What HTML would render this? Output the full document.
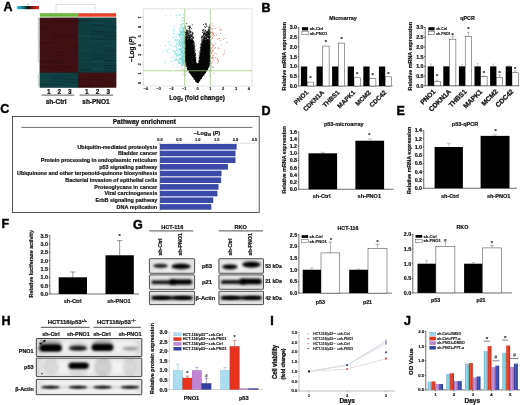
<!DOCTYPE html>
<html lang="en"><head><meta charset="utf-8"><title>Figure</title>
<style>
html,body{margin:0;padding:0;background:#fff;}
body{width:520px;height:405px;overflow:hidden;}
svg{display:block;font-family:"Liberation Sans",Arial,Helvetica,sans-serif;}
</style></head><body>
<svg width="520" height="405" viewBox="0 0 520 405">
<defs>
<linearGradient id="key" x1="0" x2="1" y1="0" y2="0"><stop offset="0" stop-color="#35c8d8"/><stop offset="0.28" stop-color="#1a7e88"/><stop offset="0.5" stop-color="#101010"/><stop offset="0.72" stop-color="#8a1c18"/><stop offset="1" stop-color="#e8281c"/></linearGradient>
<filter id="b1" x="-30%" y="-120%" width="160%" height="340%"><feGaussianBlur stdDeviation="0.85"/></filter>
<filter id="b2" x="-30%" y="-120%" width="160%" height="340%"><feGaussianBlur stdDeviation="2"/></filter>
<filter id="b3" x="-30%" y="-150%" width="160%" height="400%"><feGaussianBlur stdDeviation="1.5"/></filter>
<linearGradient id="jg0" x1="0" x2="1" y1="0" y2="0"><stop offset="0" stop-color="#5fb0c8"/><stop offset="0.4" stop-color="#9adcee"/><stop offset="1" stop-color="#5fb0c8"/></linearGradient>
<linearGradient id="jg1" x1="0" x2="1" y1="0" y2="0"><stop offset="0" stop-color="#c42412"/><stop offset="0.4" stop-color="#f04a34"/><stop offset="1" stop-color="#c42412"/></linearGradient>
<linearGradient id="jg2" x1="0" x2="1" y1="0" y2="0"><stop offset="0" stop-color="#9a68b4"/><stop offset="0.4" stop-color="#cc98dc"/><stop offset="1" stop-color="#9a68b4"/></linearGradient>
<linearGradient id="jg3" x1="0" x2="1" y1="0" y2="0"><stop offset="0" stop-color="#26348c"/><stop offset="0.4" stop-color="#4a5cbc"/><stop offset="1" stop-color="#26348c"/></linearGradient>
<clipPath id="cg00"><rect x="149.4" y="258.7" width="45.2" height="14.6" rx="0.6"/></clipPath>
<clipPath id="cg01"><rect x="149.4" y="274.9" width="45.2" height="14.4" rx="0.6"/></clipPath>
<clipPath id="cg02"><rect x="149.4" y="291.3" width="45.2" height="13.3" rx="0.6"/></clipPath>
<clipPath id="cg10"><rect x="218.9" y="258.7" width="45.2" height="14.6" rx="0.6"/></clipPath>
<clipPath id="cg11"><rect x="218.9" y="274.9" width="45.2" height="14.4" rx="0.6"/></clipPath>
<clipPath id="cg12"><rect x="218.9" y="291.3" width="45.2" height="13.3" rx="0.6"/></clipPath>
<clipPath id="ch0"><rect x="36.3" y="338.5" width="105.5" height="18" rx="1"/></clipPath>
<clipPath id="ch1"><rect x="36.3" y="358.1" width="105.5" height="18.5" rx="1"/></clipPath>
<clipPath id="ch2"><rect x="36.3" y="379.4" width="105.5" height="15.3" rx="1"/></clipPath>
</defs>
<rect width="520" height="405" fill="#fff"/>
<text x="3.5" y="10.7" font-size="12.5" text-anchor="start" font-weight="bold" fill="#000" stroke="#000" stroke-width="0.44">A</text>
<rect x="17" y="6" width="22" height="3.2" fill="url(#key)"/>
<text x="28" y="5.2" font-size="2" text-anchor="middle" font-weight="normal" fill="#555" stroke="#555" stroke-width="0.07">0</text>
<path d="M56 12.5V4.5H95V12.5" fill="none" stroke="#b8c4c8" stroke-width="0.5"/>
<rect x="39.8" y="13.2" width="38.4" height="3.5" fill="#6cb83c"/>
<rect x="78.2" y="13.2" width="38" height="3.5" fill="#e8422c"/>
<rect x="39.8" y="17.8" width="76.4" height="69.7" fill="#1a1a1c"/>
<rect x="39.8" y="17.8" width="38.6" height="55" fill="#3e1013"/>
<rect x="78.2" y="17.8" width="38" height="55" fill="#0f3e41"/>
<rect x="39.8" y="72.6" width="38.6" height="14.9" fill="#0f4043"/>
<rect x="78.2" y="72.6" width="38" height="14.9" fill="#411013"/>
<rect x="52.6" y="17.8" width="12.9" height="0.8" fill="#4c1316" opacity="0.75"/>
<rect x="65.4" y="17.8" width="12.9" height="0.8" fill="#441616" opacity="0.75"/>
<rect x="78.2" y="17.8" width="12.77" height="0.8" fill="#14545a" opacity="0.75"/>
<rect x="90.87" y="17.8" width="12.77" height="0.8" fill="#14545a" opacity="0.75"/>
<rect x="103.53" y="17.8" width="12.77" height="0.8" fill="#124c50" opacity="0.75"/>
<rect x="39.8" y="19.4" width="12.9" height="0.8" fill="#4c1316" opacity="0.75"/>
<rect x="65.4" y="19.4" width="12.9" height="0.8" fill="#441616" opacity="0.75"/>
<rect x="78.2" y="19.4" width="12.77" height="0.8" fill="#0b3234" opacity="0.75"/>
<rect x="52.6" y="20.6" width="12.9" height="1" fill="#340c0f" opacity="0.75"/>
<rect x="65.4" y="20.6" width="12.9" height="1" fill="#340c0f" opacity="0.75"/>
<rect x="78.2" y="20.6" width="12.77" height="1" fill="#0b3234" opacity="0.75"/>
<rect x="39.8" y="22.8" width="12.9" height="1" fill="#441616" opacity="0.75"/>
<rect x="65.4" y="22.8" width="12.9" height="1" fill="#4c1316" opacity="0.75"/>
<rect x="90.87" y="22.8" width="12.77" height="1" fill="#124c50" opacity="0.75"/>
<rect x="90.87" y="24.6" width="12.77" height="1" fill="#0b3234" opacity="0.75"/>
<rect x="39.8" y="26.8" width="12.9" height="0.6" fill="#481215" opacity="0.75"/>
<rect x="90.87" y="26.8" width="12.77" height="0.6" fill="#124c50" opacity="0.75"/>
<rect x="103.53" y="26.8" width="12.77" height="0.6" fill="#0a2c2e" opacity="0.75"/>
<rect x="39.8" y="27.8" width="12.9" height="0.8" fill="#300a0d" opacity="0.75"/>
<rect x="52.6" y="27.8" width="12.9" height="0.8" fill="#4c1316" opacity="0.75"/>
<rect x="103.53" y="27.8" width="12.77" height="0.8" fill="#11484a" opacity="0.75"/>
<rect x="90.87" y="31" width="12.77" height="1" fill="#0a2c2e" opacity="0.75"/>
<rect x="52.6" y="32.8" width="12.9" height="0.6" fill="#441616" opacity="0.75"/>
<rect x="65.4" y="32.8" width="12.9" height="0.6" fill="#4c1316" opacity="0.75"/>
<rect x="78.2" y="32.8" width="12.77" height="0.6" fill="#11484a" opacity="0.75"/>
<rect x="90.87" y="32.8" width="12.77" height="0.6" fill="#0b3234" opacity="0.75"/>
<rect x="103.53" y="32.8" width="12.77" height="0.6" fill="#0a2c2e" opacity="0.75"/>
<rect x="39.8" y="33.8" width="12.9" height="0.6" fill="#441616" opacity="0.75"/>
<rect x="52.6" y="33.8" width="12.9" height="0.6" fill="#340c0f" opacity="0.75"/>
<rect x="90.87" y="33.8" width="12.77" height="0.6" fill="#0a2c2e" opacity="0.75"/>
<rect x="52.6" y="35.6" width="12.9" height="0.8" fill="#340c0f" opacity="0.75"/>
<rect x="65.4" y="35.6" width="12.9" height="0.8" fill="#340c0f" opacity="0.75"/>
<rect x="78.2" y="35.6" width="12.77" height="0.8" fill="#14545a" opacity="0.75"/>
<rect x="90.87" y="35.6" width="12.77" height="0.8" fill="#11484a" opacity="0.75"/>
<rect x="103.53" y="35.6" width="12.77" height="0.8" fill="#0a2c2e" opacity="0.75"/>
<rect x="52.6" y="37.6" width="12.9" height="0.8" fill="#340c0f" opacity="0.75"/>
<rect x="90.87" y="38.8" width="12.77" height="0.8" fill="#0a2c2e" opacity="0.75"/>
<rect x="103.53" y="38.8" width="12.77" height="0.8" fill="#0a2c2e" opacity="0.75"/>
<rect x="39.8" y="40.8" width="12.9" height="0.8" fill="#4c1316" opacity="0.75"/>
<rect x="65.4" y="40.8" width="12.9" height="0.8" fill="#4c1316" opacity="0.75"/>
<rect x="78.2" y="40.8" width="12.77" height="0.8" fill="#124c50" opacity="0.75"/>
<rect x="90.87" y="40.8" width="12.77" height="0.8" fill="#14545a" opacity="0.75"/>
<rect x="103.53" y="40.8" width="12.77" height="0.8" fill="#124c50" opacity="0.75"/>
<rect x="39.8" y="42.4" width="12.9" height="1" fill="#340c0f" opacity="0.75"/>
<rect x="65.4" y="42.4" width="12.9" height="1" fill="#481215" opacity="0.75"/>
<rect x="78.2" y="43.8" width="12.77" height="0.8" fill="#124c50" opacity="0.75"/>
<rect x="39.8" y="45.4" width="12.9" height="1" fill="#4c1316" opacity="0.75"/>
<rect x="52.6" y="45.4" width="12.9" height="1" fill="#441616" opacity="0.75"/>
<rect x="65.4" y="45.4" width="12.9" height="1" fill="#441616" opacity="0.75"/>
<rect x="103.53" y="45.4" width="12.77" height="1" fill="#124c50" opacity="0.75"/>
<rect x="65.4" y="47.6" width="12.9" height="0.8" fill="#340c0f" opacity="0.75"/>
<rect x="103.53" y="47.6" width="12.77" height="0.8" fill="#0b3234" opacity="0.75"/>
<rect x="78.2" y="49.6" width="12.77" height="0.6" fill="#14545a" opacity="0.75"/>
<rect x="52.6" y="50.6" width="12.9" height="0.8" fill="#441616" opacity="0.75"/>
<rect x="78.2" y="50.6" width="12.77" height="0.8" fill="#11484a" opacity="0.75"/>
<rect x="103.53" y="50.6" width="12.77" height="0.8" fill="#0b3234" opacity="0.75"/>
<rect x="52.6" y="51.8" width="12.9" height="0.6" fill="#300a0d" opacity="0.75"/>
<rect x="52.6" y="53.6" width="12.9" height="0.8" fill="#4c1316" opacity="0.75"/>
<rect x="52.6" y="54.8" width="12.9" height="0.8" fill="#300a0d" opacity="0.75"/>
<rect x="90.87" y="54.8" width="12.77" height="0.8" fill="#0b3234" opacity="0.75"/>
<rect x="103.53" y="54.8" width="12.77" height="0.8" fill="#0b3234" opacity="0.75"/>
<rect x="52.6" y="57.4" width="12.9" height="0.6" fill="#4c1316" opacity="0.75"/>
<rect x="90.87" y="57.4" width="12.77" height="0.6" fill="#0b3234" opacity="0.75"/>
<rect x="103.53" y="57.4" width="12.77" height="0.6" fill="#0b3234" opacity="0.75"/>
<rect x="39.8" y="58.4" width="12.9" height="0.6" fill="#481215" opacity="0.75"/>
<rect x="78.2" y="58.4" width="12.77" height="0.6" fill="#14545a" opacity="0.75"/>
<rect x="90.87" y="58.4" width="12.77" height="0.6" fill="#0b3234" opacity="0.75"/>
<rect x="103.53" y="58.4" width="12.77" height="0.6" fill="#11484a" opacity="0.75"/>
<rect x="65.4" y="59.8" width="12.9" height="1" fill="#441616" opacity="0.75"/>
<rect x="78.2" y="59.8" width="12.77" height="1" fill="#0b3234" opacity="0.75"/>
<rect x="103.53" y="59.8" width="12.77" height="1" fill="#0a2c2e" opacity="0.75"/>
<rect x="39.8" y="61.2" width="12.9" height="1" fill="#340c0f" opacity="0.75"/>
<rect x="52.6" y="61.2" width="12.9" height="1" fill="#300a0d" opacity="0.75"/>
<rect x="78.2" y="61.2" width="12.77" height="1" fill="#124c50" opacity="0.75"/>
<rect x="90.87" y="61.2" width="12.77" height="1" fill="#14545a" opacity="0.75"/>
<rect x="52.6" y="63" width="12.9" height="0.6" fill="#340c0f" opacity="0.75"/>
<rect x="65.4" y="63" width="12.9" height="0.6" fill="#4c1316" opacity="0.75"/>
<rect x="39.8" y="64" width="12.9" height="0.8" fill="#441616" opacity="0.75"/>
<rect x="65.4" y="64" width="12.9" height="0.8" fill="#481215" opacity="0.75"/>
<rect x="103.53" y="65.2" width="12.77" height="1" fill="#0a2c2e" opacity="0.75"/>
<rect x="39.8" y="66.6" width="12.9" height="0.8" fill="#300a0d" opacity="0.75"/>
<rect x="52.6" y="66.6" width="12.9" height="0.8" fill="#340c0f" opacity="0.75"/>
<rect x="65.4" y="66.6" width="12.9" height="0.8" fill="#340c0f" opacity="0.75"/>
<rect x="52.6" y="67.8" width="12.9" height="1" fill="#481215" opacity="0.75"/>
<rect x="90.87" y="67.8" width="12.77" height="1" fill="#124c50" opacity="0.75"/>
<rect x="103.53" y="67.8" width="12.77" height="1" fill="#0a2c2e" opacity="0.75"/>
<rect x="52.6" y="69.2" width="12.9" height="1" fill="#300a0d" opacity="0.75"/>
<rect x="78.2" y="69.2" width="12.77" height="1" fill="#0a2c2e" opacity="0.75"/>
<rect x="90.87" y="69.2" width="12.77" height="1" fill="#11484a" opacity="0.75"/>
<rect x="103.53" y="69.2" width="12.77" height="1" fill="#11484a" opacity="0.75"/>
<rect x="52.6" y="70.6" width="12.9" height="0.8" fill="#4c1316" opacity="0.75"/>
<rect x="65.4" y="70.6" width="12.9" height="0.8" fill="#441616" opacity="0.75"/>
<rect x="103.53" y="70.6" width="12.77" height="0.8" fill="#0b3234" opacity="0.75"/>
<rect x="39.8" y="71.8" width="12.9" height="0.6" fill="#4c1316" opacity="0.75"/>
<rect x="65.4" y="71.8" width="12.9" height="0.6" fill="#340c0f" opacity="0.75"/>
<rect x="39.8" y="73.2" width="12.9" height="0.8" fill="#14545a" opacity="0.75"/>
<rect x="78.2" y="73.2" width="12.77" height="0.8" fill="#4c1316" opacity="0.75"/>
<rect x="103.53" y="73.2" width="12.77" height="0.8" fill="#4c1316" opacity="0.75"/>
<rect x="65.4" y="74.8" width="12.9" height="0.6" fill="#0b3234" opacity="0.75"/>
<rect x="78.2" y="74.8" width="12.77" height="0.6" fill="#4c1316" opacity="0.75"/>
<rect x="103.53" y="74.8" width="12.77" height="0.6" fill="#441616" opacity="0.75"/>
<rect x="52.6" y="76.2" width="12.9" height="0.8" fill="#0b3234" opacity="0.75"/>
<rect x="90.87" y="76.2" width="12.77" height="0.8" fill="#340c0f" opacity="0.75"/>
<rect x="103.53" y="76.2" width="12.77" height="0.8" fill="#481215" opacity="0.75"/>
<rect x="52.6" y="78.2" width="12.9" height="0.8" fill="#0a2c2e" opacity="0.75"/>
<rect x="78.2" y="78.2" width="12.77" height="0.8" fill="#481215" opacity="0.75"/>
<rect x="39.8" y="79.4" width="12.9" height="0.6" fill="#14545a" opacity="0.75"/>
<rect x="65.4" y="79.4" width="12.9" height="0.6" fill="#0a2c2e" opacity="0.75"/>
<rect x="78.2" y="79.4" width="12.77" height="0.6" fill="#300a0d" opacity="0.75"/>
<rect x="90.87" y="79.4" width="12.77" height="0.6" fill="#300a0d" opacity="0.75"/>
<rect x="52.6" y="81.2" width="12.9" height="0.8" fill="#0b3234" opacity="0.75"/>
<rect x="78.2" y="81.2" width="12.77" height="0.8" fill="#340c0f" opacity="0.75"/>
<rect x="90.87" y="81.2" width="12.77" height="0.8" fill="#481215" opacity="0.75"/>
<rect x="39.8" y="82.4" width="12.9" height="0.6" fill="#11484a" opacity="0.75"/>
<rect x="52.6" y="82.4" width="12.9" height="0.6" fill="#124c50" opacity="0.75"/>
<rect x="65.4" y="82.4" width="12.9" height="0.6" fill="#0a2c2e" opacity="0.75"/>
<rect x="103.53" y="82.4" width="12.77" height="0.6" fill="#340c0f" opacity="0.75"/>
<rect x="39.8" y="84.2" width="12.9" height="0.8" fill="#0b3234" opacity="0.75"/>
<rect x="52.6" y="84.2" width="12.9" height="0.8" fill="#0a2c2e" opacity="0.75"/>
<rect x="65.4" y="84.2" width="12.9" height="0.8" fill="#11484a" opacity="0.75"/>
<rect x="52.6" y="85.4" width="12.9" height="0.6" fill="#11484a" opacity="0.75"/>
<rect x="65.4" y="85.4" width="12.9" height="0.6" fill="#11484a" opacity="0.75"/>
<rect x="78.2" y="85.4" width="12.77" height="0.6" fill="#300a0d" opacity="0.75"/>
<rect x="90.87" y="85.4" width="12.77" height="0.6" fill="#340c0f" opacity="0.75"/>
<rect x="103.53" y="85.4" width="12.77" height="0.6" fill="#4c1316" opacity="0.75"/>
<rect x="52.6" y="86.4" width="12.9" height="0.8" fill="#14545a" opacity="0.75"/>
<rect x="65.4" y="86.4" width="12.9" height="0.8" fill="#124c50" opacity="0.75"/>
<rect x="78.2" y="86.4" width="12.77" height="0.8" fill="#340c0f" opacity="0.75"/>
<rect x="90.87" y="86.4" width="12.77" height="0.8" fill="#441616" opacity="0.75"/>
<path d="M38.3 17V62M38.3 74V86" fill="none" stroke="#8a9296" stroke-width="0.5"/>
<text x="48.7" y="94.4" font-size="6.4" text-anchor="middle" font-weight="bold" fill="#111" stroke="#111" stroke-width="0.22">1</text>
<text x="86.8" y="94.4" font-size="6.4" text-anchor="middle" font-weight="bold" fill="#111" stroke="#111" stroke-width="0.22">1</text>
<text x="59.2" y="94.4" font-size="6.4" text-anchor="middle" font-weight="bold" fill="#111" stroke="#111" stroke-width="0.22">2</text>
<text x="97.5" y="94.4" font-size="6.4" text-anchor="middle" font-weight="bold" fill="#111" stroke="#111" stroke-width="0.22">2</text>
<text x="69.7" y="94.4" font-size="6.4" text-anchor="middle" font-weight="bold" fill="#111" stroke="#111" stroke-width="0.22">3</text>
<text x="108.2" y="94.4" font-size="6.4" text-anchor="middle" font-weight="bold" fill="#111" stroke="#111" stroke-width="0.22">3</text>
<line x1="41.5" y1="95.1" x2="74.2" y2="95.1" stroke="#111" stroke-width="0.7"/>
<line x1="79.6" y1="95.1" x2="113" y2="95.1" stroke="#111" stroke-width="0.7"/>
<text x="56.2" y="104.1" font-size="6.5" text-anchor="middle" font-weight="bold" fill="#111" stroke="#111" stroke-width="0.23">sh-Ctrl</text>
<text x="96" y="104.1" font-size="6.5" text-anchor="middle" font-weight="bold" fill="#111" stroke="#111" stroke-width="0.23">sh-PNO1</text>
<rect x="143.2" y="8.9" width="108.8" height="77.1" fill="#fff" stroke="#c4c4c4" stroke-width="0.5"/>
<text x="145.8" y="90.4" font-size="3.9" text-anchor="middle" font-weight="bold" fill="#222" stroke="#222" stroke-width="0.14">−4</text>
<line x1="146.4" y1="86" x2="146.4" y2="86.9" stroke="#888" stroke-width="0.35"/>
<text x="158.6" y="90.4" font-size="3.9" text-anchor="middle" font-weight="bold" fill="#222" stroke="#222" stroke-width="0.14">−3</text>
<line x1="159.2" y1="86" x2="159.2" y2="86.9" stroke="#888" stroke-width="0.35"/>
<text x="171.4" y="90.4" font-size="3.9" text-anchor="middle" font-weight="bold" fill="#222" stroke="#222" stroke-width="0.14">−2</text>
<line x1="172" y1="86" x2="172" y2="86.9" stroke="#888" stroke-width="0.35"/>
<text x="184.2" y="90.4" font-size="3.9" text-anchor="middle" font-weight="bold" fill="#222" stroke="#222" stroke-width="0.14">−1</text>
<line x1="184.8" y1="86" x2="184.8" y2="86.9" stroke="#888" stroke-width="0.35"/>
<text x="197.6" y="90.4" font-size="3.9" text-anchor="middle" font-weight="bold" fill="#222" stroke="#222" stroke-width="0.14">0</text>
<line x1="197.6" y1="86" x2="197.6" y2="86.9" stroke="#888" stroke-width="0.35"/>
<text x="210.4" y="90.4" font-size="3.9" text-anchor="middle" font-weight="bold" fill="#222" stroke="#222" stroke-width="0.14">1</text>
<line x1="210.4" y1="86" x2="210.4" y2="86.9" stroke="#888" stroke-width="0.35"/>
<text x="223.2" y="90.4" font-size="3.9" text-anchor="middle" font-weight="bold" fill="#222" stroke="#222" stroke-width="0.14">2</text>
<line x1="223.2" y1="86" x2="223.2" y2="86.9" stroke="#888" stroke-width="0.35"/>
<text x="236" y="90.4" font-size="3.9" text-anchor="middle" font-weight="bold" fill="#222" stroke="#222" stroke-width="0.14">3</text>
<line x1="236" y1="86" x2="236" y2="86.9" stroke="#888" stroke-width="0.35"/>
<text x="248.8" y="90.4" font-size="3.9" text-anchor="middle" font-weight="bold" fill="#222" stroke="#222" stroke-width="0.14">4</text>
<line x1="248.8" y1="86" x2="248.8" y2="86.9" stroke="#888" stroke-width="0.35"/>
<text x="140.6" y="82.9" font-size="3.6" text-anchor="middle" font-weight="bold" fill="#222" stroke="#222" stroke-width="0.13" transform="rotate(-90 140.6 82.9)">0</text>
<line x1="142.3" y1="82.9" x2="143.2" y2="82.9" stroke="#888" stroke-width="0.35"/>
<text x="140.6" y="73.55" font-size="3.6" text-anchor="middle" font-weight="bold" fill="#222" stroke="#222" stroke-width="0.13" transform="rotate(-90 140.6 73.55)">1</text>
<line x1="142.3" y1="73.55" x2="143.2" y2="73.55" stroke="#888" stroke-width="0.35"/>
<text x="140.6" y="64.2" font-size="3.6" text-anchor="middle" font-weight="bold" fill="#222" stroke="#222" stroke-width="0.13" transform="rotate(-90 140.6 64.2)">2</text>
<line x1="142.3" y1="64.2" x2="143.2" y2="64.2" stroke="#888" stroke-width="0.35"/>
<text x="140.6" y="54.85" font-size="3.6" text-anchor="middle" font-weight="bold" fill="#222" stroke="#222" stroke-width="0.13" transform="rotate(-90 140.6 54.85)">3</text>
<line x1="142.3" y1="54.85" x2="143.2" y2="54.85" stroke="#888" stroke-width="0.35"/>
<text x="140.6" y="45.5" font-size="3.6" text-anchor="middle" font-weight="bold" fill="#222" stroke="#222" stroke-width="0.13" transform="rotate(-90 140.6 45.5)">4</text>
<line x1="142.3" y1="45.5" x2="143.2" y2="45.5" stroke="#888" stroke-width="0.35"/>
<text x="140.6" y="36.15" font-size="3.6" text-anchor="middle" font-weight="bold" fill="#222" stroke="#222" stroke-width="0.13" transform="rotate(-90 140.6 36.15)">5</text>
<line x1="142.3" y1="36.15" x2="143.2" y2="36.15" stroke="#888" stroke-width="0.35"/>
<text x="140.6" y="26.8" font-size="3.6" text-anchor="middle" font-weight="bold" fill="#222" stroke="#222" stroke-width="0.13" transform="rotate(-90 140.6 26.8)">6</text>
<line x1="142.3" y1="26.8" x2="143.2" y2="26.8" stroke="#888" stroke-width="0.35"/>
<text x="140.6" y="17.45" font-size="3.6" text-anchor="middle" font-weight="bold" fill="#222" stroke="#222" stroke-width="0.13" transform="rotate(-90 140.6 17.45)">7</text>
<line x1="142.3" y1="17.45" x2="143.2" y2="17.45" stroke="#888" stroke-width="0.35"/>
<text x="197" y="100" font-size="6.4" text-anchor="middle" font-weight="bold" fill="#111" stroke="#111" stroke-width="0.22">Log<tspan font-size="3.8" dy="1.3">2</tspan><tspan dy="-1.3"> (fold change)</tspan></text>
<text x="133.6" y="49.2" font-size="6.4" text-anchor="middle" font-weight="bold" fill="#111" stroke="#111" stroke-width="0.22" transform="rotate(-90 133.6 49.2)">−Log (<tspan font-style="italic">P</tspan>)</text>
<path d="M186.14 39.89 L186.15 40.97 L186.16 42.04 L186.18 43.12 L186.19 44.19 L186.2 45.27 L186.22 46.34 L186.23 47.42 L186.24 48.49 L186.26 49.57 L186.27 50.64 L186.28 51.72 L186.3 52.79 L186.31 53.87 L186.32 54.94 L186.34 56.02 L186.35 57.09 L186.36 58.17 L186.38 59.24 L186.39 60.32 L186.4 61.4 L186.42 62.47 L186.53 63.55 L186.93 64.62 L187.32 65.7 L187.72 66.77 L188.12 67.85 L188.52 68.92 L188.91 70 L189.4 71.07 L190.13 72.15 L190.87 73.22 L191.6 74.3 L192.34 75.37 L193.07 76.45 L193.81 77.52 L194.54 78.6 L195.28 79.67 L196.01 80.75 L196.75 81.82 L197.48 82.9 L198.45 81.82 L199.19 80.75 L199.92 79.67 L200.66 78.6 L201.39 77.52 L202.13 76.45 L202.86 75.37 L203.6 74.3 L204.33 73.22 L205.07 72.15 L205.8 71.07 L206.29 70 L206.68 68.92 L207.08 67.85 L207.48 66.77 L207.88 65.7 L208.27 64.62 L208.67 63.55 L208.78 62.47 L208.8 61.4 L208.81 60.32 L208.82 59.24 L208.84 58.17 L208.85 57.09 L208.86 56.02 L208.88 54.94 L208.89 53.87 L208.9 52.79 L208.92 51.72 L208.93 50.64 L208.94 49.57 L208.96 48.49 L208.97 47.42 L208.98 46.34 L209 45.27 L209.01 44.19 L209.02 43.12 L209.04 42.04 L209.05 40.97 L209.06 39.89 L202.74 39.89 L202.64 40.47 L202.53 41.06 L202.43 41.64 L202.33 42.23 L202.23 42.81 L202.13 43.4 L202.03 43.98 L201.93 44.57 L201.83 45.15 L201.73 45.73 L201.63 46.32 L201.53 46.9 L201.43 47.49 L201.32 48.07 L201.22 48.66 L201.12 49.24 L201.02 49.82 L200.92 50.41 L200.82 50.99 L200.72 51.58 L200.62 52.16 L200.52 52.75 L200.42 53.33 L200.32 53.92 L200.21 54.5 L200.11 55.08 L200.01 55.67 L199.91 56.25 L199.81 56.84 L199.71 57.42 L199.61 58.01 L199.51 58.59 L199.41 59.17 L199.31 59.76 L199.21 60.34 L199.1 60.93 L199 61.51 L198.9 62.1 L198.8 62.68 L198.7 63.27 L196.5 63.27 L196.4 62.68 L196.3 62.1 L196.2 61.51 L196.1 60.93 L195.99 60.34 L195.89 59.76 L195.79 59.17 L195.69 58.59 L195.59 58.01 L195.49 57.42 L195.39 56.84 L195.29 56.25 L195.19 55.67 L195.09 55.08 L194.99 54.5 L194.88 53.92 L194.78 53.33 L194.68 52.75 L194.58 52.16 L194.48 51.58 L194.38 50.99 L194.28 50.41 L194.18 49.82 L194.08 49.24 L193.98 48.66 L193.88 48.07 L193.77 47.49 L193.67 46.9 L193.57 46.32 L193.47 45.73 L193.37 45.15 L193.27 44.57 L193.17 43.98 L193.07 43.4 L192.97 42.81 L192.87 42.23 L192.77 41.64 L192.67 41.06 L192.56 40.47 L192.46 39.89Z" fill="#0a0a0a"/>
<path d="M208.81 46.24h0.9M202.68 71.47h0.9M190.37 64.43h0.9M206.68 59.52h0.9M203.74 42.59h0.9M200.2 58.3h0.9M185.3 62.78h0.9M202.08 48.23h0.9M185.64 59.07h0.9M204.49 42.45h0.9M196.22 81.44h0.9M209.29 46.15h0.9M205.49 59.69h0.9M199.45 58.71h0.9M207.47 63.24h0.9M192.69 54.93h0.9M192.57 44.94h0.9M188.79 57.83h0.9M201.42 47.68h0.9M204.94 52.54h0.9M207.19 42.19h0.9M186.5 52.62h0.9M189.34 45.87h0.9M186.85 47.36h0.9M207.1 64.62h0.9M184.93 61.94h0.9M209.6 47.75h0.9M194.25 74.38h0.9M186.84 34.13h0.9M187.55 52.73h0.9M184.95 40.64h0.9M187.99 52.02h0.9M200.21 53.65h0.9M194.34 73.57h0.9M200.6 60.56h0.9M192.12 54.35h0.9M207.45 45.73h0.9M192.83 77.42h0.9M202.33 67.44h0.9M195.04 64.78h0.9M187.29 42.26h0.9M198.09 80.74h0.9M201.75 60.68h0.9M190.48 46.03h0.9M189.01 53.67h0.9M209.4 59.66h0.9M203.37 71.71h0.9M185.77 54.81h0.9M202.92 49.94h0.9M204.39 51.85h0.9M195 71.86h0.9M202.75 67.84h0.9M197.63 77.36h0.9M208.21 37.43h0.9M195.31 63.85h0.9M189.15 37.47h0.9M206.54 43.48h0.9M188.12 44.55h0.9M189.84 48.3h0.9M194.59 77.87h0.9M198.32 77.83h0.9M192.44 52.16h0.9M195.61 78.77h0.9M198.01 79.95h0.9M193.61 64.04h0.9M192.32 52.13h0.9M207.35 56.29h0.9M208 43.6h0.9M189.36 69.75h0.9M205.74 66.7h0.9M189.73 39.75h0.9M184.86 54.6h0.9M199.26 80.11h0.9M203.19 46.95h0.9M186.89 63.76h0.9M202.72 38.07h0.9M189.53 47.42h0.9M201.66 59.33h0.9M207.26 55.77h0.9M188.7 56.69h0.9M209.9 50.62h0.9M186.82 32.28h0.9M186.01 64.42h0.9M208.25 44.31h0.9M187.6 42.02h0.9M206.98 58.83h0.9M189.31 61.66h0.9M187.57 57.12h0.9M195.91 78.32h0.9M204.63 50.31h0.9M202.98 59.95h0.9M192.47 63.84h0.9M209.2 60.22h0.9M206.34 60.64h0.9M204.51 69.27h0.9M205.09 49.56h0.9M198.73 80.26h0.9M198.4 61.39h0.9M185.91 58.29h0.9M206.31 48.99h0.9M209.36 44.51h0.9M208.25 61.79h0.9M207.84 35.06h0.9M187.16 54.32h0.9M209.08 44.57h0.9M201.12 56.32h0.9M208.84 48.1h0.9M196.18 76.29h0.9M193.42 41.34h0.9M202.36 65.63h0.9M188.34 62.67h0.9M200.43 58.15h0.9M204.04 61.72h0.9M186.38 59.92h0.9M198.17 67.54h0.9M186.06 38.99h0.9M198 76.71h0.9M208.51 31.69h0.9M191.42 46.35h0.9M190.55 60.22h0.9M192.18 72.33h0.9M199.99 77.25h0.9M189.46 53.18h0.9M190.34 43.54h0.9M204.15 72.77h0.9M201.09 78.09h0.9M192.74 51.86h0.9M194.23 48.63h0.9M203.19 58.17h0.9M189.57 44.15h0.9M191.75 54.83h0.9M189.45 26.16h0.9M207.87 36.85h0.9M187.69 34.53h0.9M190.64 66.85h0.9M208.49 50.47h0.9M200.14 52.13h0.9M192.43 41.3h0.9M194.54 79.17h0.9M189.81 31.42h0.9M208.4 55.02h0.9M209.88 50.48h0.9M203.8 46.67h0.9M199.58 72.84h0.9M198.34 65.05h0.9M208.93 51.05h0.9M187.31 44.07h0.9M189.02 47.25h0.9M192.92 65.23h0.9M187.34 53.36h0.9M190.4 47.35h0.9M191.12 43.9h0.9M193.01 71.57h0.9M206.31 56.4h0.9M204.21 60.63h0.9M205.81 38.81h0.9M191.79 53.99h0.9M188.35 40.89h0.9M187.88 69.7h0.9M201.05 74.72h0.9M187.92 45.29h0.9M205.78 44.33h0.9M203.26 56.43h0.9M199.35 71.11h0.9M188.67 44.71h0.9M186.97 68.4h0.9M193.02 62.32h0.9M184.99 54.69h0.9M202.49 46.06h0.9M186.3 52.29h0.9M204.31 62.49h0.9M201.55 69.5h0.9M185.19 56.33h0.9M204.93 49.48h0.9M201.42 42.21h0.9M201.36 47.12h0.9M189.39 72.86h0.9M190.05 43.79h0.9M201.52 48.66h0.9M188.11 61.15h0.9M193.28 74.94h0.9M208.93 60.73h0.9M189.72 35.25h0.9M202.67 67.37h0.9M193.25 67.53h0.9M206.04 68.48h0.9M208.24 61.77h0.9M205.24 60.97h0.9M200.93 75.94h0.9M201.97 55.96h0.9M208.77 41.06h0.9M191.95 42.03h0.9M189.86 63.79h0.9M201.89 52.42h0.9M189.46 53.62h0.9M187.54 54.27h0.9M206.11 69.55h0.9M194.4 75.58h0.9M190.66 50.68h0.9M185.15 62.95h0.9M189.71 69.02h0.9M208.26 50.49h0.9M208.36 51.39h0.9M191.37 64.28h0.9M200.09 57.29h0.9M188.99 49.01h0.9M188.12 62.96h0.9M204.94 48.5h0.9M186.5 55.25h0.9M187.22 67.03h0.9M206.12 56.3h0.9M187.04 59h0.9M189.11 59.38h0.9M201.6 56.5h0.9M189 36.07h0.9M188.05 62.89h0.9M191.56 72.28h0.9M198.4 77.66h0.9M208.71 52.01h0.9M184.74 39.57h0.9M187.84 39.32h0.9M191.53 69.02h0.9M192.53 44.3h0.9M190.61 60.83h0.9M190.92 73.59h0.9M201.48 72.15h0.9M187.54 54.82h0.9M201.97 55.06h0.9M188.74 47.63h0.9M203.62 45.09h0.9M202.29 40.82h0.9M206.38 57.48h0.9M200.86 70.53h0.9M193.05 60.26h0.9M201.54 71.42h0.9M184.94 55.65h0.9M209.58 47.11h0.9M201.03 71.28h0.9M194.42 73.75h0.9M188.83 35.42h0.9M189.16 27.65h0.9M209.09 43.32h0.9M196.58 79.97h0.9M189.93 62.08h0.9M190.8 53.91h0.9M201.16 73.43h0.9M208.63 57.06h0.9M190.15 51.5h0.9M184.82 41.71h0.9M204 48.38h0.9M205.56 35.67h0.9M191.51 59.68h0.9M189.61 55.75h0.9M190.65 68.36h0.9M196.02 65.6h0.9M200 77.05h0.9M203.11 41.43h0.9M189.8 44.27h0.9M192.93 63.38h0.9M187.12 47.26h0.9M205.29 34.09h0.9M202.83 67.84h0.9M192.93 76.76h0.9M206.03 49.23h0.9M206.99 62.11h0.9M202.41 45.77h0.9M197.96 77.62h0.9M193.81 46.94h0.9M194.75 59.08h0.9M190.82 45.42h0.9M191.01 54.91h0.9M185.7 45.22h0.9M206.93 60.71h0.9M201.96 70.09h0.9M201.29 55.13h0.9M205.66 40.71h0.9M205.72 40.35h0.9M193.98 56.96h0.9M185.18 32.43h0.9M191.61 40.16h0.9M199.88 52.52h0.9M187.87 63.23h0.9M185.99 59.63h0.9M189.09 43.6h0.9M192.94 75.88h0.9M202.25 45.97h0.9M198.21 72.04h0.9M199.31 78.24h0.9M186.61 42.98h0.9M209.91 57.75h0.9M206.94 63.81h0.9M198.94 71.37h0.9M205.05 54.04h0.9M199.84 60.51h0.9M185.57 53.01h0.9M186.33 45.27h0.9M190.58 73.47h0.9M191.13 67.19h0.9M199.92 74.75h0.9M189.28 42.94h0.9M202.51 50.94h0.9M189.3 58.99h0.9M203.7 52.33h0.9M189.9 66.18h0.9M200.36 49.44h0.9M188.48 56.65h0.9M207.94 32.98h0.9M209.72 49.94h0.9M193.72 58h0.9M206.62 62.2h0.9M190.79 68.37h0.9M188.47 57.62h0.9M188.45 63.69h0.9M203.24 66.15h0.9M188.55 66h0.9M202.64 73.07h0.9M208.38 44.62h0.9M207.1 61.25h0.9M186.37 47.9h0.9M196.79 77.93h0.9M188.29 56.58h0.9M202.67 36.1h0.9M205.51 59.17h0.9M204.66 62.01h0.9M191.46 68.68h0.9M206.12 68.05h0.9M207.31 32.69h0.9M204.66 47.67h0.9M196.75 79.91h0.9M198.93 75.78h0.9M204.55 52.92h0.9M206.76 51.94h0.9M194.36 68.73h0.9M207.8 50.07h0.9M203.42 49.11h0.9M191.87 75h0.9M209.57 63.07h0.9M192.1 40.24h0.9M189.85 64.31h0.9M208.1 47.3h0.9M186.59 60.47h0.9M205.25 43.17h0.9M185.01 54.74h0.9M194.6 78.06h0.9M209.19 27.76h0.9M206.26 54.69h0.9M205.33 70.79h0.9M186.91 61.2h0.9M207.58 33.36h0.9M191.49 71.71h0.9M202.8 67.73h0.9M198.38 65.99h0.9M192.68 50.73h0.9M190.03 35.92h0.9M187.48 60.26h0.9M186.33 41.27h0.9M194.88 63.6h0.9M202.45 54.2h0.9M199.19 70.27h0.9M189.3 53.67h0.9M199.78 64.64h0.9M197.41 80h0.9M185.45 56.29h0.9M185.28 38.78h0.9M204.02 55.64h0.9M197.37 69.73h0.9M196.22 70.13h0.9M207.72 64.41h0.9M186.01 57.08h0.9M202.03 75.33h0.9M184.75 58.18h0.9M191.76 73.71h0.9M207.68 50.8h0.9M200.63 62.86h0.9M186.11 56.99h0.9M205.72 44.49h0.9M192.38 56.39h0.9M205.83 71.42h0.9M201.86 57.16h0.9M190.67 47.83h0.9M196.63 69.74h0.9M194.28 57.49h0.9M188.94 35.83h0.9M199.85 66.78h0.9M205.7 65.64h0.9M199.35 72.39h0.9M187.19 59.17h0.9M186.64 33.33h0.9M208.77 29.98h0.9M198.85 62.95h0.9M202.95 64.54h0.9M190.76 44.7h0.9M203.94 63.46h0.9M195.68 73.32h0.9M207.92 43.37h0.9M209.79 48.78h0.9M206.4 43.28h0.9M200.52 73.66h0.9M191.33 75.09h0.9M194.53 67.72h0.9M201.8 60.58h0.9M199.55 67.67h0.9M203.43 60.88h0.9M192.68 50.06h0.9M203.45 56.48h0.9M186.42 64.81h0.9M202.45 65.58h0.9M188.29 61.53h0.9M191.23 60.95h0.9M185.17 58.64h0.9M209.62 55.94h0.9M197.4 81.51h0.9M193.34 75.61h0.9M200.39 60.87h0.9M208.36 33.82h0.9M194.22 58.28h0.9M199.93 76.19h0.9M191.36 60.99h0.9M189.91 64.71h0.9M193.23 46.73h0.9M190.69 50.55h0.9M196.03 81.61h0.9M186.23 65.4h0.9M204.43 68.13h0.9M191.41 34.99h0.9M203.67 45.7h0.9M186.31 46.84h0.9M205.9 50.3h0.9M207.23 68.78h0.9M187.3 42.06h0.9M209.67 41.65h0.9M184.98 40.75h0.9M193.46 74.53h0.9M207.02 43.78h0.9M208.7 48.26h0.9M186.26 43.14h0.9M203.92 36.7h0.9M184.52 51.21h0.9M205.59 68.54h0.9M201.24 75.55h0.9M195.94 67.78h0.9M209.08 61.77h0.9M199.94 68.93h0.9M209.92 32.59h0.9M207.93 45.33h0.9M209.75 61.64h0.9M207.56 41.63h0.9M208.2 61.77h0.9M193.48 47.7h0.9M208.23 48.73h0.9M201.86 72.86h0.9M198.69 73.82h0.9M199.54 65.36h0.9M203.92 54.17h0.9M206.77 44.47h0.9M193.74 43.95h0.9M208.17 44.79h0.9M188.51 39.44h0.9M200.48 66.05h0.9M188.54 49.61h0.9M198.52 75.21h0.9M198.47 68.15h0.9M187.16 48.18h0.9M202.74 48.94h0.9M188.12 41.83h0.9M201.41 45.84h0.9M203.15 61.45h0.9M187.23 37.53h0.9M204.35 42.45h0.9M204.26 63.1h0.9M187.07 55.95h0.9M186.48 51.82h0.9M201.29 65.88h0.9M201.25 76.79h0.9M188.47 41.59h0.9M189.64 58.99h0.9M189.57 43.35h0.9M188.87 32.01h0.9M194.88 50.32h0.9M190.24 50.39h0.9M188.01 50.8h0.9M201.24 53.06h0.9M205.07 50.82h0.9M194.61 59.9h0.9M192.33 72.04h0.9M193.6 58.86h0.9M188.28 56.49h0.9M203.1 44.81h0.9M190.92 61.2h0.9M201.79 70.18h0.9M187.63 53.47h0.9M203.26 60.91h0.9M198.98 79.01h0.9M187.37 48.33h0.9M189.14 52.36h0.9M188.06 47.82h0.9M202.93 55.8h0.9M209.59 48.81h0.9M199.48 56.67h0.9M191.5 56.51h0.9M198.59 63.27h0.9M187.94 50.21h0.9M202.53 49.9h0.9M200.15 73.9h0.9M186.47 39.71h0.9M188.85 37.11h0.9M205.47 51.12h0.9M195.91 80.82h0.9M204.76 43.62h0.9M202.02 44.45h0.9M188.83 50.88h0.9M207.71 48.71h0.9M200.38 74.36h0.9M185.66 47.51h0.9M202.22 70.32h0.9M186.22 61.23h0.9M198.94 73.81h0.9M194.9 75.08h0.9M202.09 45.22h0.9M199.95 75.3h0.9M185.19 55.14h0.9M189.63 39.08h0.9M193.3 38.38h0.9M189.25 71.46h0.9M200.12 65.01h0.9M204.52 40.94h0.9M187.31 64.62h0.9M204.11 59.82h0.9M202.85 75.18h0.9M189.89 68.77h0.9M186.23 46.77h0.9M187.6 61.93h0.9M208.95 34.19h0.9M205.74 69.46h0.9M203.85 59.83h0.9M202.86 70.05h0.9M185.74 49.87h0.9M207.9 63.4h0.9M190.93 61.3h0.9M187.19 64.03h0.9M207.06 44.36h0.9M185.02 62.21h0.9M191.97 57.15h0.9M207.33 62.07h0.9M189.22 60.4h0.9M198.38 77.02h0.9M204.06 38.95h0.9M188.42 61.99h0.9M195.17 53.97h0.9M207.31 46.08h0.9M184.58 41.39h0.9M198.7 73.39h0.9M192.51 65.06h0.9M197.17 82.55h0.9M208.56 61.98h0.9M191.24 56.14h0.9M201.51 58.81h0.9M188.14 33.66h0.9M204.39 70.97h0.9M187.5 61.12h0.9M209.38 57.33h0.9M193.52 61.28h0.9M209.26 36.31h0.9M208.55 58.58h0.9M186.16 34.25h0.9M185.55 36.38h0.9M185.39 58.97h0.9M190.99 74.49h0.9M188.04 40.97h0.9M184.93 35.01h0.9M192.39 76.59h0.9M207.45 47.88h0.9M202.75 48.11h0.9M203.43 60.87h0.9M190.01 70.11h0.9M191.98 65.17h0.9M207.17 51.6h0.9M201.34 60.95h0.9M186.2 48.1h0.9M202.7 70.52h0.9M186.4 44.85h0.9M198.95 75.79h0.9M202.57 53.45h0.9M184.77 41.99h0.9M184.47 43.59h0.9M195.98 76.07h0.9M204.3 59.74h0.9M189.32 43.32h0.9M193.16 75.05h0.9M184.98 48.88h0.9M203.08 42.79h0.9M191.37 62.2h0.9M201.79 75.26h0.9M192.84 75.35h0.9M191.53 38.51h0.9M190.94 45.66h0.9M187.64 67.7h0.9M186.28 41.91h0.9M206.09 59.31h0.9M194.66 76.04h0.9M184.4 41.86h0.9M206.12 46.99h0.9M187.42 43.77h0.9M188.9 47.58h0.9M194.37 77.27h0.9M187.67 66.82h0.9M206.95 67.78h0.9M205.32 56.03h0.9M187.32 68.13h0.9M186.2 49.81h0.9M194.82 60.04h0.9M203.96 47.99h0.9M193.66 64.65h0.9M190.94 67.89h0.9M205.38 34.15h0.9M189.12 57.45h0.9M189.62 70.81h0.9M205.44 69.06h0.9M184.67 46.76h0.9M203.19 34.19h0.9M203.02 54.39h0.9M189.25 61.4h0.9M200.22 62.35h0.9M199.08 76.64h0.9M208.23 57.58h0.9M208.46 43.78h0.9M190.66 48.46h0.9M190.64 55.67h0.9M201.87 67.7h0.9M185.99 34.39h0.9M199.3 77.88h0.9M206.93 52.19h0.9M188.99 67.7h0.9M185.98 53.22h0.9M208.9 66.08h0.9M185.44 34.52h0.9M190.94 56.36h0.9M205.08 60.32h0.9M186.56 57.06h0.9M193.2 76.65h0.9M203.2 35.02h0.9M202.8 50.23h0.9M193.24 77.5h0.9M190.85 57.39h0.9M209.46 51.36h0.9M189.39 26.92h0.9M209.75 40.62h0.9M192.09 66.58h0.9M197.29 67.91h0.9M199.59 74.29h0.9M192.25 57.13h0.9M193.19 55.56h0.9M199.36 68.92h0.9M204.4 59.66h0.9M206.11 34.97h0.9M201.12 46.67h0.9M186.74 42.4h0.9M202.04 75.96h0.9M186.68 63.49h0.9M198.27 77.97h0.9M209.51 41.64h0.9M194.31 56.54h0.9M190.77 68.29h0.9M188.77 57.33h0.9M198.13 78.29h0.9M200.38 58.75h0.9M202.78 74.43h0.9M193.59 57.59h0.9M196.25 80.23h0.9M194.01 63.94h0.9M204.45 51.1h0.9M189.72 71.9h0.9M191.46 71.75h0.9M201.07 63.12h0.9M189.71 63.32h0.9M206.29 68.74h0.9M203.58 43.94h0.9M209.26 59.97h0.9M187.75 37.93h0.9M202.63 71.31h0.9M205.46 24.4h0.9M209.69 52.96h0.9M206.39 39.91h0.9M189.71 46.39h0.9M200.77 47.19h0.9M195.53 74.15h0.9M189.16 67.42h0.9M189.64 62.55h0.9M206.84 68.69h0.9M203.8 71.61h0.9M191.48 66.2h0.9M206.12 24.15h0.9M200 76.79h0.9M209.87 33.5h0.9M191.41 75.29h0.9M196.98 71.66h0.9M206.69 40.09h0.9M203.16 46.56h0.9M204.46 63.91h0.9M186.72 58.41h0.9M190.25 45.15h0.9M205.17 37.97h0.9M188.67 39.6h0.9M187.05 37.67h0.9M200.01 77.54h0.9M187.95 42.36h0.9M186.22 44.45h0.9M199.88 77.93h0.9M195.54 70.5h0.9M207.21 41.47h0.9M200.67 48.2h0.9M193.24 66.11h0.9M202.96 57.68h0.9M208.28 58.45h0.9M186.9 52.29h0.9M206.6 61.41h0.9M208.91 56.7h0.9M188.24 58.22h0.9M191.09 45.69h0.9M208.99 56.09h0.9M205.15 38.81h0.9M207.43 56.66h0.9M203.27 71.82h0.9M207.38 44.23h0.9M205.58 61.75h0.9M201.36 74.8h0.9M190.47 53.16h0.9M190.71 43.54h0.9M197.78 75.4h0.9M192.55 70.16h0.9M199.13 63.13h0.9M203.76 47.63h0.9M206.34 45.17h0.9M188.18 70.1h0.9M205.8 69.65h0.9M194.79 60.1h0.9M189.74 57.42h0.9M207.43 37.18h0.9M202.41 43.2h0.9M208.18 63.26h0.9M185.67 57.56h0.9M192.69 41.21h0.9M209.03 48.48h0.9M189.62 42.13h0.9M196.93 67.01h0.9M204.28 69.58h0.9M207.44 50.06h0.9M186.03 55.32h0.9M208.18 42.9h0.9M189.71 65.49h0.9M205.83 34.34h0.9M189.45 48.74h0.9M190.09 54.25h0.9M196.3 79.07h0.9M201.11 66.45h0.9M189.64 42.44h0.9M188.06 35.84h0.9M208.86 44.79h0.9M192.25 73.14h0.9M188.33 52.77h0.9M187.63 44.6h0.9M204.42 46.22h0.9M205.41 57.59h0.9M200.03 71.45h0.9M189.56 54.56h0.9M191.91 53.96h0.9M201.88 69.3h0.9M202.65 60.77h0.9M188.93 64.92h0.9M189.27 54.94h0.9M206.7 41.93h0.9M198.01 80.08h0.9M193.38 54.56h0.9M204.03 46.33h0.9M192.1 45.43h0.9M201.57 63.4h0.9M190.37 44.59h0.9M187.23 43.19h0.9M194.58 59.26h0.9M189.41 56.64h0.9M191.9 39.69h0.9M200.27 47.83h0.9M193.35 60.63h0.9M202.55 51.55h0.9M208.9 50.24h0.9M188.45 49.7h0.9M197.79 82.29h0.9M207.79 45.51h0.9M185.36 45.57h0.9M189.17 40.22h0.9M208.3 65.99h0.9M189.14 59.59h0.9M190.22 73.61h0.9M187.14 43.1h0.9M185.75 34.79h0.9M192.25 75.34h0.9M186.14 32.96h0.9M206.59 63.54h0.9M188.12 49.57h0.9M208.26 44.74h0.9M194.35 74.82h0.9M201.85 43.14h0.9M189.06 70.8h0.9M188.7 31.87h0.9M201.94 50.63h0.9M196 70.01h0.9M195.68 67.26h0.9M204.46 55.26h0.9M188.87 62.28h0.9M186.25 49.72h0.9M187.19 58.83h0.9M196.16 73.96h0.9M188.91 42.55h0.9M203.87 60.3h0.9M186.4 55.45h0.9M209.21 41.69h0.9M187.14 43.88h0.9M191.27 41.57h0.9M203.44 49.89h0.9M191.19 36.26h0.9M207.77 52.42h0.9M199.59 54.09h0.9M194.16 78.95h0.9M186.9 32.97h0.9M207.17 40.91h0.9M202.56 32.24h0.9M205.78 60.54h0.9M188.6 63.81h0.9M191.62 70.75h0.9M187.53 65.28h0.9M198.02 65.05h0.9M190.2 32.35h0.9M199.77 56.9h0.9M199.79 78.16h0.9M187.53 56.82h0.9M204.61 41.39h0.9M201.34 56.39h0.9M204.63 46.85h0.9M206.47 43.71h0.9M206.11 55.09h0.9M200.55 44.51h0.9M191.81 52.8h0.9M188.56 51.29h0.9M191.49 54.07h0.9M206.64 56.07h0.9M209.02 49.19h0.9M187.46 50.44h0.9M204.99 45.01h0.9M208.98 62.4h0.9M196.75 82.27h0.9M189.79 65.14h0.9M187.59 64.84h0.9M201.32 48.12h0.9M207.35 57.49h0.9M189.67 63.76h0.9M205.54 61.17h0.9M184.99 55.89h0.9M198.79 81.03h0.9M190.57 51.91h0.9M189.29 39.76h0.9M196.39 81.49h0.9M207.5 55.41h0.9M185.35 56.53h0.9M199.57 70.61h0.9M193.19 59.99h0.9M208.82 61.12h0.9M186.37 50.05h0.9M192.17 51.81h0.9M192.71 54.84h0.9M200.19 70.41h0.9M208.21 59.31h0.9M202.14 73.78h0.9M208.54 61.62h0.9M207.94 53.94h0.9M185.34 58.97h0.9M198.8 63.02h0.9M202.17 51.87h0.9M187.37 52.43h0.9M204.24 62.71h0.9M187.54 58.32h0.9M191.42 56.52h0.9M196.32 65.06h0.9M204.63 45.83h0.9M208.75 39.26h0.9M198.67 72.95h0.9M206 49.28h0.9M194.13 52.04h0.9M204.87 50.3h0.9M186.14 57.33h0.9M207.37 56.92h0.9M208.85 58.25h0.9M188.83 50.35h0.9M203.31 46.09h0.9M207.43 34.69h0.9M196.73 74.47h0.9M194.72 71.98h0.9M209.87 50.01h0.9M200.95 77.83h0.9M190.88 58.47h0.9M188.73 48.43h0.9M207.81 36.41h0.9M205.28 30.91h0.9M192.03 66.77h0.9M191.11 43.57h0.9M203.71 62.3h0.9M204.21 48.63h0.9M201.58 65.79h0.9M188.84 41.92h0.9M193.78 72.34h0.9M197.04 80.1h0.9M190.69 58.08h0.9M206.15 47.53h0.9M200.93 64.62h0.9M205.29 54.82h0.9M207.09 44.18h0.9M208.99 63h0.9M191.86 53.16h0.9M188.93 59.95h0.9M189.99 52.61h0.9M195 65.91h0.9M200.27 59.75h0.9M186.1 39.62h0.9M191.01 70.23h0.9M202.23 64.79h0.9M184.94 40.64h0.9M204.24 70.37h0.9M203.93 56.38h0.9M204.96 55.15h0.9M204.58 42.61h0.9M206.62 45.38h0.9M200.81 50.33h0.9M197.04 71.85h0.9M191.39 61.75h0.9M206.94 59.13h0.9M193.82 73.08h0.9M208.5 45.93h0.9M205.47 49.63h0.9M206.78 62.61h0.9M203.94 72.82h0.9M209.1 44.06h0.9M190.84 44.07h0.9M187.73 47.12h0.9M191.08 51.15h0.9M208.08 42.06h0.9M195.09 79.18h0.9M184.37 38.57h0.9M209.35 51.81h0.9M205.93 49.83h0.9M202.55 50.93h0.9M208.62 52.1h0.9M193.25 63.86h0.9M187.41 58.87h0.9M205.71 67.25h0.9M189.29 40.41h0.9M189.6 70.57h0.9M200.8 54.15h0.9M188.55 43.18h0.9M203.31 63.36h0.9M185.77 41.12h0.9M204.76 42.7h0.9M194.38 68.59h0.9M189.67 58.36h0.9M200.6 71.48h0.9M190.57 45.64h0.9M205.98 53.26h0.9M206.24 35.66h0.9M195.66 78.69h0.9M187.2 35.56h0.9M200.93 71.71h0.9M185.51 62.46h0.9M205.44 36.94h0.9M188.18 67.46h0.9M204.62 56.21h0.9M191.67 44.83h0.9M193.08 69.37h0.9M185.54 57.4h0.9M189.37 50.88h0.9M185.08 48.84h0.9M184.45 36.96h0.9M209.49 54.39h0.9M189.29 66.5h0.9M191.81 64.37h0.9M205.77 58.02h0.9M190.64 43.55h0.9M200.36 59.24h0.9M188.03 50.59h0.9M201.41 36.08h0.9M206.43 37.95h0.9M204.87 56.54h0.9M193.49 61.08h0.9M207.12 42.79h0.9M206.29 33.69h0.9M185.64 59.16h0.9M208.52 57.32h0.9M199.71 75.37h0.9M208.69 64.14h0.9M190.04 41.11h0.9M207.85 42.74h0.9M188.27 63.22h0.9M204.37 71.85h0.9M189.44 46.43h0.9M186.13 37.69h0.9M187.72 36.08h0.9M209.52 48.42h0.9M209.25 39.77h0.9M185.17 59.3h0.9M196.74 73.63h0.9M203.24 46.51h0.9M192.01 43.3h0.9M191.4 65.29h0.9M190.57 63.8h0.9M191.62 70.93h0.9M187.09 58.43h0.9M188.11 55.66h0.9M202.44 71.97h0.9M190.57 56.73h0.9M206.7 69.09h0.9M205.46 67.7h0.9M208 60.36h0.9M206.74 60.46h0.9M184.82 62.1h0.9M197.05 71.94h0.9M201.17 74.56h0.9M187.27 44.61h0.9M207.38 46.08h0.9M190.34 68.91h0.9M200.45 54.62h0.9M206.34 61.44h0.9M205.39 44.81h0.9M202.9 60.6h0.9M191.82 42.99h0.9M202.02 59.21h0.9M185.63 62.89h0.9M192.47 73.82h0.9M201.59 73.45h0.9M200.5 57.14h0.9M205.52 56.86h0.9M201.8 49.73h0.9M188 52.27h0.9M199.59 77.79h0.9M192.55 60.67h0.9M196.51 78.5h0.9M198.25 75.26h0.9M200.56 75.64h0.9M192.01 57.44h0.9M184.98 51.47h0.9M187.69 63.84h0.9M203.38 45.43h0.9M207.99 51.94h0.9M208.47 27.06h0.9M207.62 35.93h0.9M203.84 72.97h0.9M208.12 40.25h0.9M184.36 32.41h0.9M198.61 69.42h0.9M186.61 48.36h0.9M209.74 42.58h0.9M188.84 29.17h0.9M195.98 68.14h0.9M205.51 67.22h0.9M204.33 49.18h0.9M186.73 52.09h0.9M188.85 69.26h0.9M190.46 44.52h0.9M193.9 49.68h0.9M207.11 51.93h0.9M201.96 57.74h0.9M201.6 58.43h0.9M200.63 76.13h0.9M200.37 57.8h0.9M193.13 68.32h0.9M188.74 57.69h0.9M206.25 43.44h0.9M205.42 40.1h0.9M191.79 55.15h0.9M201.94 46.49h0.9M207.89 36.58h0.9M185.33 54.74h0.9M205.41 61.93h0.9M190.26 63.37h0.9M188.31 48.66h0.9M205.01 47.17h0.9M187.71 52.26h0.9M186.26 50.04h0.9M190.49 58.57h0.9M200.63 76.21h0.9M188.09 40.51h0.9M187.75 70.46h0.9M195.33 67.33h0.9M205.83 61.49h0.9M204.86 30.26h0.9M190.19 35.03h0.9M191.16 51.36h0.9M190.35 56.29h0.9M201.09 54.25h0.9M189.48 70.37h0.9M196.32 72.6h0.9M189.96 27.37h0.9M190.22 69.97h0.9M185.95 59.89h0.9M204.78 62.77h0.9M204.77 44.1h0.9M186.61 41.83h0.9M201.36 72.04h0.9M185.68 46.99h0.9M191.02 71.54h0.9M202.84 60.27h0.9M200.98 38.04h0.9M205.93 61.13h0.9M207.43 59.82h0.9M203.96 48.24h0.9M193.51 76.48h0.9M193.41 52.35h0.9M208.01 39.48h0.9M193.11 60.57h0.9M186.99 66.54h0.9M207.49 41.39h0.9M208.7 50.62h0.9M201.29 61.33h0.9M202.71 65.74h0.9M207.05 63.59h0.9M203.63 49.84h0.9M189.69 65.08h0.9M185.66 56.77h0.9M193.88 49.78h0.9M189.1 42.2h0.9M199.52 69.07h0.9M190.43 49.95h0.9M206.81 46.4h0.9M209.53 48.5h0.9M187.04 68.08h0.9M200.98 60.07h0.9M185.34 39.05h0.9M205.45 49.49h0.9M202.25 58.32h0.9M202.36 74.43h0.9M204.96 65.08h0.9M189.78 46.84h0.9M200.46 48.8h0.9M190.63 56.22h0.9M196.01 76.38h0.9M206.57 42.33h0.9M186.79 62.27h0.9M209.09 44.99h0.9M208.94 44.77h0.9M201.04 51.6h0.9M188.44 56.46h0.9M188.77 51.83h0.9M187.41 37.66h0.9M209.12 61.85h0.9M200.01 78.6h0.9M188.13 44.58h0.9M197.55 74.59h0.9M207.98 46.58h0.9M207.83 60.36h0.9M193.95 45.29h0.9M192.96 74.81h0.9M208.93 32.93h0.9M207.43 47.16h0.9M205.51 40.24h0.9M189.4 50.07h0.9M206.27 61.56h0.9M204.8 68h0.9M185.69 64.79h0.9M186.49 44.23h0.9M190.13 67.85h0.9M198.73 64.26h0.9M186.53 58.65h0.9M203.71 59.77h0.9M193.35 72.85h0.9M193.17 47.33h0.9M191.94 32.33h0.9M192.12 63.19h0.9M189.74 37.4h0.9M190.78 68.55h0.9M192.21 61.4h0.9M208.78 41.59h0.9M187.45 39.02h0.9M200.11 60.55h0.9M200.91 65.34h0.9M193.04 50.85h0.9M200.91 49.86h0.9M207.78 48.02h0.9M193.65 76.27h0.9M208.37 52.51h0.9M207.93 59.77h0.9M190.04 72.87h0.9M197.88 67.14h0.9M189.44 31.98h0.9M203.64 35.74h0.9M206.93 58.94h0.9M207.9 54.88h0.9M187.94 47h0.9M189.32 38.52h0.9M190.98 65.88h0.9M188.74 66.73h0.9M206.51 48.36h0.9M193.81 62.33h0.9M204.99 23.78h0.9M199.88 54.42h0.9M189.42 49.78h0.9M189.44 64.58h0.9M207.08 55.34h0.9M202.6 43.37h0.9M207.91 66.84h0.9M188.93 37.49h0.9M191.97 60.16h0.9M190.09 66.08h0.9M191.31 45.99h0.9M192.92 49.31h0.9M193.46 64.36h0.9M200.58 77.97h0.9M203.4 29.61h0.9M193.2 48.71h0.9M185.74 53.98h0.9M205.99 51.06h0.9M188.95 36.61h0.9M208.4 60.02h0.9M200.31 67.63h0.9M194.06 69.45h0.9M202.8 50.26h0.9M208.14 34.27h0.9M186.93 65.51h0.9M206.05 46.04h0.9M186.83 64.44h0.9M189.02 55.26h0.9M192.18 75.91h0.9M200.32 55.35h0.9M209.05 64.28h0.9M204.45 50.43h0.9M206.1 65.3h0.9M190.22 69.68h0.9M190.44 70.28h0.9M200.99 55.09h0.9M207.4 64.6h0.9M193.08 60.67h0.9M189.61 43.77h0.9M186.23 23.7h0.9M208.52 41.15h0.9M196.92 77.64h0.9M192.74 72.52h0.9M192.91 41.99h0.9M198.13 78.42h0.9M206.85 59.82h0.9M191.22 28.48h0.9M209.18 35.64h0.9M188.23 54.2h0.9M188.17 47.58h0.9M195.57 63.38h0.9M188.25 48.36h0.9M188.75 46.45h0.9M189.87 44.05h0.9M188.25 37.95h0.9M189.13 51.04h0.9M186.93 32.14h0.9M208.56 65.24h0.9M208.92 35.62h0.9M186.49 41.83h0.9M207.54 31.26h0.9M208.75 54.44h0.9M186.24 41.33h0.9M193.38 51.07h0.9M188.03 49.47h0.9M185.95 45.78h0.9M190.61 47.36h0.9M199.65 70.2h0.9M202.02 66.89h0.9M190.96 74.77h0.9M190.16 61.81h0.9M191.38 53.22h0.9M205.02 59.99h0.9M205.69 55.27h0.9M190.5 61.54h0.9M201.96 57.37h0.9M207.47 64.41h0.9M201.96 41.71h0.9M201.53 63.79h0.9M186.75 50.85h0.9M187.29 69.31h0.9M189.09 39.79h0.9M188.82 59.01h0.9M189.06 48.87h0.9M187.75 34.71h0.9M188.66 55.41h0.9M201.28 37.62h0.9M205.38 45.85h0.9M209.81 28.1h0.9M192.17 63.92h0.9M184.96 49.74h0.9M199.93 69.1h0.9M199.26 60.06h0.9M204.38 59.74h0.9M207.36 60.92h0.9M195.22 59.4h0.9M187.6 48.15h0.9M206.76 36.57h0.9M192.48 45.89h0.9M194.33 72.61h0.9M196.27 73.34h0.9M208.89 62.69h0.9M187.19 50.4h0.9M193.08 71.32h0.9M206.58 53.99h0.9M190.75 50.87h0.9M199.2 72.62h0.9M192.65 58.05h0.9M200.82 66.91h0.9M189.69 70.96h0.9M187.97 45.95h0.9M205.45 33.78h0.9M188.89 46.18h0.9M194.32 74.37h0.9M192.89 76.77h0.9M192.62 68.4h0.9M189.22 57.66h0.9M189.96 56.66h0.9M184.9 28.12h0.9M205.28 58.84h0.9M207.25 45.5h0.9M209.62 47.77h0.9M203.08 56.7h0.9M199.44 67.73h0.9M196.06 79.38h0.9M189.48 40.53h0.9M189.04 39.51h0.9M198.18 60.8h0.9M187.36 42.12h0.9M192.81 71.92h0.9M202.19 42.49h0.9M194.27 75.4h0.9M191.63 49.14h0.9M188.66 54.87h0.9M185.34 57.04h0.9M204.55 54.61h0.9M200.54 44.09h0.9M206.77 42.92h0.9M195.48 57.76h0.9M190.22 54.84h0.9M207.01 61.71h0.9M205.96 47.18h0.9M202.31 41.71h0.9M192.69 52.64h0.9M207.77 52.57h0.9M200.13 57.91h0.9M189.58 61.99h0.9M191.89 60.67h0.9M202.2 32.37h0.9M202.36 68.64h0.9M193.68 67.31h0.9M192.85 70.59h0.9M192.8 33.31h0.9M192.7 49.09h0.9M189.53 50.51h0.9M186.13 60.26h0.9M208.25 55.66h0.9M187.67 49.04h0.9M205.66 47.85h0.9M201.33 56.37h0.9M203.74 53.27h0.9M207.76 41.73h0.9M206.1 63.2h0.9M185.65 47.72h0.9M192.29 60.03h0.9M188.41 49.34h0.9M200.53 73.77h0.9M188.77 44.44h0.9M184.9 53.13h0.9M201.25 53.24h0.9M188.9 70.51h0.9M205.45 42.48h0.9M203.8 37.53h0.9M193.52 73.01h0.9M198.04 73.38h0.9M202.56 45.79h0.9M189.32 40.84h0.9M201.33 69.1h0.9M187.17 61.88h0.9M185.32 55.75h0.9M192 60.68h0.9M186.64 58.94h0.9M201.63 44.17h0.9M191.28 67.13h0.9M185.34 35.07h0.9M208.21 58.17h0.9M202.54 63.4h0.9M197.6 81.95h0.9M193.36 74h0.9M195.09 55.07h0.9M205.67 47.6h0.9M190.23 63.84h0.9M203.76 40.14h0.9M199.9 77.73h0.9M200.79 63.63h0.9M207.78 67.43h0.9M194.86 57.43h0.9M202.98 70.79h0.9M202.09 62.59h0.9M189.86 32.4h0.9M201.34 70.45h0.9M198.86 51.8h0.9M205.41 47.78h0.9M205.27 42.4h0.9M194.59 77.75h0.9M194.95 69.01h0.9M195.22 78.19h0.9M201.02 72.32h0.9M185.49 43.16h0.9M190.64 73.41h0.9M199.61 73.25h0.9M207.84 53.25h0.9M193.03 66.57h0.9M192.11 75.54h0.9M187.18 63.47h0.9M206.84 64.73h0.9M207.26 63.44h0.9M190.31 44.86h0.9M188.96 53.26h0.9M189.48 37.5h0.9M187.78 54.33h0.9M188.23 60.71h0.9M184.65 42.03h0.9M192.21 62.19h0.9M185.53 33.56h0.9M199.14 73.93h0.9M192.75 46.34h0.9M190.97 69h0.9M205.78 39.38h0.9M192.7 69.72h0.9M186.02 32.48h0.9M186.63 51.4h0.9M186.48 34.88h0.9M186.1 40.4h0.9M206.05 46.46h0.9M202.32 74.68h0.9M191.51 72.5h0.9M188.19 48.1h0.9M189.7 60.69h0.9M191.82 41.44h0.9M189.45 43.72h0.9M187.12 42.45h0.9M203.47 41.73h0.9M207.41 40.52h0.9M206.5 63.99h0.9M186.17 44.64h0.9M189.76 59.68h0.9M205.86 35.17h0.9M189.72 56.55h0.9M190.82 60.99h0.9M199.32 72.76h0.9M205.76 25.95h0.9M199.8 72h0.9M188.11 46.68h0.9M189.36 64.23h0.9M209.29 35.55h0.9M203.43 51.98h0.9M209.06 53.42h0.9M201.35 74.13h0.9M204.65 41.47h0.9M191.94 67.89h0.9M193.1 58.27h0.9M208.54 45.37h0.9M195.46 81.67h0.9M191.78 60.58h0.9M190.12 53.11h0.9M193.63 62.55h0.9M207.53 56.31h0.9M206.22 35.71h0.9M188.29 59.19h0.9M196.2 71.76h0.9M199.25 73.01h0.9M200.83 62.9h0.9M199.21 57.98h0.9M199.69 77.97h0.9M186.97 56.47h0.9M189.83 61.66h0.9M202.49 42.37h0.9M206.35 49.91h0.9M188.94 68.85h0.9M188.08 43.6h0.9M201.85 54.05h0.9M195.77 78.45h0.9M186.24 44.89h0.9M208.96 34.01h0.9M209.75 37.73h0.9M205.13 49.58h0.9M204.29 40.54h0.9M198.61 74.46h0.9M206.31 52.15h0.9M205.55 42.07h0.9M204.33 65.12h0.9M194.85 77.79h0.9M203.87 46.96h0.9M193.19 72.68h0.9M199.87 55.52h0.9M185.13 39.47h0.9M197.5 77.06h0.9M186.94 57.55h0.9M189.65 49.5h0.9M185.41 66.1h0.9M207.29 48.06h0.9M188.57 49.95h0.9M202.93 39.09h0.9M194.45 77.21h0.9M206.24 61.83h0.9M203.02 53.45h0.9M193.88 77.15h0.9M199.89 69.16h0.9M208.89 65.93h0.9M204.47 49.42h0.9M209.67 57.81h0.9M192.06 74.99h0.9M191.27 47.21h0.9M185.35 48.22h0.9M193.52 73.08h0.9M209.74 56.44h0.9M200.1 46.95h0.9M187.29 61.19h0.9M189.47 72.03h0.9M193.81 70.36h0.9M189.17 69.01h0.9M193.66 74.18h0.9M188.83 28.36h0.9M191 48.68h0.9M205.32 52.21h0.9M194.67 69.61h0.9M205.49 58.01h0.9M191.61 60.36h0.9M203.82 70.14h0.9M192.58 58.22h0.9M192.62 41.77h0.9M202.54 65.05h0.9M201.42 74.62h0.9M186.8 68.35h0.9M195.24 76.98h0.9M185.3 45.35h0.9M185.22 32.22h0.9M206.26 41.66h0.9M208.77 31.93h0.9M190.46 51.84h0.9M201.65 48.44h0.9M187.61 36.25h0.9M208.34 41.9h0.9M193.39 72.95h0.9M202.7 68.6h0.9M202.8 45.97h0.9M191.48 39.78h0.9M191.49 66.25h0.9M201.94 44.42h0.9M203.74 56.71h0.9M207.85 37.67h0.9M186.09 66.57h0.9M203.86 52.01h0.9M205.38 58.77h0.9M200.85 49.21h0.9M206.95 39.38h0.9M192.47 53.95h0.9M199.56 76.02h0.9M184.79 58.03h0.9M206 49.16h0.9M190.82 42.68h0.9M200.91 53.78h0.9M187.91 43.39h0.9M189.11 37.39h0.9M188.56 47.91h0.9M192.77 51.8h0.9M188.67 49.89h0.9M196.44 66.65h0.9M207.82 47.14h0.9M190.25 49.58h0.9M205 27.36h0.9M185.01 60.24h0.9M208.12 30.63h0.9M203.37 72.54h0.9M209.03 60.3h0.9M194.31 59.19h0.9M198.49 77.79h0.9M201.04 76.16h0.9M185.51 63.08h0.9M195.66 76.19h0.9M201.35 51.35h0.9M203.66 62.24h0.9M209.29 46.71h0.9M200.68 50.86h0.9M205.47 56.34h0.9M189.15 48.27h0.9M202.66 51.22h0.9M209.18 50.61h0.9M205.32 32.38h0.9M190.91 58.67h0.9M189.37 72.35h0.9M195.44 67.92h0.9M206.29 63.07h0.9M186.02 42.44h0.9M200.37 65.18h0.9M204.06 48.81h0.9M186.86 61.02h0.9M200.77 63.7h0.9M196.12 79.84h0.9M200.86 62.09h0.9M192.02 76.36h0.9M189.28 72.29h0.9M205.86 53.34h0.9M203.21 48.21h0.9M186.92 55.11h0.9M192.35 45.06h0.9M184.61 53.04h0.9M206.96 42.51h0.9M197.02 75.79h0.9M190.56 66.32h0.9M187 50.56h0.9M202.85 65.23h0.9M205.93 62.82h0.9M189.34 59.1h0.9M192.37 43.19h0.9M190.42 52.72h0.9M193.04 64.34h0.9M195.36 68.8h0.9M199.34 62.71h0.9M208.04 66.46h0.9M208.08 59.98h0.9M185.92 31.67h0.9M187.01 58.13h0.9M203.96 43.36h0.9M206.37 36.48h0.9M207.85 56.97h0.9M193.52 52.47h0.9M206.08 57.76h0.9M193.85 46.91h0.9M185.98 48.72h0.9M201.81 75.31h0.9M198.83 79.72h0.9M188.14 39.93h0.9M207.02 50.08h0.9M203.1 63.3h0.9M187.62 45h0.9M194.76 65.78h0.9M185.09 53.76h0.9M199.05 77.45h0.9M193.1 72.56h0.9M208.52 59.86h0.9M187.08 49.66h0.9M187.1 41.28h0.9M208.74 46.54h0.9M192.76 47.67h0.9M199.27 80.11h0.9M200.03 55.92h0.9M201.9 69.86h0.9M203.27 72.95h0.9M184.88 52.24h0.9M208.93 35.01h0.9M195.45 68.02h0.9M194.33 55.53h0.9M185.53 57.56h0.9M187.36 46.61h0.9M209.84 44.03h0.9M203.99 44.14h0.9M189.55 69.88h0.9M207.92 47.41h0.9M203.83 34.52h0.9M203.89 75h0.9M201.54 64.11h0.9M200.6 78.75h0.9M193.14 70.95h0.9M202.62 45.4h0.9M201.9 48.49h0.9M201.88 39.37h0.9M195.13 65.59h0.9M208.15 54.74h0.9M202.06 55.26h0.9M187.46 57.59h0.9M187.54 43.06h0.9M194.49 56.91h0.9M197.59 75.21h0.9M206.09 55.15h0.9M196.31 81.34h0.9M203.57 56.47h0.9M209.9 50.58h0.9M209.67 48.87h0.9M184.61 47.57h0.9M199.66 62.94h0.9M199.15 53.13h0.9M208.6 42.18h0.9M205.49 31.3h0.9M203.82 71.03h0.9M208.25 32.5h0.9M203.05 47.64h0.9M195.79 73.4h0.9M207.83 40.54h0.9M198.42 70.21h0.9M186.55 30.23h0.9M189.41 69.89h0.9M185.53 63.86h0.9M202.74 55.64h0.9M189.53 35.47h0.9M192.68 59.07h0.9M198.17 69.27h0.9M187.05 50.31h0.9M191.35 63.17h0.9M188.12 62.08h0.9M188.31 65.19h0.9M184.95 40.63h0.9M187.34 50.6h0.9M194.78 53.37h0.9M208.87 32.68h0.9M205.54 57.09h0.9M192.22 40.84h0.9M192.12 57.98h0.9M193.3 61.37h0.9M189.52 68.49h0.9M185.92 66.17h0.9M202.54 61.14h0.9M196.09 81.52h0.9M191.9 52.51h0.9M203.63 51.79h0.9M198.7 71.71h0.9M204.25 50.76h0.9M205.13 63.98h0.9M192.77 76.32h0.9M190.58 48.45h0.9M204.61 69.9h0.9M190.74 36.74h0.9M185.66 66.11h0.9M209.33 55.18h0.9M192.18 72.33h0.9M192.03 64.57h0.9M206.23 43.64h0.9M202.37 57.03h0.9M206.99 66.79h0.9M205.37 47.86h0.9M191.92 66.88h0.9M197.45 78.29h0.9M201.4 59.4h0.9M189.19 52.4h0.9M207.31 43.81h0.9M208.72 42h0.9M195.81 79.22h0.9M201.3 60.4h0.9M184.69 48.39h0.9M189.21 43.25h0.9M187.08 57.18h0.9M190.04 50.31h0.9M193.34 75.46h0.9M207.71 64.33h0.9M207.6 52.02h0.9M195.46 80.34h0.9M199.16 79.33h0.9M200.81 70.09h0.9M187.33 37.13h0.9M191.51 57.52h0.9M204.29 45.17h0.9M187.47 49.73h0.9M205.18 55.12h0.9M192.77 59.37h0.9M204.91 47.36h0.9M193.91 75.51h0.9M200.87 45.42h0.9M185.94 56.54h0.9M187.14 33.68h0.9M208.24 32.73h0.9M185.67 63.81h0.9M198.67 62.73h0.9M185.52 54.95h0.9M200.54 73.37h0.9M198.9 72.47h0.9M189.02 63.3h0.9M208.12 63.9h0.9M191.36 54.5h0.9M206.29 61.14h0.9M190.32 50.05h0.9M207.07 40.27h0.9M205.46 62.12h0.9M201.81 44.01h0.9M186.88 56h0.9M193.3 68.21h0.9M187.48 69.52h0.9M201.77 75.73h0.9M207.1 65.17h0.9M206.29 69.63h0.9M208.76 51.1h0.9M204.27 53.66h0.9M202.77 29.44h0.9M205.09 43.32h0.9M201.55 47.11h0.9M208.03 40.95h0.9M187.13 54.85h0.9M192.76 41.09h0.9M189.34 46.03h0.9M187.77 54.83h0.9M202.05 76.51h0.9M198.89 61.7h0.9M208.44 43.86h0.9M184.74 32.93h0.9M186.47 30.79h0.9M186.81 53.7h0.9M207.95 44.44h0.9M185.23 63.17h0.9M202.98 42.2h0.9M207.57 52.05h0.9M199.91 57.48h0.9M190.53 73.74h0.9M186.22 45.36h0.9M184.76 26.77h0.9M201.29 43.09h0.9M194.97 64.5h0.9M202.95 61.27h0.9M188.96 42.89h0.9M188.1 39.5h0.9M192.69 66.52h0.9M188.74 48.37h0.9M207.14 62.06h0.9M187.16 64.57h0.9M189.29 40.44h0.9M204.3 56.45h0.9M197.33 81.66h0.9M202.69 73.73h0.9M207.85 34.15h0.9M205.89 64.9h0.9M192.11 75.28h0.9M200.44 72.62h0.9M190.25 65.91h0.9M193.69 60.11h0.9M189.97 53.38h0.9M188.8 54.08h0.9M187.48 60.14h0.9M205.2 66.54h0.9M203.39 51.24h0.9M201.44 63.82h0.9M185.9 52.91h0.9M192.05 57.87h0.9M206.68 40.1h0.9M208.82 57.75h0.9M184.63 56.5h0.9M190.29 63.81h0.9M191.77 73.16h0.9M198.23 67.45h0.9M202.7 68.74h0.9M208.17 52.72h0.9M189.67 66.01h0.9M189.96 44.53h0.9M207.13 60.23h0.9M196.21 81.53h0.9M204.48 72.41h0.9M208.37 57.72h0.9M188.78 61.76h0.9M204.54 69.07h0.9M200.43 55.62h0.9M207.6 60.71h0.9M190.17 37.51h0.9M186.71 54.16h0.9M184.64 61.89h0.9M185.16 55.84h0.9M185.87 48.08h0.9M203.74 65.52h0.9M203.33 74.88h0.9M185.65 36.45h0.9M193.44 76.61h0.9M199.31 76.84h0.9M201.18 61.18h0.9M188.08 43.2h0.9M185.57 37.33h0.9M199.46 75.67h0.9M187.39 57.01h0.9M209.69 60.72h0.9M206.89 31.4h0.9M185.37 37.71h0.9M187.3 35.72h0.9M207.46 33.2h0.9M201.42 56.46h0.9M203.02 52.01h0.9M192.98 37.31h0.9M191.88 62.93h0.9M185.77 55.49h0.9M201.23 52.35h0.9M190.64 49.1h0.9M196.02 81.26h0.9M199.15 57.86h0.9M184.88 39.35h0.9M205.13 48.79h0.9M190.19 63.78h0.9M209.33 40.45h0.9M197.64 77.42h0.9M193.27 54.32h0.9M188.59 45.8h0.9M190.17 64.21h0.9M199.35 69.09h0.9M200.93 66.09h0.9M204.31 46.38h0.9M196.73 79.21h0.9M198.68 79.13h0.9M192.29 47.15h0.9M189.32 50.86h0.9M208.34 57.63h0.9M196.72 74.22h0.9M190.81 48.93h0.9M193.93 66.45h0.9M203.44 57.77h0.9M185.11 58.7h0.9M207.01 48.89h0.9M195.36 80.79h0.9M205.14 71.03h0.9M207.31 42.81h0.9M204.18 37.53h0.9M207.62 54.86h0.9M203.31 58.6h0.9M202.8 65.96h0.9M195.87 78.45h0.9M209.23 38.14h0.9M195.57 76.9h0.9M188 68.45h0.9M185.37 61.89h0.9M208.85 61.23h0.9M206.01 51.08h0.9M207.27 62.2h0.9M189.12 71.38h0.9M204.72 50.21h0.9M189.53 55.79h0.9M191.31 49.58h0.9M207.32 48.68h0.9M206.15 48.91h0.9M199.65 72.72h0.9M188.73 58.57h0.9M186.31 46.93h0.9M184.79 42.62h0.9M201.23 48.68h0.9M198.29 75.02h0.9M189.05 43.14h0.9M189.15 45.68h0.9M197.68 68.3h0.9M203.28 57.11h0.9M201.69 61.78h0.9M206.46 61.67h0.9M187.5 53.16h0.9M187.83 42.03h0.9M205.83 59.34h0.9M208.14 48.81h0.9M198.18 77.59h0.9M206.06 48.02h0.9M201.43 50.56h0.9M185.78 40.54h0.9M190.3 49.74h0.9M192.91 46.48h0.9M189.12 41.61h0.9M187.98 43.66h0.9M190.31 64.89h0.9M207.02 58.93h0.9M207.08 63.7h0.9M203.75 33.3h0.9M207.74 56.89h0.9M202.51 67.97h0.9M202.78 66.72h0.9M195.13 76h0.9M184.89 61.18h0.9M187.78 30.89h0.9M188.72 51.19h0.9M198.92 61.7h0.9M204.01 60.2h0.9M189.13 55.52h0.9M189.87 40.34h0.9M189.08 53h0.9M206.52 46.42h0.9M188.78 69.62h0.9M205.18 67.67h0.9M186.04 48.1h0.9M185.25 51.8h0.9M203.57 58.92h0.9M186.02 54.34h0.9M192.27 51.59h0.9M204.16 44.8h0.9M194.74 58.04h0.9M207.36 48.03h0.9M205.3 44.32h0.9M203.7 72.85h0.9M201.88 55.01h0.9M207.86 61.35h0.9M187.61 50.23h0.9M204.76 72.95h0.9M204.26 40.35h0.9M203.26 33.79h0.9M188.4 47.1h0.9M206.62 32.39h0.9M208.4 42.65h0.9M187.11 45.49h0.9M185.32 44.11h0.9M205.44 38.59h0.9M188.51 61.76h0.9M188.73 46.49h0.9M201.31 68.21h0.9M196.58 67.18h0.9M185.35 56.02h0.9M207.86 31.05h0.9M207.33 41.52h0.9M185.28 52.38h0.9M188.9 49.64h0.9M204.14 51.15h0.9M185.62 57.63h0.9M190.46 52.28h0.9M195.57 80.35h0.9M198.82 57.06h0.9M204.19 60.89h0.9M202.39 68.14h0.9M209.32 63.24h0.9M202.54 67.72h0.9M185.2 64.09h0.9M202.98 68.38h0.9M203.12 47.95h0.9M192.87 41.66h0.9M185.47 51.53h0.9M207.49 66.62h0.9M192.79 59.63h0.9M187.68 49.43h0.9M204.96 61.55h0.9M201.44 64.9h0.9M199.26 57.46h0.9M208.94 61.12h0.9M187.24 55.74h0.9M189.41 71.82h0.9M196.3 75.36h0.9M205.99 46.51h0.9M207.94 60.2h0.9M197.61 79.37h0.9M200.58 44.96h0.9M189.4 26.83h0.9M188.27 41.1h0.9M197.88 82.09h0.9M185.34 65.5h0.9M192 44.26h0.9M205.78 59.63h0.9M208.08 44.16h0.9M186.69 50.19h0.9M204.09 52.62h0.9M208.78 59.89h0.9M207.46 39.18h0.9M187.87 32.03h0.9M204.81 48.77h0.9M195.56 79.25h0.9M206.54 45.96h0.9M189.06 48.49h0.9M191.23 62.04h0.9M194.36 52.71h0.9M208.02 50.56h0.9M206.5 65.2h0.9M204.47 44.74h0.9M187 52.09h0.9M207.13 43.69h0.9M185 47.25h0.9M185.2 64.7h0.9M202.76 49.84h0.9M200.71 69.77h0.9M208.89 59.8h0.9M204.27 47.62h0.9M186.58 65.42h0.9M200.68 77.57h0.9M207.55 58.87h0.9M185.91 30.81h0.9M195.2 67.35h0.9M205.2 48.15h0.9M198.2 81.91h0.9M192.39 75.79h0.9M200.04 72.36h0.9M196.64 81.36h0.9M195.8 70.51h0.9M200.23 77.86h0.9M207.57 67.8h0.9M208.66 53.47h0.9M195 80.81h0.9M204.15 58.89h0.9M188.1 46.3h0.9M193.42 48h0.9M209.35 55.08h0.9M193.17 66.53h0.9M206.09 50.98h0.9M209.13 54.99h0.9M189.12 44.47h0.9M184.69 49.63h0.9M207.58 65.35h0.9M200.76 75.77h0.9M203.77 54.75h0.9M190.54 71.51h0.9M207.62 56.39h0.9M208.55 47.35h0.9M204.34 71.51h0.9M191.84 46.4h0.9M207.55 42.79h0.9M202.01 65.25h0.9M194.64 78.17h0.9M203.54 36.6h0.9M188.94 49.22h0.9M204.2 38.31h0.9M203.93 52.53h0.9M201.72 63.29h0.9M202.72 49.16h0.9M188.62 72.27h0.9M189.01 57.31h0.9M195.52 65.22h0.9M190.78 52.35h0.9M188.92 70.3h0.9M204.41 72.93h0.9M203.91 48.18h0.9M187.19 36.55h0.9M205.16 45.74h0.9M209.43 51.63h0.9M203.01 70.18h0.9M208.47 65.94h0.9M203.03 52.78h0.9M188.82 66.64h0.9M189.57 59.61h0.9M188.27 55.19h0.9M191.4 43.44h0.9M201.09 61.26h0.9M203.17 46.92h0.9M208.84 42.48h0.9M204.57 67.22h0.9M208.85 56.03h0.9M200.68 73.11h0.9M205.93 51.87h0.9M205.09 64.66h0.9M185.53 63.61h0.9M206.99 55.96h0.9M185.58 63.37h0.9M200.01 75.63h0.9M187.65 39.37h0.9M189.76 70.68h0.9M189.71 59.23h0.9M200.12 78.8h0.9M185.32 43.38h0.9M192.94 51.8h0.9M188.65 41.69h0.9M208.61 54.59h0.9M185.66 29.19h0.9M206.52 50.38h0.9M204.4 62.31h0.9M194.3 68.23h0.9M207.66 58.79h0.9M203.83 51.91h0.9M185.34 50.68h0.9M186.73 38.54h0.9M194.09 61.6h0.9M206.63 53.4h0.9M206.91 42.12h0.9M202.74 54.67h0.9M186.69 37.55h0.9M191.22 66.08h0.9M206.4 61.65h0.9M187.5 51.32h0.9M188.47 61.11h0.9M193.67 65.54h0.9M191.35 49.84h0.9M194.13 78.04h0.9M208.44 56.49h0.9M208.68 62.66h0.9M206.87 49.91h0.9M203.59 41.56h0.9M190.02 36.17h0.9M200.97 70.27h0.9M198.61 55.79h0.9M207.67 58.86h0.9M190.26 61.79h0.9M201.87 63.13h0.9M203 66.19h0.9M205.99 56.87h0.9M188.38 67.31h0.9M204.82 55.1h0.9M207.72 58.81h0.9M201.39 52.63h0.9M202.17 36.11h0.9M209.44 42.62h0.9M202.06 68.43h0.9M208.9 46.61h0.9M190.91 38.83h0.9M201.26 75.05h0.9M199.17 72.92h0.9M203.95 37.34h0.9M185.51 52.14h0.9M192.25 66.04h0.9M204.27 59.32h0.9M205.02 35.48h0.9M203.91 58.32h0.9M189.01 64.07h0.9M198.26 69.33h0.9M204.16 64.99h0.9M196.48 81.7h0.9M204.5 42.56h0.9M205.11 62.9h0.9M203.13 44.93h0.9M186.01 41.23h0.9M193.98 70.12h0.9M202.85 57.16h0.9M188.34 70.2h0.9M193.72 64.55h0.9M197.05 82.12h0.9M206.23 45h0.9M185.15 58.65h0.9M207.42 61.4h0.9M207.81 58.04h0.9M190.69 43.91h0.9M208.89 62.48h0.9M192.07 59.35h0.9M192.63 48.86h0.9M187.21 56.11h0.9M192.26 47.03h0.9M199.85 70.23h0.9M196.22 67.77h0.9M204.46 56h0.9M186.34 64.76h0.9M191.7 58.18h0.9M187.25 52.47h0.9M186.43 36.14h0.9M202.11 53.36h0.9M187.58 49.55h0.9M187.2 53.29h0.9M201.31 40.07h0.9M187.01 54.05h0.9M203.93 62.95h0.9M207.43 44.5h0.9M202.02 68.62h0.9M195.44 69.87h0.9M209.43 45.72h0.9M192.29 57.06h0.9M208.98 49.88h0.9M193.1 72.72h0.9M204.1 66.86h0.9M187.49 43.35h0.9M188.99 64.4h0.9M198.32 77.22h0.9M185.61 48.64h0.9M205.03 68.74h0.9M184.85 45.53h0.9M204.96 40.48h0.9M192.13 35.99h0.9M199.76 78.95h0.9M193.66 58.13h0.9M190.94 62.54h0.9M190.98 73.31h0.9M201.71 64.01h0.9M208.05 46.22h0.9M186.92 50.82h0.9M207.57 52.59h0.9M201.54 68.58h0.9M202.6 58.17h0.9M198.9 62.92h0.9M206.49 55.63h0.9M186.12 36.04h0.9M199.76 55.55h0.9M187.56 55.81h0.9M204.4 43.34h0.9M204.97 58.13h0.9M203.45 60.67h0.9M205.92 48.83h0.9M190.29 57.9h0.9M200.92 44.91h0.9M204.31 33.58h0.9M206.01 57.04h0.9M202.5 40.84h0.9M209.8 63.3h0.9M188.82 63.94h0.9M205.36 69.46h0.9M204.29 51.06h0.9M206 70.31h0.9M189.46 42.44h0.9M194.61 79.49h0.9M201.09 65.65h0.9M198.35 81.28h0.9M201.99 49.13h0.9M190.09 48.32h0.9M192.07 56.04h0.9M205.68 67.16h0.9M205.51 64.38h0.9M191.38 42.29h0.9M188.64 61.8h0.9M203.52 43.52h0.9M196.75 78.39h0.9M206.22 60.56h0.9M188.41 53.63h0.9M199.97 61.46h0.9M191.12 70.7h0.9M200.2 50.58h0.9M207.53 60.74h0.9M194.76 68.44h0.9M192.99 57.82h0.9M203.56 53.29h0.9M200.83 55.42h0.9M190.57 67.93h0.9M206.7 32.58h0.9M186.18 48.66h0.9M205.1 64h0.9M207.73 42.08h0.9M197.34 80.6h0.9M186.52 45.31h0.9M205.84 44.57h0.9M205.8 44.35h0.9M201 60.25h0.9M191.11 73.55h0.9M195.21 78.6h0.9M208.29 43.92h0.9M201.95 55.39h0.9M193.27 76.04h0.9M204.87 50.53h0.9M201.43 44.5h0.9M189.08 47.51h0.9M202.61 75.17h0.9M205.3 58.11h0.9M194.07 51.8h0.9M205.54 55.8h0.9M208.21 40.16h0.9M190.96 74.25h0.9M192.27 74.36h0.9M189.67 37.19h0.9M187.32 40.37h0.9M202.8 49.84h0.9M186.64 39.75h0.9M203.75 31.39h0.9M195.06 60.58h0.9M193.68 78.74h0.9M204.15 38.68h0.9M187.56 50.6h0.9M186.25 55.51h0.9M203 39.03h0.9M203.44 67.85h0.9M191.02 60.84h0.9M189.27 54.89h0.9M186.56 30.55h0.9M205.64 62.32h0.9M190.72 45.85h0.9M188.67 60.86h0.9M189.93 47.1h0.9M194.45 78.31h0.9M200.94 74.34h0.9M204.02 61.42h0.9M200.51 62.68h0.9M195.4 64.45h0.9M191.75 44.75h0.9M206.68 35.27h0.9M186.59 52.02h0.9M206.93 68.39h0.9M186.84 41.06h0.9M187.35 53.9h0.9M193.2 60.82h0.9M185.59 50.64h0.9M191.63 43.91h0.9M194.43 61.81h0.9M191.58 66.27h0.9M188.93 47.74h0.9M200.6 55.14h0.9M187.67 41.54h0.9M192.51 74.96h0.9M202.41 58.44h0.9M191.46 73.65h0.9M186.98 55.13h0.9M192.86 71.83h0.9M190.35 60.46h0.9M199.08 73.91h0.9M185.32 41.45h0.9M194.53 77.52h0.9M204.32 37.25h0.9M200.44 55.98h0.9M203.78 65.8h0.9M186 51.41h0.9M197.62 71.27h0.9M190.15 44.01h0.9M188.53 50.12h0.9M195.02 70.3h0.9M207.63 41.47h0.9M209.23 30.79h0.9M189.83 59.67h0.9M191.89 33.24h0.9M184.61 42.92h0.9M191.2 46.55h0.9M185.22 52.96h0.9M202.5 61.83h0.9M194.34 65.26h0.9M190.32 54.23h0.9M185.67 63.39h0.9M203.37 55.83h0.9M205.6 59.53h0.9M201.3 50.12h0.9M203.37 71.92h0.9M189.72 65.83h0.9M191.28 48.59h0.9M186.26 50.28h0.9M185.03 57.42h0.9M191.59 59.04h0.9M207.21 68.57h0.9M186.21 58.5h0.9M204.11 58.93h0.9M202.05 68.21h0.9M191.97 61.81h0.9M186.82 56.26h0.9M190.26 51.77h0.9M191.23 49.44h0.9M191.95 41.06h0.9M209.7 55.76h0.9M190.04 46.99h0.9M188.63 38.26h0.9M201.3 69.65h0.9M207.67 41.88h0.9M198.78 78.93h0.9M201.6 54.56h0.9M204.72 41.35h0.9M191.2 40.35h0.9M196.46 70.09h0.9M203.62 47.6h0.9M205.99 68.13h0.9M190.34 72.07h0.9M209.06 50.41h0.9M191.64 71.78h0.9M201.69 48.85h0.9M185.68 59.7h0.9M189.24 59.75h0.9M187.29 30.91h0.9M199.75 66.84h0.9M207.56 48.8h0.9M197.13 74.67h0.9M189.01 58.74h0.9M205.23 43.8h0.9M189.07 38.17h0.9M198.52 66.06h0.9M200.7 50.5h0.9M201.79 48.96h0.9M207.29 49.48h0.9M186.85 54.58h0.9M200.5 64.31h0.9M208.31 51.68h0.9M208.16 42.91h0.9M191.89 34.56h0.9M209.87 42.22h0.9M208.68 27.37h0.9M191.74 72.62h0.9M193.47 75.72h0.9M191.91 54.13h0.9M190.81 66.13h0.9M198.19 65.79h0.9M205.41 60.73h0.9M195.96 78.15h0.9M203.72 60.05h0.9M208.49 53.98h0.9M201.76 49.42h0.9M185.97 44.33h0.9M204.87 72.23h0.9M209.33 45.59h0.9M190.65 47.57h0.9M203.27 47.59h0.9M194.58 73.26h0.9M202.82 70.64h0.9M208.65 28.81h0.9M184.95 51.1h0.9M204.81 65.9h0.9M200.98 77.15h0.9M205.85 37.37h0.9M197.5 80.82h0.9M189.08 68.9h0.9M194.29 67.59h0.9M206 54.72h0.9M193.01 72.49h0.9M202.6 66h0.9M195.58 60.19h0.9M198.84 74.44h0.9M190 45.91h0.9M196.46 71.43h0.9M201.07 65.51h0.9M206.72 47.89h0.9M192.22 43.9h0.9M187.72 64.29h0.9M206.01 47.37h0.9M208.08 41.89h0.9M193.87 75.68h0.9M191.19 53.91h0.9M203.98 57.95h0.9M190.47 38.1h0.9M189.07 56.45h0.9M193.6 78.99h0.9M194.32 70.18h0.9M207.9 50.87h0.9M208.53 30.18h0.9M207.31 33.88h0.9M187.44 49.32h0.9M185.08 39.69h0.9M204.02 68.03h0.9M200.77 58.68h0.9M204.86 58.61h0.9M185.65 49.32h0.9M205.81 45.57h0.9M187.14 57.37h0.9M185.53 44.17h0.9M190.37 45.36h0.9M203.27 67.09h0.9M202.51 71.59h0.9M204.91 50.96h0.9M201.83 49.57h0.9M185.56 56.19h0.9M190.92 73.81h0.9M199.73 47.79h0.9M202.84 46.86h0.9M184.49 52.55h0.9M209.55 61.53h0.9M188.17 39.48h0.9M202.7 44.2h0.9M187.02 45.37h0.9M206.57 70.02h0.9M185.6 38.18h0.9M200.45 59.76h0.9M187.88 49.71h0.9M188.26 33.36h0.9M187.16 52.91h0.9M197.56 82.28h0.9M193.39 47.63h0.9M188.94 55.63h0.9M186.91 60.61h0.9M207.17 67.45h0.9M199.7 62.16h0.9M195.8 80.17h0.9M206.94 52.37h0.9M202.54 65.29h0.9M204.25 67.18h0.9M208.94 36.86h0.9M205.79 65.91h0.9M200.59 69.91h0.9M203.97 50.57h0.9M202.24 50.11h0.9M207 45.14h0.9M198.95 65.84h0.9M203.21 48.26h0.9M185.72 61.27h0.9M188.95 55.61h0.9M197.91 79.24h0.9M205.82 56.17h0.9M191.31 50.55h0.9M206.94 48.79h0.9M202.39 63.58h0.9M186.59 45.84h0.9M185.69 37.07h0.9M187.7 67.8h0.9M189.04 71.1h0.9M187.39 44.43h0.9M193.48 51.38h0.9M205.06 57.6h0.9M204.32 55.34h0.9M190.7 55.39h0.9M201.37 37.08h0.9M205.4 56.26h0.9M187.29 50.58h0.9M203.41 68.54h0.9M190.2 60.42h0.9M209.27 41.45h0.9M190.98 71.26h0.9M201.16 75.81h0.9M204.36 43.63h0.9M185.82 64.19h0.9M187.71 62.56h0.9M186.06 57.38h0.9M187.02 65.48h0.9M200.17 64.86h0.9M201.08 70.52h0.9M208.04 54.47h0.9M186.92 59.63h0.9M205.35 38.45h0.9M184.49 54.05h0.9M190.02 70.79h0.9M201.78 44.48h0.9M189.66 43.28h0.9M209.21 53.97h0.9M193.48 64.09h0.9M195.4 79.17h0.9M191.06 50.4h0.9M188.41 52.98h0.9M207.61 61.07h0.9M193.3 57.83h0.9M196.04 77.51h0.9M206.79 54.19h0.9M197.11 76.62h0.9M209.26 45.07h0.9M188.33 43.19h0.9M197.85 78.83h0.9M196.65 68.24h0.9M190.35 60.76h0.9M208.94 60.1h0.9M196.67 77.47h0.9M202.32 49.26h0.9M209.5 36.44h0.9M188.87 45.58h0.9M197.67 69.83h0.9M206.33 52.76h0.9M208.67 60.98h0.9M202.32 44.5h0.9M200.2 78.25h0.9M205.21 44.56h0.9M189.77 49.7h0.9M207.06 49.68h0.9M204.61 51.26h0.9M206.11 35.5h0.9M204.85 62.21h0.9M203.44 39.18h0.9M202.73 55.1h0.9M189.22 40.29h0.9M192.69 46.45h0.9M204.58 65.22h0.9M206.09 66.47h0.9M204.63 62.93h0.9M207.61 64.31h0.9M208.84 38.7h0.9M187.63 69.85h0.9M205.73 34.86h0.9M205.93 59.62h0.9M202.17 75.7h0.9M199.32 57.56h0.9M209.22 38.13h0.9M203.15 59.13h0.9M203.17 74.17h0.9M188.87 45h0.9M189.35 61.11h0.9M202.52 60.49h0.9M208.22 52.26h0.9M192.72 55.49h0.9M207.04 69.55h0.9M207.28 49.3h0.9M196.77 66.94h0.9M202.91 53.65h0.9M199.7 76.89h0.9M205.26 60.55h0.9M203.26 42.17h0.9M200.1 50.77h0.9M199.39 58.33h0.9M192.08 50.57h0.9M186.6 58.76h0.9M203.68 47.26h0.9M203.22 52.7h0.9M203.58 47.02h0.9M188.53 52.89h0.9M195.06 62.02h0.9M192.47 69.83h0.9M202.14 56.6h0.9M190.01 35.07h0.9M187.25 69.87h0.9M207.51 40.75h0.9M189.74 70.45h0.9M197.95 67.06h0.9M201.43 70.09h0.9M192.74 75.83h0.9M187.54 62.36h0.9M190.08 52.61h0.9M198.17 79.91h0.9M198.82 77.58h0.9M188.7 42.98h0.9M191.76 61.96h0.9M196.81 77.85h0.9M198.7 58.5h0.9M207.77 37.32h0.9M192.57 73.64h0.9M194.93 78.87h0.9M187.43 42.17h0.9M206.55 57.97h0.9M207.84 37.54h0.9M189.3 55.11h0.9M195.4 65.67h0.9M200.35 63.58h0.9M193.35 65.59h0.9M188.1 65.36h0.9M191.02 48.88h0.9M193.09 76.39h0.9M192 44.86h0.9M204.22 47.21h0.9M200.11 70.61h0.9M192.8 69.5h0.9M200.07 74.17h0.9M188.65 41.79h0.9M194.06 68.93h0.9M190.83 42.24h0.9M192.21 56.94h0.9M188.46 42.86h0.9M198.52 71.24h0.9M190.32 66.31h0.9M190.49 54.89h0.9M186.69 54.78h0.9M185.39 50.93h0.9M209.22 32.18h0.9M201.46 70.24h0.9M185.64 40.33h0.9M186.44 47.04h0.9M200.6 58.23h0.9M186.45 60.68h0.9M205.49 59.46h0.9M202.41 75.48h0.9M203.03 35.21h0.9M192.59 56.39h0.9M194.04 42.95h0.9M188.9 37.99h0.9M197.17 78.75h0.9M208.84 51.83h0.9M208.57 64.03h0.9M188.9 64.14h0.9M186.9 59.62h0.9M188.88 49.51h0.9M200.96 74.19h0.9M198.65 79.21h0.9M191.25 34.32h0.9M191.88 54.9h0.9M187.3 56.77h0.9M203.49 37.75h0.9M205.25 70.29h0.9M196.07 80.69h0.9M189.28 30.47h0.9M191.12 53.9h0.9M190.25 72.67h0.9M187.15 65.36h0.9M209.34 47.39h0.9M187.61 67.39h0.9M203.99 32.74h0.9M201.45 62.89h0.9M209.07 27.21h0.9M190.63 48.76h0.9M187.71 38.51h0.9M204.94 62.43h0.9M189.52 69.36h0.9M200.21 73.66h0.9M192.58 47.1h0.9M186.41 57.46h0.9M191.93 33.79h0.9M185.11 48.77h0.9M193.89 71.7h0.9M201.67 61.08h0.9M204.83 44.49h0.9M193.33 69.36h0.9M188.09 68.85h0.9M187.02 45.74h0.9M207.33 61.88h0.9M198.95 79.99h0.9M209.22 49.37h0.9M204.6 65.01h0.9M204.19 60.78h0.9M199.61 76.44h0.9M206.83 34.57h0.9M194.06 55.78h0.9M204.12 64.38h0.9M191.89 50.92h0.9M203.94 63.07h0.9M189.97 42.17h0.9M185.31 51.64h0.9M188.99 44.72h0.9M205.87 60.61h0.9M202.85 73.27h0.9M191.22 49.04h0.9M190.47 70.8h0.9M208.68 61.76h0.9M193.8 56.77h0.9M187.91 64.52h0.9M192.46 50.44h0.9M201.29 73.92h0.9M187.51 56.36h0.9M201.37 70.43h0.9M207.26 47.73h0.9M204.51 49.93h0.9M201.36 65.17h0.9M209.35 57.98h0.9M192.55 41.74h0.9M204.42 50.9h0.9M201.6 43.55h0.9M193.79 75.71h0.9M199.48 72.78h0.9M209.12 25.19h0.9M185.41 44.9h0.9M187.91 65.07h0.9M195.82 65.87h0.9M201.09 55.26h0.9M205.39 64.06h0.9M205.45 55.37h0.9M200.11 67.15h0.9M192.31 45.46h0.9M185.24 59.46h0.9M206.63 52.89h0.9M201.05 55.57h0.9M200.28 78.58h0.9M191.02 39.2h0.9M193.81 59.71h0.9M185.34 37.45h0.9M207.41 50.23h0.9M185.16 50.78h0.9M189.29 39.6h0.9M201.79 70.07h0.9M209.1 60.69h0.9M192.9 63.76h0.9M191.24 72.27h0.9M207.45 59.13h0.9M205.15 30.73h0.9M198.68 79.79h0.9M203.75 40.44h0.9M206.59 56.32h0.9M193.02 58.55h0.9M188.87 59.05h0.9M203.75 50.65h0.9M197.86 78.54h0.9M186.37 43.86h0.9M188.82 47.74h0.9M194.41 75.69h0.9M188.21 49.16h0.9M203.8 72.67h0.9M189.91 52.72h0.9M188.7 47.23h0.9M185.35 52.01h0.9M197.91 80.07h0.9M206.51 26.36h0.9M199.53 55.1h0.9M190.54 63.11h0.9M209.8 44.92h0.9M198.21 79.63h0.9M196.84 71.83h0.9M203.65 60.7h0.9M190.54 51.3h0.9M186.65 47.14h0.9M200.14 61.96h0.9M202.33 64.57h0.9M193.93 60.84h0.9M206.65 31.29h0.9M204.69 43.98h0.9M209.79 27.95h0.9M192.28 47.98h0.9M193.32 61.67h0.9M186.84 62.2h0.9M191.87 57.96h0.9M188.71 44.07h0.9M191.56 49.93h0.9M190.04 31.56h0.9M184.62 42.47h0.9M199.62 67.83h0.9M208.18 53.46h0.9M206.93 34.37h0.9M205.49 43.22h0.9M189.36 66.85h0.9M192.12 69.81h0.9M207.2 65.81h0.9M204.97 71.8h0.9M208.53 45.79h0.9M202.6 62.61h0.9M186.44 43.47h0.9M189.25 50.35h0.9M209.41 57.25h0.9M201.5 72.14h0.9M208.54 46.84h0.9M200.11 60.2h0.9M201.27 40.24h0.9M191.48 64.35h0.9M189.15 48.84h0.9M185.49 59.66h0.9M186.97 56.21h0.9M208.54 55.93h0.9M205.78 49.49h0.9M191.47 60.95h0.9M209.18 63.79h0.9M204.2 37.54h0.9M201.55 67.65h0.9M184.38 48.19h0.9M204.91 51.24h0.9M184.73 44.9h0.9M198.37 80.63h0.9M207.16 44.74h0.9M203.36 50.75h0.9M185.69 53.55h0.9M206.85 50.25h0.9M192.92 42.93h0.9M208.43 59.86h0.9M203.51 51.38h0.9M203.3 53.46h0.9M206.35 59.14h0.9M198.68 65.92h0.9M185.1 62.21h0.9M188.65 65.57h0.9M206.5 60.46h0.9M208.89 34.18h0.9M201.11 45.19h0.9M191.43 59.35h0.9M208.31 63.35h0.9M204.47 39.5h0.9M188.62 51.55h0.9M193.78 76.78h0.9M208.27 29.28h0.9M202.88 68.53h0.9M188.3 64.57h0.9M186.48 65.11h0.9M185.08 53.48h0.9M205.35 37.77h0.9M203.78 50h0.9M190.81 50.09h0.9M208.58 40.59h0.9M204.5 33.83h0.9M205.84 57.87h0.9M207.48 36.82h0.9M192.06 75.65h0.9M194.58 64.35h0.9M205.71 61.43h0.9M199.97 55.58h0.9M194.14 75.55h0.9M186.05 51.31h0.9M191.52 48.52h0.9M207.76 46.22h0.9M197.53 76.55h0.9M203.09 62.02h0.9M188.43 50.13h0.9M204.58 53.59h0.9M204.38 71.53h0.9M189.03 68.16h0.9M192.76 75.46h0.9M208.65 57.13h0.9M204.28 52.78h0.9M205.01 60.04h0.9M195.06 79.26h0.9M207.26 50.07h0.9M205.91 65.38h0.9M205.59 57.28h0.9M193.08 42.19h0.9M197.65 66.41h0.9M206.65 50.78h0.9M197.19 79.26h0.9M203.81 46.91h0.9M202.7 41.27h0.9M200.27 54.93h0.9M205.28 60.46h0.9M209.78 50.83h0.9M204.21 37.57h0.9M192.29 51.16h0.9M206.72 70.02h0.9M204.93 52.22h0.9M205.75 45.98h0.9M209.16 45.63h0.9M203.83 39.22h0.9M199.14 73.67h0.9M200.22 56.69h0.9M190.75 44.64h0.9M202.78 51.56h0.9M205.37 60.89h0.9M205.1 70.28h0.9M208.49 29.57h0.9M207.96 54.11h0.9M206.28 51.16h0.9M187.93 59.44h0.9M208.28 45.22h0.9M185.51 45.13h0.9M185.33 42.34h0.9M185.46 49.16h0.9M196.91 77.62h0.9M199.48 72.56h0.9M205.31 69.7h0.9M197.29 77.25h0.9M196.27 73.36h0.9M189.24 50.17h0.9M198.94 74.43h0.9M204.95 35.26h0.9M198.29 78.34h0.9M190.43 48.15h0.9M192.03 73.99h0.9M199.65 72.04h0.9M195.46 62.72h0.9M203.37 65.44h0.9M205.46 38.52h0.9M206.83 46.91h0.9M209.08 31.28h0.9M208.36 44.6h0.9M205.76 49.06h0.9M194.29 51.06h0.9M189.38 71.33h0.9M200.96 78h0.9M202.63 74.59h0.9M204.2 26.72h0.9M188.57 64.99h0.9M207.7 45.46h0.9M185.09 41.24h0.9M198.04 77.94h0.9M205.96 62.44h0.9M199.84 61.3h0.9M191.35 46.74h0.9M207.47 43.03h0.9M184.93 56.12h0.9M190.71 49.56h0.9M207.58 34.88h0.9M202.31 66.74h0.9M194.8 78.98h0.9M208.61 40.68h0.9M193.89 56.2h0.9M209.31 45.6h0.9M201.69 44.68h0.9M209.59 37.13h0.9M193.25 62.52h0.9M206.21 43.32h0.9M190.12 53.02h0.9M186.42 46.19h0.9M206.45 65.88h0.9M193.54 55.41h0.9M201.68 52.66h0.9M207.73 42.59h0.9M189.85 51.43h0.9M186.91 42.9h0.9M184.54 37h0.9M189.66 61.59h0.9M209.74 40.04h0.9M208.67 42.88h0.9M203.39 33.36h0.9M200.11 61.08h0.9M194.52 78.6h0.9M208.09 64.71h0.9M204.67 33.96h0.9M194.18 60.27h0.9M204.94 53.12h0.9M200.42 76.79h0.9M191.78 47.33h0.9M202.01 30.58h0.9M204.2 57.81h0.9M202.09 64.92h0.9M189.82 52.7h0.9M185.03 60.53h0.9M188.97 63.12h0.9M199.91 76.69h0.9M204.96 59.16h0.9M188.03 49.11h0.9M201.59 66.9h0.9M191.77 70.29h0.9M205.46 69.46h0.9M199.22 78.56h0.9M190.41 63.32h0.9M191.76 72.49h0.9M199.55 63h0.9M202.25 37.37h0.9M199.39 78.47h0.9M185.58 60.21h0.9M209.45 41.85h0.9M206.21 63.43h0.9M185.59 41.66h0.9M196.32 75.21h0.9M189.73 39.89h0.9M209.03 57.14h0.9M200.47 52.57h0.9M203.65 69.33h0.9M202.47 44.39h0.9M188.59 28.52h0.9M190.55 64.13h0.9M203.36 61.2h0.9M186.81 37.62h0.9M194.27 75.14h0.9M203.96 48.64h0.9M186.92 42.78h0.9M193.44 76.78h0.9M207.87 60.78h0.9M207.78 65.24h0.9M190.84 74.21h0.9M192.44 36.62h0.9M192.84 72.51h0.9M190.45 65.87h0.9M194.48 46.48h0.9M204.6 51.78h0.9M190.12 51.88h0.9M192.84 71.22h0.9M189.56 57.8h0.9M194.01 61.88h0.9M201.46 59.45h0.9M204.16 48.25h0.9M208.04 43.2h0.9M190.93 35.86h0.9M186.24 65.51h0.9M195.28 62.66h0.9M185.07 49.27h0.9M209.61 37.5h0.9M185.73 34.02h0.9M204.55 38.05h0.9M208.64 53.13h0.9M203.09 50.28h0.9M206.3 47.9h0.9M184.56 40.68h0.9M208.49 52.62h0.9M186.45 47.42h0.9M208.09 34.25h0.9M203.51 50.67h0.9M202.21 61.36h0.9M205.89 53.63h0.9M206.06 47.32h0.9M190.87 59.32h0.9M189.39 69.71h0.9M191.68 68.9h0.9M203.15 24.42h0.9M204.61 71.35h0.9M196.89 82.39h0.9M199.34 58.21h0.9M206.52 42.15h0.9M186.1 39.77h0.9M193.38 68.59h0.9M201.39 67.56h0.9M207.54 60.4h0.9M203.95 63.65h0.9M203.08 66.25h0.9M209.32 62.66h0.9M202.17 70.39h0.9M202.89 38.58h0.9M207.2 39.85h0.9M209.08 38.62h0.9M191.14 47.49h0.9M205.25 64.96h0.9M204.8 46.11h0.9M190.46 70.16h0.9M199.91 77.59h0.9M185.84 50.7h0.9M184.98 51.63h0.9M199.67 73.91h0.9M193.12 52.76h0.9M191.37 54.28h0.9M208.31 46.51h0.9M189.98 67.08h0.9M200.34 60.08h0.9M208.99 41.36h0.9M203.2 71.93h0.9M187.87 58.83h0.9M206.36 49.51h0.9M190.71 72.64h0.9M194.07 60.85h0.9M184.81 49.21h0.9M189.13 48.85h0.9M185.5 48.14h0.9M191.71 42.78h0.9M200.88 49.41h0.9M203.62 50.83h0.9M209.2 34.25h0.9M190.12 69.36h0.9M200.99 64.77h0.9M190.15 65.39h0.9M186.74 54.53h0.9M185.36 49.04h0.9M190.08 62.1h0.9M188.3 70.87h0.9M206.43 46.65h0.9M201.45 60.93h0.9M189.06 53.14h0.9M206.94 48.04h0.9M188.72 34.15h0.9M200.05 50.33h0.9M185.66 57.76h0.9M192.53 70.18h0.9M192.25 37.68h0.9M205.26 58.94h0.9M191.26 41.94h0.9M186.93 45.93h0.9M207.04 49.77h0.9M203.25 61.54h0.9M203.13 30.71h0.9M186.38 59.03h0.9M185.03 57.15h0.9M190.67 56.49h0.9M185.79 38.62h0.9M205.19 67.7h0.9M202.16 69.56h0.9M205.82 49.49h0.9M209.03 56.1h0.9M198.89 79.43h0.9M202.78 74.46h0.9M206.23 67.75h0.9M198.18 78.52h0.9M190.03 49.87h0.9M206.63 62.75h0.9M185.74 59.32h0.9M207.61 43.17h0.9M208.51 37.48h0.9M190.83 45.43h0.9M209.57 52.48h0.9M188.08 69.49h0.9M191.34 46.42h0.9M203.83 41.9h0.9M206.45 54.82h0.9M206.09 52.4h0.9M194.55 59.32h0.9M208.26 58.76h0.9M209.56 63.8h0.9M209.06 46.92h0.9M201.97 63.73h0.9M203.77 60.66h0.9M204.05 52.54h0.9M197.81 81.84h0.9M193.38 66.08h0.9M202.07 73.81h0.9M206.04 53.39h0.9M209.6 41.97h0.9M208.47 47.51h0.9M204.49 58.02h0.9M191.13 58.95h0.9M205.61 51.93h0.9M190.65 44.48h0.9M199.53 63.29h0.9M192.16 39.26h0.9M188.91 49.87h0.9M201.16 52.82h0.9M203.34 42.44h0.9M200.37 60.21h0.9M198.51 78.74h0.9M192.01 63.68h0.9M185.19 40.13h0.9M189.48 33.46h0.9M207.17 31.73h0.9M200.6 70.61h0.9M207.87 57.21h0.9M189.26 64.59h0.9M197.1 69.81h0.9M204.87 55.44h0.9M205.22 56.49h0.9M191.84 70.98h0.9M191.38 58.48h0.9M201.58 74.81h0.9M208.61 45.23h0.9M193.33 44.16h0.9M189.04 46.1h0.9M187.9 26.02h0.9M206.7 51.5h0.9M190.68 61.9h0.9M208.35 42.98h0.9M205.91 35.98h0.9M201.13 45.51h0.9M205.47 68.36h0.9M207.16 41.8h0.9M207.38 32.2h0.9M198.79 78.09h0.9M185.22 48.36h0.9M204.51 50.72h0.9M206.46 64.46h0.9M207.54 58.72h0.9M197.51 80.27h0.9M194.94 55.62h0.9M202.06 61.24h0.9M197.12 76.23h0.9M196.43 80.24h0.9M205.81 51.62h0.9M187.84 42.63h0.9M187.12 55.2h0.9M191.81 49.19h0.9M206.14 32.6h0.9M203.06 71.55h0.9M192.17 69.91h0.9M208.14 33.09h0.9M187.75 69.23h0.9M204.6 38.38h0.9M192.96 53.23h0.9M203.59 54.71h0.9M189.03 57.17h0.9M208.26 37.58h0.9M199.26 78.52h0.9M202.44 69.2h0.9M200.39 57.52h0.9M207.65 63.17h0.9M201.21 64.01h0.9M202.76 66.8h0.9M207.83 52.34h0.9M192.67 37.68h0.9M187.99 56.4h0.9M187.55 44.18h0.9M200.1 75.83h0.9M190.18 40.23h0.9M186.92 45.37h0.9M200.11 71.84h0.9M199.49 74.08h0.9M204.47 61.3h0.9M203.06 61.27h0.9M197.21 78.56h0.9M208 37.82h0.9M187.09 32.03h0.9M188.87 54.24h0.9M191.04 63.42h0.9M206.51 36.68h0.9M189.07 43.61h0.9M206.53 44.64h0.9M203.29 55.69h0.9M208.68 56.87h0.9M202.19 47.5h0.9M198.68 71.85h0.9M201.14 72.14h0.9M195.74 81.46h0.9M201.16 45.09h0.9M204.36 50.09h0.9M187.94 64.54h0.9M202.81 74.58h0.9M187.01 44.86h0.9M201.57 73.86h0.9M192.59 68.38h0.9M204.54 68.71h0.9M208.43 32.28h0.9M206.15 52.95h0.9M191.49 47.51h0.9M191.23 43.59h0.9M191.79 24.93h0.9M209.65 45.35h0.9M197.31 80.34h0.9M186.94 43.53h0.9M204.97 72.7h0.9M195.07 78.26h0.9M185.4 60.7h0.9M190.23 57.09h0.9M187.39 26.66h0.9M191.26 35.91h0.9M184.68 39.86h0.9M185.81 45.9h0.9M208.54 36.7h0.9M202.12 75.22h0.9M199.26 61.92h0.9M193.4 45.6h0.9M206.53 65.07h0.9M190.72 31.98h0.9M195.07 78.99h0.9M209.49 60.71h0.9M189.6 29.75h0.9M206.87 47.71h0.9M207.45 41.75h0.9M203.84 40.26h0.9M190.65 41.49h0.9M207.77 43.52h0.9M186.99 37.93h0.9M186.67 48.96h0.9M190.76 51.6h0.9M195.26 54.06h0.9M198.08 72.8h0.9" stroke="#0a0a0a" stroke-width="0.9" fill="none"/>
<path d="M181.47 33.12h0.9M180.7 61.93h0.9M180.22 51.93h0.9M183.48 31.36h0.9M182.81 61.9h0.9M178.86 49.4h0.9M181.94 51.24h0.9M182.65 17.55h0.9M181.88 50.17h0.9M175.9 15.27h0.9M181.88 24.46h0.9M170.7 48.83h0.9M180.49 58.05h0.9M163.61 61.7h0.9M179.45 34.72h0.9M183.3 54.12h0.9M181 20.96h0.9M175.6 45.4h0.9M181.52 62.97h0.9M182.3 33.04h0.9M180.21 27.29h0.9M183.28 29.74h0.9M175.94 47.47h0.9M180.77 58.97h0.9M183.21 38.69h0.9M180.63 46.22h0.9M182.41 28.74h0.9M183.51 60.85h0.9M175.32 57.86h0.9M181.7 55.71h0.9M178.84 43.45h0.9M166.79 51.47h0.9M178.7 44.62h0.9M179.87 51.48h0.9M183.34 47.19h0.9M182.31 31.96h0.9M182.62 37.99h0.9M176.32 59.49h0.9M183.49 61.65h0.9M177.7 59.4h0.9M168.98 41.65h0.9M179.33 15.15h0.9M182.19 17.85h0.9M176.01 50.41h0.9M176.05 55.24h0.9M175.65 55.06h0.9M182.03 58.33h0.9M180.32 48.37h0.9M181.87 34.09h0.9M173.13 56.88h0.9M180.31 33.09h0.9M183.08 62.97h0.9M177.1 48.25h0.9M180.53 54.42h0.9M182.4 50.21h0.9M180.83 48.7h0.9M172.71 29.54h0.9M175.62 44.92h0.9M182.42 45.73h0.9M183.8 44.44h0.9M183 29.45h0.9M182.95 53.05h0.9M182.48 34.44h0.9M177.22 54.08h0.9M182.31 38.62h0.9M173.14 30.82h0.9M179.19 57.37h0.9M183.76 27.64h0.9M181.35 31.65h0.9M183.83 41.5h0.9M178.51 62.47h0.9M180.33 49.83h0.9M181.81 52.69h0.9M182.29 62.88h0.9M182.42 50.82h0.9M174.34 54.62h0.9M179.24 49.39h0.9M178.92 54.54h0.9M183.51 56.92h0.9M183.11 55.04h0.9M169.84 44.59h0.9M175.01 51.33h0.9M182.85 56.59h0.9M174.89 51.72h0.9M180.95 40.71h0.9M182.86 48.32h0.9M177.84 55.72h0.9M180.91 51.45h0.9M183.93 54.05h0.9M182.54 28.22h0.9M181.39 26.32h0.9M180.61 57.21h0.9M181.59 65.5h0.9M180.82 58.73h0.9M182.55 35.09h0.9M182.57 62.9h0.9M183.5 61.07h0.9M170.82 57.54h0.9M180.84 35.57h0.9M182.32 53.27h0.9M174.88 60.14h0.9M179.88 30.15h0.9M182.4 30.95h0.9M180.22 34.39h0.9M182.29 30.31h0.9M174.16 31.08h0.9M183.9 47.14h0.9M165.15 15.77h0.9M178.52 33.35h0.9M179.37 50.25h0.9M183.86 50.55h0.9M180.42 59.11h0.9M178.14 61.16h0.9M182.5 23.92h0.9M180.69 33.37h0.9M181.95 44.9h0.9M178.95 40.96h0.9M181.8 43.05h0.9M182.6 63.88h0.9M182.71 61.5h0.9M182.28 47.4h0.9M182.61 47.53h0.9M183.48 31.41h0.9M179.11 31.68h0.9M175.07 40.69h0.9M182.28 55.24h0.9M181.04 43.02h0.9M173.19 38.17h0.9M180.18 39.32h0.9M183.75 59.77h0.9M181.75 39.55h0.9M181.94 45.77h0.9M180.69 37.49h0.9M183.54 41.98h0.9M179.37 40.42h0.9M180.36 36.08h0.9M178.3 34.85h0.9M175.14 39.38h0.9M183.94 56.48h0.9M183.72 25.75h0.9M179.55 46.33h0.9M179.3 37.74h0.9M178.73 54.54h0.9M182.24 57.82h0.9M176.18 36.74h0.9M182.32 65.09h0.9M174.29 60.33h0.9M182.93 42.68h0.9M179.48 48.35h0.9M182.14 42.83h0.9M183.45 57.19h0.9M182.39 41.41h0.9M180.42 59.71h0.9M183.74 36.59h0.9M178.81 41.92h0.9M183.67 36.16h0.9M181.11 29.73h0.9M180.71 39.28h0.9M183.02 58.41h0.9M179.48 44.84h0.9M180.05 42.22h0.9M182.82 30.53h0.9M182.3 18.39h0.9M183.6 34.32h0.9M169.68 45.53h0.9M180.79 61.67h0.9M182.25 28.03h0.9M172.77 32.94h0.9M181.83 44.94h0.9M179.67 55.41h0.9M181.35 52.64h0.9M181.59 49.54h0.9M172.77 37.69h0.9M183.15 32.91h0.9M182.08 60.07h0.9M181.45 56.55h0.9M180.06 63.72h0.9M182.41 46.46h0.9M178.13 50.09h0.9M183.07 46.4h0.9M179.51 60.19h0.9M180.45 31.64h0.9M182.15 63.66h0.9M182.4 61.67h0.9M183.21 36.73h0.9M177.12 52.15h0.9M182.6 44.36h0.9M173.83 46.73h0.9M182.28 36.45h0.9M182.17 39.8h0.9M179.39 34.35h0.9M181.31 59.46h0.9M176.61 56.68h0.9M179.84 45.05h0.9M181.46 34.38h0.9M182.61 20.58h0.9M182.22 64.67h0.9M183.38 54.45h0.9M179.65 53.63h0.9M180.58 57.53h0.9M183.89 57.09h0.9M183.3 59.29h0.9M175.31 52.95h0.9M182.89 56.57h0.9M173.89 33.38h0.9M182.2 48.38h0.9M182.25 64.28h0.9M182.54 51.06h0.9M180.99 32.08h0.9M180.92 51.27h0.9M179.09 34.9h0.9M178.28 46.09h0.9M183.18 63.1h0.9M178.97 29.3h0.9M183.18 54.4h0.9M183.54 48.96h0.9M181 52.82h0.9M181.88 23.82h0.9M180.41 28.32h0.9M179.95 15.01h0.9M182.57 61.84h0.9M183.92 39.92h0.9M182.43 34.5h0.9M179.12 63.05h0.9M181.84 38.21h0.9M170.58 61.55h0.9M181.7 35.19h0.9M181.94 51.98h0.9M180.8 61.81h0.9M181.55 58.98h0.9M165.3 63.13h0.9M177.37 43.27h0.9M181.96 56.59h0.9M179.61 42.3h0.9M182.32 47.18h0.9M177.42 39.48h0.9M165.07 45.59h0.9M177.52 55.22h0.9M177.82 14.97h0.9M182.6 62.06h0.9M181.98 56.15h0.9M183.06 41.39h0.9M183.14 43.43h0.9M181.13 52.6h0.9M162.11 52.34h0.9M178.4 41.2h0.9M183.39 31.56h0.9M182.22 53.57h0.9M181 43.28h0.9M177.23 44.96h0.9M182.59 28.14h0.9M179.01 43.48h0.9M183.13 14.47h0.9M182.13 31.92h0.9M173.68 50.09h0.9M182.02 62.09h0.9M183.51 62.83h0.9M176.46 17.34h0.9M183.65 33.09h0.9M176.82 48.67h0.9M181.35 42.07h0.9M181.95 59.65h0.9M183.88 54.8h0.9M183.16 59.45h0.9M174.73 36.87h0.9M183.55 56.52h0.9M183.79 37.34h0.9M177.44 60.79h0.9M183.81 56.22h0.9M167.77 42.15h0.9M183.62 41.76h0.9M182.97 47.85h0.9M179.76 24.72h0.9M176.97 39.35h0.9M181.75 56.28h0.9M181.1 49.63h0.9M183.44 23.33h0.9M179.49 59.29h0.9M181.82 31.96h0.9M182.26 60.62h0.9M182.6 40.4h0.9M182.77 65.37h0.9M183.78 21.1h0.9M183.95 44.31h0.9M183.96 50.69h0.9M182.1 42.33h0.9M180.79 44h0.9M179.02 59.21h0.9M181.04 65.25h0.9M182.04 61.37h0.9M182.35 39.76h0.9M178.92 41.86h0.9M176.08 41.13h0.9M183.63 58.14h0.9M182.4 57.15h0.9M183.31 42.03h0.9M180.85 32.61h0.9M183.37 36.15h0.9M180.84 33.29h0.9M172.38 46.37h0.9M176.9 66.94h0.9M183.27 44.57h0.9M179.93 49.23h0.9M181.27 46.91h0.9M183.65 28.17h0.9M176.31 50.15h0.9M176.81 40.17h0.9M181.14 35.22h0.9M180.65 58.79h0.9M183.71 64.83h0.9M181.63 46.44h0.9M182.63 60.32h0.9M179.9 46.07h0.9M179.1 34.53h0.9M183.62 49.6h0.9M180.5 27.09h0.9M179.92 53.74h0.9M167.75 52.69h0.9M182.77 34.5h0.9M173.94 27.89h0.9M183.08 62.77h0.9M173.26 50.41h0.9M173.56 42.11h0.9M182.95 51.17h0.9M183.21 40.37h0.9M175.73 53.68h0.9M167.64 49.49h0.9M180.32 39.38h0.9M180.87 58.9h0.9M181.41 44.44h0.9M182.39 59.79h0.9M183.85 38.97h0.9M172.8 65.4h0.9M181.47 55.57h0.9M183.25 32.23h0.9M177.74 51.95h0.9M181.04 25.14h0.9M183.1 54.91h0.9M173.06 26h0.9M181.3 59.67h0.9M176.69 33.84h0.9M173.73 60.62h0.9M181.73 42.92h0.9M183.5 54.51h0.9M180.41 31.79h0.9M183.77 46.26h0.9M175.97 59.92h0.9M183.94 65.24h0.9M183.7 35.44h0.9M178.52 63.17h0.9M177.94 62.35h0.9M177.23 54.1h0.9M183.81 32.14h0.9M181.02 61.51h0.9M180 37.27h0.9M182.82 32.45h0.9M181.45 37.63h0.9M183.87 36.81h0.9M176.08 43.2h0.9M183.4 27.4h0.9M177.4 63.88h0.9M179.01 35.53h0.9M165.21 50.06h0.9M171.44 61.91h0.9M172.83 50.91h0.9M181.59 50.31h0.9M178.45 41.27h0.9M180.05 55.16h0.9M181.63 54.09h0.9M183.74 47.51h0.9M183.14 52.5h0.9M175.75 58.97h0.9M182.75 38.76h0.9M182.55 32.25h0.9M179.38 63.65h0.9M179.1 35.95h0.9M170.38 15.81h0.9M183.74 37.91h0.9M174.48 52.93h0.9" stroke="#6ed6de" stroke-width="0.9" fill="none"/>
<path d="M210.58 36.56h0.9M219.63 29.69h0.9M210.92 48.44h0.9M214.77 57.38h0.9M220.8 29.91h0.9M210.95 32.38h0.9M224.42 38.35h0.9M223.91 53.18h0.9M214.26 48.17h0.9M219.94 40.3h0.9M211.34 52.83h0.9M216.03 35.08h0.9M218.91 38.54h0.9M210.93 53.57h0.9M212.69 45.54h0.9M212.41 46.73h0.9M212.49 25.7h0.9M210.65 29.93h0.9M215.42 28.45h0.9M212.44 32.44h0.9M224.19 50.78h0.9M212.71 58.13h0.9M220.01 33.48h0.9M211.34 63.49h0.9M216.74 59.59h0.9M222.83 54.85h0.9M217.54 48.02h0.9M220.84 44.92h0.9M214.55 52.98h0.9M213.21 59.73h0.9M211.32 44.03h0.9M214.52 43.77h0.9M210.62 58.2h0.9M213.41 50.24h0.9M218.51 48.25h0.9M212.85 45.4h0.9M218.77 38.49h0.9M219.5 29.75h0.9M211.53 47.52h0.9M218.68 27.36h0.9M211.51 50.24h0.9M213.74 35.44h0.9M212.41 35.41h0.9M215.78 54.23h0.9M217.21 39.27h0.9M211.75 23.83h0.9M211.38 34.97h0.9M217.02 63.14h0.9M211.96 51.73h0.9M212.31 49.82h0.9M210.8 43.06h0.9M211.87 33.4h0.9M217.6 60.29h0.9M212.12 45.11h0.9M216.96 58.68h0.9M213.14 33.31h0.9M212.2 37.54h0.9M210.97 52.02h0.9M212.28 61.35h0.9M213.08 55.19h0.9M214.81 47.78h0.9M212.12 57.7h0.9M212.19 55.93h0.9M217.92 61.69h0.9M212.84 34.65h0.9M212.1 31.94h0.9M211.76 38.45h0.9M222.91 39.16h0.9M210.85 39.65h0.9M212.25 57.36h0.9M211.15 28.7h0.9M211.27 58.44h0.9M226.56 42.63h0.9M212.57 28.92h0.9" stroke="#e07462" stroke-width="0.9" fill="none"/>
<path d="M213.4 67.55h0.8M185.64 71.6h0.8M209.03 70.22h0.8M184.49 74.85h0.8M211.19 67.18h0.8M185.46 65.08h0.8M213.03 72.8h0.8M208.87 75.85h0.8M210.76 62.49h0.8M213.67 67.2h0.8M181.05 65.52h0.8M210.44 63.09h0.8M185.24 63.08h0.8M213.68 73.37h0.8M184.8 75.73h0.8M211.4 69.91h0.8M185.33 65.71h0.8M210.67 63.63h0.8M185.54 65.85h0.8M212.37 66.77h0.8M210.58 66.57h0.8M210.19 70.35h0.8M181.84 67.16h0.8M183.91 71.65h0.8M209.23 71.36h0.8M184.54 64.65h0.8M210.65 76.25h0.8M184.67 62.85h0.8M209.51 72.4h0.8M210.49 65.43h0.8M210.24 71.03h0.8M185.64 71.44h0.8M209.76 64.99h0.8M210.76 64.87h0.8M209.12 62.83h0.8M209.56 74.39h0.8M209.09 66.19h0.8M184.69 63.43h0.8M182.19 69.22h0.8M184.66 65.45h0.8M209.52 68.87h0.8M181.31 65.38h0.8M184.94 65.66h0.8M184.44 73.71h0.8M212.46 67.48h0.8M184.71 64.49h0.8M183.58 72.35h0.8M183.41 69.75h0.8M184.71 72.32h0.8M210.59 62.6h0.8M184.48 75.97h0.8M180.38 67.67h0.8M181.51 74.24h0.8M212.11 67.1h0.8M210.36 62.41h0.8M209.63 70.04h0.8M213.76 62.54h0.8M211.07 67.1h0.8M185.64 74.36h0.8M209.65 66.68h0.8M184.81 74.11h0.8M184.47 72.29h0.8M185.25 66.72h0.8M183.28 74.76h0.8M184.39 68.29h0.8M184.03 76.03h0.8" stroke="#b4b4b4" stroke-width="0.8" fill="none"/>
<line x1="184.8" y1="8.9" x2="184.8" y2="86" stroke="#9ccc6c" stroke-width="0.75"/>
<line x1="210.4" y1="8.9" x2="210.4" y2="86" stroke="#9ccc6c" stroke-width="0.75"/>
<line x1="143.2" y1="70.75" x2="252" y2="70.75" stroke="#9ccc6c" stroke-width="0.75"/>
<text x="261.5" y="12" font-size="12.5" text-anchor="start" font-weight="bold" fill="#000" stroke="#000" stroke-width="0.44">B</text>
<text x="343" y="19.8" font-size="5.4" text-anchor="middle" font-weight="bold" fill="#111" stroke="#111" stroke-width="0.19">Microarray</text>
<line x1="298.75" y1="86.3" x2="298.75" y2="27.2" stroke="#111" stroke-width="0.6"/>
<line x1="297.55" y1="86" x2="298.75" y2="86" stroke="#111" stroke-width="0.6"/>
<text x="297.05" y="87.91" font-size="5.3" text-anchor="end" font-weight="bold" fill="#111" stroke="#111" stroke-width="0.19">0.0</text>
<line x1="297.55" y1="76.25" x2="298.75" y2="76.25" stroke="#111" stroke-width="0.6"/>
<text x="297.05" y="78.16" font-size="5.3" text-anchor="end" font-weight="bold" fill="#111" stroke="#111" stroke-width="0.19">0.5</text>
<line x1="297.55" y1="66.5" x2="298.75" y2="66.5" stroke="#111" stroke-width="0.6"/>
<text x="297.05" y="68.41" font-size="5.3" text-anchor="end" font-weight="bold" fill="#111" stroke="#111" stroke-width="0.19">1.0</text>
<line x1="297.55" y1="56.75" x2="298.75" y2="56.75" stroke="#111" stroke-width="0.6"/>
<text x="297.05" y="58.66" font-size="5.3" text-anchor="end" font-weight="bold" fill="#111" stroke="#111" stroke-width="0.19">1.5</text>
<line x1="297.55" y1="47" x2="298.75" y2="47" stroke="#111" stroke-width="0.6"/>
<text x="297.05" y="48.91" font-size="5.3" text-anchor="end" font-weight="bold" fill="#111" stroke="#111" stroke-width="0.19">2.0</text>
<line x1="297.55" y1="37.25" x2="298.75" y2="37.25" stroke="#111" stroke-width="0.6"/>
<text x="297.05" y="39.16" font-size="5.3" text-anchor="end" font-weight="bold" fill="#111" stroke="#111" stroke-width="0.19">2.5</text>
<line x1="297.55" y1="27.5" x2="298.75" y2="27.5" stroke="#111" stroke-width="0.6"/>
<text x="297.05" y="29.41" font-size="5.3" text-anchor="end" font-weight="bold" fill="#111" stroke="#111" stroke-width="0.19">3.0</text>
<text x="285.95" y="56.2" font-size="5.4" text-anchor="middle" font-weight="bold" fill="#111" stroke="#111" stroke-width="0.19" transform="rotate(-90 285.95 56.2)">Relative mRNA expression</text>
<line x1="298.75" y1="86" x2="392.5" y2="86" stroke="#111" stroke-width="0.6"/>
<rect x="300.9" y="66.5" width="6.3" height="19.5" fill="#000"/>
<rect x="307.2" y="82.1" width="6.3" height="3.9" fill="#fff" stroke="#222" stroke-width="0.45"/>
<text x="310.35" y="80.3" font-size="5.8" text-anchor="middle" font-weight="bold" fill="#333" stroke="#333" stroke-width="0.2">*</text>
<text x="308.9" y="92.9" font-size="6.4" text-anchor="end" font-weight="bold" fill="#111" stroke="#111" stroke-width="0.22" transform="rotate(-45 308.9 92.9)">PNO1</text>
<rect x="316.5" y="66.5" width="6.3" height="19.5" fill="#000"/>
<rect x="322.8" y="46.03" width="6.3" height="39.97" fill="#fff" stroke="#222" stroke-width="0.45"/>
<text x="325.95" y="44.23" font-size="5.8" text-anchor="middle" font-weight="bold" fill="#333" stroke="#333" stroke-width="0.2">*</text>
<text x="324.5" y="92.9" font-size="6.4" text-anchor="end" font-weight="bold" fill="#111" stroke="#111" stroke-width="0.22" transform="rotate(-45 324.5 92.9)">CDKN1A</text>
<rect x="332.1" y="66.5" width="6.3" height="19.5" fill="#000"/>
<rect x="338.4" y="43.1" width="6.3" height="42.9" fill="#fff" stroke="#222" stroke-width="0.45"/>
<text x="341.55" y="41.3" font-size="5.8" text-anchor="middle" font-weight="bold" fill="#333" stroke="#333" stroke-width="0.2">*</text>
<text x="340.1" y="92.9" font-size="6.4" text-anchor="end" font-weight="bold" fill="#111" stroke="#111" stroke-width="0.22" transform="rotate(-45 340.1 92.9)">THBS1</text>
<rect x="347.7" y="66.5" width="6.3" height="19.5" fill="#000"/>
<rect x="354" y="77.81" width="6.3" height="8.19" fill="#fff" stroke="#222" stroke-width="0.45"/>
<text x="357.15" y="76.01" font-size="5.8" text-anchor="middle" font-weight="bold" fill="#333" stroke="#333" stroke-width="0.2">*</text>
<text x="355.7" y="92.9" font-size="6.4" text-anchor="end" font-weight="bold" fill="#111" stroke="#111" stroke-width="0.22" transform="rotate(-45 355.7 92.9)">MAPK1</text>
<rect x="363.3" y="66.5" width="6.3" height="19.5" fill="#000"/>
<rect x="369.6" y="78.78" width="6.3" height="7.21" fill="#fff" stroke="#222" stroke-width="0.45"/>
<text x="372.75" y="77.48" font-size="5.8" text-anchor="middle" font-weight="bold" fill="#333" stroke="#333" stroke-width="0.2">*</text>
<text x="371.3" y="92.9" font-size="6.4" text-anchor="end" font-weight="bold" fill="#111" stroke="#111" stroke-width="0.22" transform="rotate(-45 371.3 92.9)">MCM2</text>
<rect x="378.9" y="66.5" width="6.3" height="19.5" fill="#000"/>
<rect x="385.2" y="76.84" width="6.3" height="9.16" fill="#fff" stroke="#222" stroke-width="0.45"/>
<text x="388.35" y="75.54" font-size="5.8" text-anchor="middle" font-weight="bold" fill="#333" stroke="#333" stroke-width="0.2">*</text>
<text x="386.9" y="92.9" font-size="6.4" text-anchor="end" font-weight="bold" fill="#111" stroke="#111" stroke-width="0.22" transform="rotate(-45 386.9 92.9)">CDC42</text>
<rect x="301.95" y="27.2" width="6.2" height="3.2" fill="#000"/>
<rect x="301.95" y="31.6" width="6.2" height="3.2" fill="#fff" stroke="#222" stroke-width="0.4"/>
<text x="309.75" y="30.3" font-size="4.2" text-anchor="start" font-weight="bold" fill="#111" stroke="#111" stroke-width="0.15">sh-Ctrl</text>
<text x="309.75" y="34.9" font-size="4.2" text-anchor="start" font-weight="bold" fill="#111" stroke="#111" stroke-width="0.15">sh-PNO1</text>
<text x="467.5" y="19.8" font-size="5.4" text-anchor="middle" font-weight="bold" fill="#111" stroke="#111" stroke-width="0.19">qPCR</text>
<line x1="425.2" y1="86.1" x2="425.2" y2="27.2" stroke="#111" stroke-width="0.6"/>
<line x1="424" y1="85.8" x2="425.2" y2="85.8" stroke="#111" stroke-width="0.6"/>
<text x="423.5" y="87.71" font-size="5.3" text-anchor="end" font-weight="bold" fill="#111" stroke="#111" stroke-width="0.19">0.0</text>
<line x1="424" y1="76.08" x2="425.2" y2="76.08" stroke="#111" stroke-width="0.6"/>
<text x="423.5" y="77.99" font-size="5.3" text-anchor="end" font-weight="bold" fill="#111" stroke="#111" stroke-width="0.19">0.5</text>
<line x1="424" y1="66.37" x2="425.2" y2="66.37" stroke="#111" stroke-width="0.6"/>
<text x="423.5" y="68.27" font-size="5.3" text-anchor="end" font-weight="bold" fill="#111" stroke="#111" stroke-width="0.19">1.0</text>
<line x1="424" y1="56.65" x2="425.2" y2="56.65" stroke="#111" stroke-width="0.6"/>
<text x="423.5" y="58.56" font-size="5.3" text-anchor="end" font-weight="bold" fill="#111" stroke="#111" stroke-width="0.19">1.5</text>
<line x1="424" y1="46.93" x2="425.2" y2="46.93" stroke="#111" stroke-width="0.6"/>
<text x="423.5" y="48.84" font-size="5.3" text-anchor="end" font-weight="bold" fill="#111" stroke="#111" stroke-width="0.19">2.0</text>
<line x1="424" y1="37.22" x2="425.2" y2="37.22" stroke="#111" stroke-width="0.6"/>
<text x="423.5" y="39.12" font-size="5.3" text-anchor="end" font-weight="bold" fill="#111" stroke="#111" stroke-width="0.19">2.5</text>
<line x1="424" y1="27.5" x2="425.2" y2="27.5" stroke="#111" stroke-width="0.6"/>
<text x="423.5" y="29.41" font-size="5.3" text-anchor="end" font-weight="bold" fill="#111" stroke="#111" stroke-width="0.19">3.0</text>
<text x="412.4" y="56.2" font-size="5.4" text-anchor="middle" font-weight="bold" fill="#111" stroke="#111" stroke-width="0.19" transform="rotate(-90 412.4 56.2)">Relative mRNA expression</text>
<line x1="425.2" y1="85.8" x2="519.3" y2="85.8" stroke="#111" stroke-width="0.6"/>
<line x1="430.85" y1="66.37" x2="430.85" y2="64.03" stroke="#888" stroke-width="0.35"/>
<line x1="429.65" y1="64.03" x2="432.05" y2="64.03" stroke="#888" stroke-width="0.35"/>
<rect x="427.7" y="66.37" width="6.3" height="19.43" fill="#000"/>
<line x1="437.15" y1="81.33" x2="437.15" y2="80.16" stroke="#555" stroke-width="0.4"/>
<line x1="435.75" y1="80.16" x2="438.55" y2="80.16" stroke="#555" stroke-width="0.4"/>
<rect x="434" y="81.33" width="6.3" height="4.47" fill="#fff" stroke="#222" stroke-width="0.45"/>
<text x="437.15" y="78.36" font-size="5.8" text-anchor="middle" font-weight="bold" fill="#333" stroke="#333" stroke-width="0.2">*</text>
<text x="436" y="92" font-size="6.8" text-anchor="end" font-weight="bold" fill="#111" stroke="#111" stroke-width="0.24" transform="rotate(-45 436 92)">PNO1</text>
<rect x="443.3" y="66.37" width="6.3" height="19.43" fill="#000"/>
<line x1="452.75" y1="39.16" x2="452.75" y2="36.24" stroke="#555" stroke-width="0.4"/>
<line x1="451.35" y1="36.24" x2="454.15" y2="36.24" stroke="#555" stroke-width="0.4"/>
<rect x="449.6" y="39.16" width="6.3" height="46.64" fill="#fff" stroke="#222" stroke-width="0.45"/>
<text x="452.75" y="37.45" font-size="5.8" text-anchor="middle" font-weight="bold" fill="#333" stroke="#333" stroke-width="0.2">*</text>
<text x="451.6" y="92" font-size="6.8" text-anchor="end" font-weight="bold" fill="#111" stroke="#111" stroke-width="0.24" transform="rotate(-45 451.6 92)">CDKN1A</text>
<line x1="462.05" y1="66.37" x2="462.05" y2="64.42" stroke="#888" stroke-width="0.35"/>
<line x1="460.85" y1="64.42" x2="463.25" y2="64.42" stroke="#888" stroke-width="0.35"/>
<rect x="458.9" y="66.37" width="6.3" height="19.43" fill="#000"/>
<line x1="468.35" y1="36.24" x2="468.35" y2="32.36" stroke="#555" stroke-width="0.4"/>
<line x1="466.95" y1="32.36" x2="469.75" y2="32.36" stroke="#555" stroke-width="0.4"/>
<rect x="465.2" y="36.24" width="6.3" height="49.55" fill="#fff" stroke="#222" stroke-width="0.45"/>
<text x="468.35" y="31.26" font-size="5.8" text-anchor="middle" font-weight="bold" fill="#333" stroke="#333" stroke-width="0.2">*</text>
<text x="467.2" y="92" font-size="6.8" text-anchor="end" font-weight="bold" fill="#111" stroke="#111" stroke-width="0.24" transform="rotate(-45 467.2 92)">THBS1</text>
<line x1="477.65" y1="66.37" x2="477.65" y2="63.45" stroke="#888" stroke-width="0.35"/>
<line x1="476.45" y1="63.45" x2="478.85" y2="63.45" stroke="#888" stroke-width="0.35"/>
<rect x="474.5" y="66.37" width="6.3" height="19.43" fill="#000"/>
<line x1="483.95" y1="76.67" x2="483.95" y2="75.89" stroke="#555" stroke-width="0.4"/>
<line x1="482.55" y1="75.89" x2="485.35" y2="75.89" stroke="#555" stroke-width="0.4"/>
<rect x="480.8" y="76.67" width="6.3" height="9.13" fill="#fff" stroke="#222" stroke-width="0.45"/>
<text x="483.95" y="75.49" font-size="5.8" text-anchor="middle" font-weight="bold" fill="#333" stroke="#333" stroke-width="0.2">*</text>
<text x="482.8" y="92" font-size="6.8" text-anchor="end" font-weight="bold" fill="#111" stroke="#111" stroke-width="0.24" transform="rotate(-45 482.8 92)">MAPK1</text>
<line x1="493.25" y1="66.37" x2="493.25" y2="64.03" stroke="#888" stroke-width="0.35"/>
<line x1="492.05" y1="64.03" x2="494.45" y2="64.03" stroke="#888" stroke-width="0.35"/>
<rect x="490.1" y="66.37" width="6.3" height="19.43" fill="#000"/>
<line x1="499.55" y1="77.44" x2="499.55" y2="75.11" stroke="#555" stroke-width="0.4"/>
<line x1="498.15" y1="75.11" x2="500.95" y2="75.11" stroke="#555" stroke-width="0.4"/>
<rect x="496.4" y="77.44" width="6.3" height="8.36" fill="#fff" stroke="#222" stroke-width="0.45"/>
<text x="499.55" y="74.81" font-size="5.8" text-anchor="middle" font-weight="bold" fill="#333" stroke="#333" stroke-width="0.2">*</text>
<text x="498.4" y="92" font-size="6.8" text-anchor="end" font-weight="bold" fill="#111" stroke="#111" stroke-width="0.24" transform="rotate(-45 498.4 92)">MCM2</text>
<line x1="508.85" y1="66.37" x2="508.85" y2="65.39" stroke="#888" stroke-width="0.35"/>
<line x1="507.65" y1="65.39" x2="510.05" y2="65.39" stroke="#888" stroke-width="0.35"/>
<rect x="505.7" y="66.37" width="6.3" height="19.43" fill="#000"/>
<line x1="515.15" y1="72.78" x2="515.15" y2="70.84" stroke="#555" stroke-width="0.4"/>
<line x1="513.75" y1="70.84" x2="516.55" y2="70.84" stroke="#555" stroke-width="0.4"/>
<rect x="512" y="72.78" width="6.3" height="13.02" fill="#fff" stroke="#222" stroke-width="0.45"/>
<text x="515.15" y="70.54" font-size="5.8" text-anchor="middle" font-weight="bold" fill="#333" stroke="#333" stroke-width="0.2">*</text>
<text x="514" y="92" font-size="6.8" text-anchor="end" font-weight="bold" fill="#111" stroke="#111" stroke-width="0.24" transform="rotate(-45 514 92)">CDC42</text>
<rect x="428.4" y="27.2" width="6.2" height="3.2" fill="#000"/>
<rect x="428.4" y="31.6" width="6.2" height="3.2" fill="#fff" stroke="#222" stroke-width="0.4"/>
<text x="436.2" y="30.3" font-size="3.4" text-anchor="start" font-weight="bold" fill="#111" stroke="#111" stroke-width="0.12">sh-Ctrl</text>
<text x="436.2" y="34.9" font-size="3.4" text-anchor="start" font-weight="bold" fill="#111" stroke="#111" stroke-width="0.12">sh-PNO1</text>
<text x="0.3" y="112.7" font-size="12.5" text-anchor="start" font-weight="bold" fill="#000" stroke="#000" stroke-width="0.44">C</text>
<rect x="12.5" y="116.4" width="246.7" height="96.1" fill="#fff" stroke="#2a2a2a" stroke-width="0.8"/>
<text x="144.4" y="123.8" font-size="6.5" text-anchor="middle" font-weight="bold" fill="#111" stroke="#111" stroke-width="0.23">Pathway enrichment</text>
<line x1="21.5" y1="127.4" x2="252.5" y2="127.4" stroke="#111" stroke-width="0.6"/>
<text x="207" y="134.6" font-size="5.6" text-anchor="middle" font-weight="bold" fill="#111" stroke="#111" stroke-width="0.2">−Log<tspan font-size="3.4" dy="1.1">10</tspan><tspan dy="-1.1"> (</tspan><tspan font-style="italic">P</tspan>)</text>
<text x="160" y="140.7" font-size="3.9" text-anchor="middle" font-weight="bold" fill="#111" stroke="#111" stroke-width="0.14">0.0</text>
<text x="178.88" y="140.7" font-size="3.9" text-anchor="middle" font-weight="bold" fill="#111" stroke="#111" stroke-width="0.14">0.5</text>
<text x="197.75" y="140.7" font-size="3.9" text-anchor="middle" font-weight="bold" fill="#111" stroke="#111" stroke-width="0.14">1.0</text>
<text x="216.62" y="140.7" font-size="3.9" text-anchor="middle" font-weight="bold" fill="#111" stroke="#111" stroke-width="0.14">1.5</text>
<text x="235.5" y="140.7" font-size="3.9" text-anchor="middle" font-weight="bold" fill="#111" stroke="#111" stroke-width="0.14">2.0</text>
<text x="254.38" y="140.7" font-size="3.9" text-anchor="middle" font-weight="bold" fill="#111" stroke="#111" stroke-width="0.14">2.5</text>
<rect x="160" y="144" width="76.63" height="5.6" fill="#3b4aa6"/>
<text x="157.2" y="148.7" font-size="5.45" text-anchor="end" font-weight="bold" fill="#111" stroke="#111" stroke-width="0.19">Ubiquitin-mediated proteolysis</text>
<rect x="160" y="150.68" width="75.5" height="5.6" fill="#3b4aa6"/>
<text x="157.2" y="155.38" font-size="5.45" text-anchor="end" font-weight="bold" fill="#111" stroke="#111" stroke-width="0.19">Bladder cancer</text>
<rect x="160" y="157.36" width="75.5" height="5.6" fill="#3b4aa6"/>
<text x="157.2" y="162.06" font-size="5.45" text-anchor="end" font-weight="bold" fill="#111" stroke="#111" stroke-width="0.19">Protein processing in endoplasmic reticulum</text>
<rect x="160" y="164.04" width="67.95" height="5.6" fill="#3b4aa6"/>
<text x="157.2" y="168.74" font-size="5.45" text-anchor="end" font-weight="bold" fill="#111" stroke="#111" stroke-width="0.19">p53 signaling pathway</text>
<rect x="160" y="170.72" width="61.53" height="5.6" fill="#3b4aa6"/>
<text x="157.2" y="175.42" font-size="5.45" text-anchor="end" font-weight="bold" fill="#111" stroke="#111" stroke-width="0.19">Ubiquinone and other terpenoid-quinone biosynthesis</text>
<rect x="160" y="177.4" width="61.16" height="5.6" fill="#3b4aa6"/>
<text x="157.2" y="182.1" font-size="5.45" text-anchor="end" font-weight="bold" fill="#111" stroke="#111" stroke-width="0.19">Bacterial invasion of epithelial cells</text>
<rect x="160" y="184.08" width="58.51" height="5.6" fill="#3b4aa6"/>
<text x="157.2" y="188.78" font-size="5.45" text-anchor="end" font-weight="bold" fill="#111" stroke="#111" stroke-width="0.19">Proteoglycans in cancer</text>
<rect x="160" y="190.76" width="57.38" height="5.6" fill="#3b4aa6"/>
<text x="157.2" y="195.46" font-size="5.45" text-anchor="end" font-weight="bold" fill="#111" stroke="#111" stroke-width="0.19">Viral carcinogenesis</text>
<rect x="160" y="197.44" width="53.23" height="5.6" fill="#3b4aa6"/>
<text x="157.2" y="202.14" font-size="5.45" text-anchor="end" font-weight="bold" fill="#111" stroke="#111" stroke-width="0.19">ErbB signaling pathway</text>
<rect x="160" y="204.12" width="51.34" height="5.6" fill="#3b4aa6"/>
<text x="157.2" y="208.82" font-size="5.45" text-anchor="end" font-weight="bold" fill="#111" stroke="#111" stroke-width="0.19">DNA replication</text>
<line x1="160" y1="142.6" x2="160" y2="211" stroke="#555" stroke-width="0.5"/>
<line x1="160" y1="143.2" x2="255.38" y2="143.2" stroke="#b8b8b8" stroke-width="0.45"/>
<line x1="160" y1="142.2" x2="160" y2="143.2" stroke="#aaa" stroke-width="0.4"/>
<line x1="178.88" y1="142.2" x2="178.88" y2="143.2" stroke="#aaa" stroke-width="0.4"/>
<line x1="197.75" y1="142.2" x2="197.75" y2="143.2" stroke="#aaa" stroke-width="0.4"/>
<line x1="216.62" y1="142.2" x2="216.62" y2="143.2" stroke="#aaa" stroke-width="0.4"/>
<line x1="235.5" y1="142.2" x2="235.5" y2="143.2" stroke="#aaa" stroke-width="0.4"/>
<line x1="254.38" y1="142.2" x2="254.38" y2="143.2" stroke="#aaa" stroke-width="0.4"/>
<text x="261.5" y="114.5" font-size="12.5" text-anchor="start" font-weight="bold" fill="#000" stroke="#000" stroke-width="0.44">D</text>
<text x="343.75" y="126.3" font-size="5.5" text-anchor="middle" font-weight="bold" fill="#111" stroke="#111" stroke-width="0.19">p53-microarray</text>
<line x1="298.75" y1="189.55" x2="298.75" y2="131.45" stroke="#111" stroke-width="0.6"/>
<line x1="297.55" y1="189.25" x2="298.75" y2="189.25" stroke="#111" stroke-width="0.6"/>
<text x="297.05" y="191.16" font-size="5.3" text-anchor="end" font-weight="bold" fill="#111" stroke="#111" stroke-width="0.19">0.0</text>
<line x1="297.55" y1="182.06" x2="298.75" y2="182.06" stroke="#111" stroke-width="0.6"/>
<text x="297.05" y="183.97" font-size="5.3" text-anchor="end" font-weight="bold" fill="#111" stroke="#111" stroke-width="0.19">0.2</text>
<line x1="297.55" y1="174.88" x2="298.75" y2="174.88" stroke="#111" stroke-width="0.6"/>
<text x="297.05" y="176.78" font-size="5.3" text-anchor="end" font-weight="bold" fill="#111" stroke="#111" stroke-width="0.19">0.4</text>
<line x1="297.55" y1="167.69" x2="298.75" y2="167.69" stroke="#111" stroke-width="0.6"/>
<text x="297.05" y="169.6" font-size="5.3" text-anchor="end" font-weight="bold" fill="#111" stroke="#111" stroke-width="0.19">0.6</text>
<line x1="297.55" y1="160.5" x2="298.75" y2="160.5" stroke="#111" stroke-width="0.6"/>
<text x="297.05" y="162.41" font-size="5.3" text-anchor="end" font-weight="bold" fill="#111" stroke="#111" stroke-width="0.19">0.8</text>
<line x1="297.55" y1="153.31" x2="298.75" y2="153.31" stroke="#111" stroke-width="0.6"/>
<text x="297.05" y="155.22" font-size="5.3" text-anchor="end" font-weight="bold" fill="#111" stroke="#111" stroke-width="0.19">1.0</text>
<line x1="297.55" y1="146.12" x2="298.75" y2="146.12" stroke="#111" stroke-width="0.6"/>
<text x="297.05" y="148.03" font-size="5.3" text-anchor="end" font-weight="bold" fill="#111" stroke="#111" stroke-width="0.19">1.2</text>
<line x1="297.55" y1="138.94" x2="298.75" y2="138.94" stroke="#111" stroke-width="0.6"/>
<text x="297.05" y="140.85" font-size="5.3" text-anchor="end" font-weight="bold" fill="#111" stroke="#111" stroke-width="0.19">1.4</text>
<line x1="297.55" y1="131.75" x2="298.75" y2="131.75" stroke="#111" stroke-width="0.6"/>
<text x="297.05" y="133.66" font-size="5.3" text-anchor="end" font-weight="bold" fill="#111" stroke="#111" stroke-width="0.19">1.6</text>
<line x1="298.75" y1="189.25" x2="393.5" y2="189.25" stroke="#111" stroke-width="0.6"/>
<line x1="322.8" y1="153.31" x2="322.8" y2="152.23" stroke="#777" stroke-width="0.4"/>
<line x1="320.6" y1="152.23" x2="325" y2="152.23" stroke="#777" stroke-width="0.4"/>
<rect x="308.5" y="153.31" width="28.6" height="35.94" fill="#000"/>
<line x1="369.75" y1="140.73" x2="369.75" y2="138.94" stroke="#777" stroke-width="0.4"/>
<line x1="367.55" y1="138.94" x2="371.95" y2="138.94" stroke="#777" stroke-width="0.4"/>
<rect x="355.4" y="140.73" width="28.7" height="48.52" fill="#000"/>
<text x="321.6" y="198.3" font-size="5.55" text-anchor="middle" font-weight="bold" fill="#111" stroke="#111" stroke-width="0.19">sh-Ctrl</text>
<text x="369.3" y="198.3" font-size="5.55" text-anchor="middle" font-weight="bold" fill="#111" stroke="#111" stroke-width="0.19">sh-PNO1</text>
<text x="286.4" y="159.9" font-size="5.3" text-anchor="middle" font-weight="bold" fill="#111" stroke="#111" stroke-width="0.19" transform="rotate(-90 286.4 159.9)">Relative mRNA expression</text>
<text x="369.3" y="136.8" font-size="5.5" text-anchor="middle" font-weight="bold" fill="#333" stroke="#333" stroke-width="0.19">*</text>
<text x="396.5" y="114.5" font-size="12.5" text-anchor="start" font-weight="bold" fill="#000" stroke="#000" stroke-width="0.44">E</text>
<text x="465" y="126.3" font-size="5.5" text-anchor="middle" font-weight="bold" fill="#111" stroke="#111" stroke-width="0.19">p53-qPCR</text>
<line x1="423.75" y1="188.55" x2="423.75" y2="130.2" stroke="#111" stroke-width="0.6"/>
<line x1="422.55" y1="188.25" x2="423.75" y2="188.25" stroke="#111" stroke-width="0.6"/>
<text x="422.05" y="190.16" font-size="5.3" text-anchor="end" font-weight="bold" fill="#111" stroke="#111" stroke-width="0.19">0.0</text>
<line x1="422.55" y1="180" x2="423.75" y2="180" stroke="#111" stroke-width="0.6"/>
<text x="422.05" y="181.91" font-size="5.3" text-anchor="end" font-weight="bold" fill="#111" stroke="#111" stroke-width="0.19">0.2</text>
<line x1="422.55" y1="171.75" x2="423.75" y2="171.75" stroke="#111" stroke-width="0.6"/>
<text x="422.05" y="173.66" font-size="5.3" text-anchor="end" font-weight="bold" fill="#111" stroke="#111" stroke-width="0.19">0.4</text>
<line x1="422.55" y1="163.5" x2="423.75" y2="163.5" stroke="#111" stroke-width="0.6"/>
<text x="422.05" y="165.41" font-size="5.3" text-anchor="end" font-weight="bold" fill="#111" stroke="#111" stroke-width="0.19">0.6</text>
<line x1="422.55" y1="155.25" x2="423.75" y2="155.25" stroke="#111" stroke-width="0.6"/>
<text x="422.05" y="157.16" font-size="5.3" text-anchor="end" font-weight="bold" fill="#111" stroke="#111" stroke-width="0.19">0.8</text>
<line x1="422.55" y1="147" x2="423.75" y2="147" stroke="#111" stroke-width="0.6"/>
<text x="422.05" y="148.91" font-size="5.3" text-anchor="end" font-weight="bold" fill="#111" stroke="#111" stroke-width="0.19">1.0</text>
<line x1="422.55" y1="138.75" x2="423.75" y2="138.75" stroke="#111" stroke-width="0.6"/>
<text x="422.05" y="140.66" font-size="5.3" text-anchor="end" font-weight="bold" fill="#111" stroke="#111" stroke-width="0.19">1.2</text>
<line x1="422.55" y1="130.5" x2="423.75" y2="130.5" stroke="#111" stroke-width="0.6"/>
<text x="422.05" y="132.41" font-size="5.3" text-anchor="end" font-weight="bold" fill="#111" stroke="#111" stroke-width="0.19">1.4</text>
<line x1="423.75" y1="188.25" x2="517" y2="188.25" stroke="#111" stroke-width="0.6"/>
<line x1="448.75" y1="147" x2="448.75" y2="143.29" stroke="#777" stroke-width="0.4"/>
<line x1="446.55" y1="143.29" x2="450.95" y2="143.29" stroke="#777" stroke-width="0.4"/>
<rect x="434.6" y="147" width="28.3" height="41.25" fill="#000"/>
<line x1="495.05" y1="135.86" x2="495.05" y2="134.62" stroke="#777" stroke-width="0.4"/>
<line x1="492.85" y1="134.62" x2="497.25" y2="134.62" stroke="#777" stroke-width="0.4"/>
<rect x="480.6" y="135.86" width="28.9" height="52.39" fill="#000"/>
<text x="449.9" y="198.3" font-size="5.55" text-anchor="middle" font-weight="bold" fill="#111" stroke="#111" stroke-width="0.19">sh-Ctrl</text>
<text x="498.6" y="198.3" font-size="5.55" text-anchor="middle" font-weight="bold" fill="#111" stroke="#111" stroke-width="0.19">sh-PNO1</text>
<text x="411.5" y="160.4" font-size="5.3" text-anchor="middle" font-weight="bold" fill="#111" stroke="#111" stroke-width="0.19" transform="rotate(-90 411.5 160.4)">Relative mRNA expression</text>
<text x="495.6" y="133" font-size="5.5" text-anchor="middle" font-weight="bold" fill="#333" stroke="#333" stroke-width="0.19">*</text>
<text x="1.6" y="228.2" font-size="12.5" text-anchor="start" font-weight="bold" fill="#000" stroke="#000" stroke-width="0.44">F</text>
<text x="0" y="0" font-size="5.5" text-anchor="middle" font-weight="bold" fill="#111" stroke="#111" stroke-width="0.19"></text>
<line x1="49.8" y1="294.3" x2="49.8" y2="235.3" stroke="#111" stroke-width="0.6"/>
<line x1="48.6" y1="294" x2="49.8" y2="294" stroke="#111" stroke-width="0.6"/>
<text x="48.1" y="295.94" font-size="5.4" text-anchor="end" font-weight="bold" fill="#111" stroke="#111" stroke-width="0.19">0.0</text>
<line x1="48.6" y1="285.66" x2="49.8" y2="285.66" stroke="#111" stroke-width="0.6"/>
<text x="48.1" y="287.6" font-size="5.4" text-anchor="end" font-weight="bold" fill="#111" stroke="#111" stroke-width="0.19">0.5</text>
<line x1="48.6" y1="277.31" x2="49.8" y2="277.31" stroke="#111" stroke-width="0.6"/>
<text x="48.1" y="279.26" font-size="5.4" text-anchor="end" font-weight="bold" fill="#111" stroke="#111" stroke-width="0.19">1.0</text>
<line x1="48.6" y1="268.97" x2="49.8" y2="268.97" stroke="#111" stroke-width="0.6"/>
<text x="48.1" y="270.92" font-size="5.4" text-anchor="end" font-weight="bold" fill="#111" stroke="#111" stroke-width="0.19">1.5</text>
<line x1="48.6" y1="260.63" x2="49.8" y2="260.63" stroke="#111" stroke-width="0.6"/>
<text x="48.1" y="262.57" font-size="5.4" text-anchor="end" font-weight="bold" fill="#111" stroke="#111" stroke-width="0.19">2.0</text>
<line x1="48.6" y1="252.29" x2="49.8" y2="252.29" stroke="#111" stroke-width="0.6"/>
<text x="48.1" y="254.23" font-size="5.4" text-anchor="end" font-weight="bold" fill="#111" stroke="#111" stroke-width="0.19">2.5</text>
<line x1="48.6" y1="243.94" x2="49.8" y2="243.94" stroke="#111" stroke-width="0.6"/>
<text x="48.1" y="245.89" font-size="5.4" text-anchor="end" font-weight="bold" fill="#111" stroke="#111" stroke-width="0.19">3.0</text>
<line x1="48.6" y1="235.6" x2="49.8" y2="235.6" stroke="#111" stroke-width="0.6"/>
<text x="48.1" y="237.54" font-size="5.4" text-anchor="end" font-weight="bold" fill="#111" stroke="#111" stroke-width="0.19">3.5</text>
<line x1="49.8" y1="294" x2="139" y2="294" stroke="#111" stroke-width="0.6"/>
<line x1="72.85" y1="277.31" x2="72.85" y2="271.97" stroke="#333" stroke-width="0.5"/>
<line x1="70.25" y1="271.97" x2="75.45" y2="271.97" stroke="#333" stroke-width="0.5"/>
<rect x="58.7" y="277.31" width="28.3" height="16.69" fill="#000"/>
<line x1="119.65" y1="255.29" x2="119.65" y2="240.61" stroke="#333" stroke-width="0.5"/>
<line x1="117.05" y1="240.61" x2="122.25" y2="240.61" stroke="#333" stroke-width="0.5"/>
<rect x="105.5" y="255.29" width="28.3" height="38.71" fill="#000"/>
<text x="72.7" y="302.6" font-size="5.55" text-anchor="middle" font-weight="bold" fill="#111" stroke="#111" stroke-width="0.19">sh-Ctrl</text>
<text x="119" y="302.6" font-size="5.55" text-anchor="middle" font-weight="bold" fill="#111" stroke="#111" stroke-width="0.19">sh-PNO1</text>
<text x="32.6" y="263.8" font-size="5.4" text-anchor="middle" font-weight="bold" fill="#111" stroke="#111" stroke-width="0.19" transform="rotate(-90 32.6 263.8)">Relative luciferase activity</text>
<text x="119.6" y="238" font-size="5.5" text-anchor="middle" font-weight="bold" fill="#333" stroke="#333" stroke-width="0.19">*</text>
<text x="132.9" y="228.5" font-size="12.5" text-anchor="start" font-weight="bold" fill="#000" stroke="#000" stroke-width="0.44">G</text>
<text x="172.3" y="228.9" font-size="5.6" text-anchor="middle" font-weight="bold" fill="#111" stroke="#111" stroke-width="0.2">HCT-116</text>
<text x="240.7" y="228.9" font-size="5.6" text-anchor="middle" font-weight="bold" fill="#111" stroke="#111" stroke-width="0.2">RKO</text>
<line x1="149.2" y1="230.9" x2="193.2" y2="230.9" stroke="#3a3a3a" stroke-width="0.9"/>
<line x1="218.8" y1="230.9" x2="263" y2="230.9" stroke="#3a3a3a" stroke-width="0.9"/>
<text x="162.4" y="255.5" font-size="5.3" text-anchor="start" font-weight="bold" fill="#111" stroke="#111" stroke-width="0.19" transform="rotate(-90 162.4 255.5)">sh-Ctrl</text>
<text x="182" y="255.5" font-size="5.3" text-anchor="start" font-weight="bold" fill="#111" stroke="#111" stroke-width="0.19" transform="rotate(-90 182 255.5)">sh-PNO1</text>
<text x="231.9" y="255.5" font-size="5.3" text-anchor="start" font-weight="bold" fill="#111" stroke="#111" stroke-width="0.19" transform="rotate(-90 231.9 255.5)">sh-Ctrl</text>
<text x="251.5" y="255.5" font-size="5.3" text-anchor="start" font-weight="bold" fill="#111" stroke="#111" stroke-width="0.19" transform="rotate(-90 251.5 255.5)">sh-PNO1</text>
<g clip-path="url(#cg00)">
<rect x="149.4" y="258.7" width="45.2" height="14.6" fill="#dedede"/>
<rect x="152.4" y="261.2" width="39.2" height="9.6" fill="#fff" opacity="0.85" filter="url(#b2)"/>
<ellipse cx="160.6" cy="265.8" rx="8.25" ry="2.9" fill="#333" opacity="0.41" filter="url(#b3)"/>
<ellipse cx="160.6" cy="265.8" rx="7" ry="1.65" fill="#050505" opacity="0.92" filter="url(#b1)"/>
<ellipse cx="181" cy="266.4" rx="10.5" ry="3.55" fill="#333" opacity="0.45" filter="url(#b3)"/>
<ellipse cx="181" cy="266.4" rx="9.25" ry="2.3" fill="#050505" opacity="1" filter="url(#b1)"/>
</g>
<rect x="149.4" y="258.7" width="45.2" height="14.6" rx="0.6" fill="none" stroke="#1a1a1a" stroke-width="0.75"/>
<g clip-path="url(#cg01)">
<rect x="149.4" y="274.9" width="45.2" height="14.4" fill="#dedede"/>
<rect x="152.4" y="277.4" width="39.2" height="9.4" fill="#fff" opacity="0.85" filter="url(#b2)"/>
<rect x="150.9" y="279.6" width="26" height="5.4" rx="2.7" fill="#333" opacity="0.43" filter="url(#b3)"/>
<rect x="151.9" y="280.85" width="24" height="2.9" rx="1.45" fill="#050505" opacity="0.95" filter="url(#b1)"/>
<rect x="168.4" y="278.45" width="24.5" height="7.1" rx="3.55" fill="#333" opacity="0.45" filter="url(#b3)"/>
<rect x="169.4" y="279.7" width="22.5" height="4.6" rx="2.3" fill="#050505" opacity="1" filter="url(#b1)"/>
</g>
<rect x="149.4" y="274.9" width="45.2" height="14.4" rx="0.6" fill="none" stroke="#1a1a1a" stroke-width="0.75"/>
<g clip-path="url(#cg02)">
<rect x="149.4" y="291.3" width="45.2" height="13.3" fill="#dedede"/>
<rect x="152.4" y="293.8" width="39.2" height="8.3" fill="#fff" opacity="0.85" filter="url(#b2)"/>
<rect x="150.6" y="295.25" width="42.8" height="5.3" rx="2.65" fill="#333" opacity="0.45" filter="url(#b3)"/>
<rect x="151.6" y="296.5" width="40.8" height="2.8" rx="1.4" fill="#050505" opacity="1" filter="url(#b1)"/>
<ellipse cx="161.4" cy="297.9" rx="8.5" ry="1.7" fill="#050505" opacity="1" filter="url(#b1)"/>
<ellipse cx="182.4" cy="297.9" rx="8.5" ry="1.7" fill="#050505" opacity="1" filter="url(#b1)"/>
</g>
<rect x="149.4" y="291.3" width="45.2" height="13.3" rx="0.6" fill="none" stroke="#1a1a1a" stroke-width="0.75"/>
<g clip-path="url(#cg10)">
<rect x="218.9" y="258.7" width="44.6" height="14.6" fill="#dedede"/>
<rect x="221.9" y="261.2" width="38.6" height="9.6" fill="#fff" opacity="0.85" filter="url(#b2)"/>
<ellipse cx="229.9" cy="266.8" rx="8.5" ry="3.35" fill="#333" opacity="0.45" filter="url(#b3)"/>
<ellipse cx="229.9" cy="266.8" rx="7.25" ry="2.1" fill="#050505" opacity="1" filter="url(#b1)"/>
<ellipse cx="251.4" cy="264.6" rx="10" ry="3.85" fill="#333" opacity="0.45" filter="url(#b3)"/>
<ellipse cx="251.4" cy="264.6" rx="8.75" ry="2.6" fill="#050505" opacity="1" filter="url(#b1)"/>
</g>
<rect x="218.9" y="258.7" width="44.6" height="14.6" rx="0.6" fill="none" stroke="#1a1a1a" stroke-width="0.75"/>
<g clip-path="url(#cg11)">
<rect x="218.9" y="274.9" width="44.6" height="14.4" fill="#dedede"/>
<rect x="221.9" y="277.4" width="38.6" height="9.4" fill="#fff" opacity="0.85" filter="url(#b2)"/>
<rect x="220.4" y="279.15" width="26" height="5.7" rx="2.85" fill="#333" opacity="0.45" filter="url(#b3)"/>
<rect x="221.4" y="280.4" width="24" height="3.2" rx="1.6" fill="#050505" opacity="1" filter="url(#b1)"/>
<rect x="238.9" y="277.85" width="23.5" height="7.5" rx="3.75" fill="#333" opacity="0.45" filter="url(#b3)"/>
<rect x="239.9" y="279.1" width="21.5" height="5" rx="2.5" fill="#050505" opacity="1" filter="url(#b1)"/>
</g>
<rect x="218.9" y="274.9" width="44.6" height="14.4" rx="0.6" fill="none" stroke="#1a1a1a" stroke-width="0.75"/>
<g clip-path="url(#cg12)">
<rect x="218.9" y="291.3" width="44.6" height="13.3" fill="#dedede"/>
<rect x="221.9" y="293.8" width="38.6" height="8.3" fill="#fff" opacity="0.85" filter="url(#b2)"/>
<rect x="220.1" y="295.25" width="42.2" height="5.3" rx="2.65" fill="#333" opacity="0.45" filter="url(#b3)"/>
<rect x="221.1" y="296.5" width="40.2" height="2.8" rx="1.4" fill="#050505" opacity="1" filter="url(#b1)"/>
<ellipse cx="230.9" cy="297.9" rx="8.5" ry="1.7" fill="#050505" opacity="1" filter="url(#b1)"/>
<ellipse cx="251.9" cy="297.9" rx="8.5" ry="1.7" fill="#050505" opacity="1" filter="url(#b1)"/>
</g>
<rect x="218.9" y="291.3" width="44.6" height="13.3" rx="0.6" fill="none" stroke="#1a1a1a" stroke-width="0.75"/>
<text x="202" y="267.8" font-size="5.9" text-anchor="start" font-weight="bold" fill="#111" stroke="#111" stroke-width="0.21">p53</text>
<text x="202" y="284.1" font-size="5.9" text-anchor="start" font-weight="bold" fill="#111" stroke="#111" stroke-width="0.21">p21</text>
<text x="195.6" y="300" font-size="5.7" text-anchor="start" font-weight="bold" fill="#111" stroke="#111" stroke-width="0.2">β-Actin</text>
<text x="265.2" y="267.5" font-size="5.2" text-anchor="start" font-weight="bold" fill="#111" stroke="#111" stroke-width="0.18">53 kDa</text>
<text x="265.2" y="283.4" font-size="5.2" text-anchor="start" font-weight="bold" fill="#111" stroke="#111" stroke-width="0.18">21 kDa</text>
<text x="265.2" y="300.4" font-size="5.2" text-anchor="start" font-weight="bold" fill="#111" stroke="#111" stroke-width="0.18">42 kDa</text>
<text x="348" y="229.6" font-size="5.3" text-anchor="middle" font-weight="bold" fill="#111" stroke="#111" stroke-width="0.19">HCT-116</text>
<line x1="298.9" y1="293.4" x2="298.9" y2="234.4" stroke="#111" stroke-width="0.6"/>
<line x1="297.7" y1="293.1" x2="298.9" y2="293.1" stroke="#111" stroke-width="0.6"/>
<text x="297.2" y="295.01" font-size="5.3" text-anchor="end" font-weight="bold" fill="#111" stroke="#111" stroke-width="0.19">0.0</text>
<line x1="297.7" y1="281.42" x2="298.9" y2="281.42" stroke="#111" stroke-width="0.6"/>
<text x="297.2" y="283.33" font-size="5.3" text-anchor="end" font-weight="bold" fill="#111" stroke="#111" stroke-width="0.19">0.5</text>
<line x1="297.7" y1="269.74" x2="298.9" y2="269.74" stroke="#111" stroke-width="0.6"/>
<text x="297.2" y="271.65" font-size="5.3" text-anchor="end" font-weight="bold" fill="#111" stroke="#111" stroke-width="0.19">1.0</text>
<line x1="297.7" y1="258.06" x2="298.9" y2="258.06" stroke="#111" stroke-width="0.6"/>
<text x="297.2" y="259.97" font-size="5.3" text-anchor="end" font-weight="bold" fill="#111" stroke="#111" stroke-width="0.19">1.5</text>
<line x1="297.7" y1="246.38" x2="298.9" y2="246.38" stroke="#111" stroke-width="0.6"/>
<text x="297.2" y="248.29" font-size="5.3" text-anchor="end" font-weight="bold" fill="#111" stroke="#111" stroke-width="0.19">2.0</text>
<line x1="297.7" y1="234.7" x2="298.9" y2="234.7" stroke="#111" stroke-width="0.6"/>
<text x="297.2" y="236.61" font-size="5.3" text-anchor="end" font-weight="bold" fill="#111" stroke="#111" stroke-width="0.19">2.5</text>
<line x1="298.9" y1="293.1" x2="392" y2="293.1" stroke="#111" stroke-width="0.6"/>
<line x1="311.85" y1="269.74" x2="311.85" y2="268.1" stroke="#777" stroke-width="0.4"/>
<line x1="310.05" y1="268.1" x2="313.65" y2="268.1" stroke="#777" stroke-width="0.4"/>
<rect x="302.7" y="269.74" width="18.3" height="23.36" fill="#000"/>
<line x1="330.4" y1="252.92" x2="330.4" y2="242.18" stroke="#555" stroke-width="0.45"/>
<line x1="328.4" y1="242.18" x2="332.4" y2="242.18" stroke="#555" stroke-width="0.45"/>
<rect x="321" y="252.92" width="18.8" height="40.18" fill="#fff" stroke="#222" stroke-width="0.45"/>
<text x="331" y="242" font-size="5.5" text-anchor="middle" font-weight="bold" fill="#333" stroke="#333" stroke-width="0.19">*</text>
<line x1="358.6" y1="269.74" x2="358.6" y2="269.04" stroke="#777" stroke-width="0.4"/>
<line x1="356.8" y1="269.04" x2="360.4" y2="269.04" stroke="#777" stroke-width="0.4"/>
<rect x="349.2" y="269.74" width="18.8" height="23.36" fill="#000"/>
<line x1="377.5" y1="248.48" x2="377.5" y2="244.28" stroke="#555" stroke-width="0.45"/>
<line x1="375.5" y1="244.28" x2="379.5" y2="244.28" stroke="#555" stroke-width="0.45"/>
<rect x="368" y="248.48" width="19" height="44.62" fill="#fff" stroke="#222" stroke-width="0.45"/>
<text x="377.5" y="243.8" font-size="5.5" text-anchor="middle" font-weight="bold" fill="#333" stroke="#333" stroke-width="0.19">*</text>
<text x="320.4" y="303.5" font-size="5.3" text-anchor="middle" font-weight="bold" fill="#111" stroke="#111" stroke-width="0.19">p53</text>
<text x="367.5" y="303.5" font-size="5.3" text-anchor="middle" font-weight="bold" fill="#111" stroke="#111" stroke-width="0.19">p21</text>
<rect x="301.6" y="235.2" width="6.6" height="2.7" fill="#000"/>
<rect x="301.6" y="239.8" width="6.6" height="2.7" fill="#fff" stroke="#222" stroke-width="0.4"/>
<text x="309.4" y="237.9" font-size="4.1" text-anchor="start" font-weight="bold" fill="#111" stroke="#111" stroke-width="0.14">sh-Ctrl</text>
<text x="309.4" y="242.5" font-size="4.1" text-anchor="start" font-weight="bold" fill="#111" stroke="#111" stroke-width="0.14">sh-PNO1</text>
<text x="462.4" y="228.6" font-size="5.3" text-anchor="middle" font-weight="bold" fill="#111" stroke="#111" stroke-width="0.19">RKO</text>
<line x1="412.8" y1="293.2" x2="412.8" y2="234.2" stroke="#111" stroke-width="0.6"/>
<line x1="411.6" y1="292.9" x2="412.8" y2="292.9" stroke="#111" stroke-width="0.6"/>
<text x="411.1" y="294.81" font-size="5.3" text-anchor="end" font-weight="bold" fill="#111" stroke="#111" stroke-width="0.19">0.0</text>
<line x1="411.6" y1="278.3" x2="412.8" y2="278.3" stroke="#111" stroke-width="0.6"/>
<text x="411.1" y="280.21" font-size="5.3" text-anchor="end" font-weight="bold" fill="#111" stroke="#111" stroke-width="0.19">0.5</text>
<line x1="411.6" y1="263.7" x2="412.8" y2="263.7" stroke="#111" stroke-width="0.6"/>
<text x="411.1" y="265.61" font-size="5.3" text-anchor="end" font-weight="bold" fill="#111" stroke="#111" stroke-width="0.19">1.0</text>
<line x1="411.6" y1="249.1" x2="412.8" y2="249.1" stroke="#111" stroke-width="0.6"/>
<text x="411.1" y="251.01" font-size="5.3" text-anchor="end" font-weight="bold" fill="#111" stroke="#111" stroke-width="0.19">1.5</text>
<line x1="411.6" y1="234.5" x2="412.8" y2="234.5" stroke="#111" stroke-width="0.6"/>
<text x="411.1" y="236.41" font-size="5.3" text-anchor="end" font-weight="bold" fill="#111" stroke="#111" stroke-width="0.19">2.0</text>
<line x1="412.8" y1="292.9" x2="512" y2="292.9" stroke="#111" stroke-width="0.6"/>
<line x1="426.7" y1="263.7" x2="426.7" y2="260.2" stroke="#777" stroke-width="0.4"/>
<line x1="424.9" y1="260.2" x2="428.5" y2="260.2" stroke="#777" stroke-width="0.4"/>
<rect x="417.5" y="263.7" width="18.4" height="29.2" fill="#000"/>
<line x1="445.4" y1="246.76" x2="445.4" y2="241.8" stroke="#555" stroke-width="0.45"/>
<line x1="443.4" y1="241.8" x2="447.4" y2="241.8" stroke="#555" stroke-width="0.45"/>
<rect x="435.9" y="246.76" width="19" height="46.14" fill="#fff" stroke="#222" stroke-width="0.45"/>
<text x="445.3" y="243.3" font-size="5.5" text-anchor="middle" font-weight="bold" fill="#333" stroke="#333" stroke-width="0.19">*</text>
<line x1="473.3" y1="263.7" x2="473.3" y2="262.53" stroke="#777" stroke-width="0.4"/>
<line x1="471.5" y1="262.53" x2="475.1" y2="262.53" stroke="#777" stroke-width="0.4"/>
<rect x="464.1" y="263.7" width="18.4" height="29.2" fill="#000"/>
<line x1="491.95" y1="247.93" x2="491.95" y2="245.3" stroke="#555" stroke-width="0.45"/>
<line x1="489.95" y1="245.3" x2="493.95" y2="245.3" stroke="#555" stroke-width="0.45"/>
<rect x="482.5" y="247.93" width="18.9" height="44.97" fill="#fff" stroke="#222" stroke-width="0.45"/>
<text x="491.8" y="244.6" font-size="5.5" text-anchor="middle" font-weight="bold" fill="#333" stroke="#333" stroke-width="0.19">*</text>
<text x="435.6" y="302" font-size="5.3" text-anchor="middle" font-weight="bold" fill="#111" stroke="#111" stroke-width="0.19">p53</text>
<text x="481" y="302" font-size="5.3" text-anchor="middle" font-weight="bold" fill="#111" stroke="#111" stroke-width="0.19">p21</text>
<rect x="415.6" y="235" width="6.6" height="2.7" fill="#000"/>
<rect x="415.6" y="239.6" width="6.6" height="2.7" fill="#fff" stroke="#222" stroke-width="0.4"/>
<text x="423.4" y="237.7" font-size="4.1" text-anchor="start" font-weight="bold" fill="#111" stroke="#111" stroke-width="0.14">sh-Ctrl</text>
<text x="423.4" y="242.3" font-size="4.1" text-anchor="start" font-weight="bold" fill="#111" stroke="#111" stroke-width="0.14">sh-PNO1</text>
<text x="1.4" y="325" font-size="12.5" text-anchor="start" font-weight="bold" fill="#000" stroke="#000" stroke-width="0.44">H</text>
<text x="67.3" y="324.2" font-size="6" text-anchor="middle" font-weight="bold" fill="#111" stroke="#111" stroke-width="0.21">HCT116/p53<tspan font-size="3.6" dy="-2.2">+/+</tspan></text>
<text x="116.5" y="324.2" font-size="6" text-anchor="middle" font-weight="bold" fill="#111" stroke="#111" stroke-width="0.21">HCT116/p53<tspan font-size="3.6" dy="-2.2">−/−</tspan></text>
<line x1="40.8" y1="327.3" x2="89.6" y2="327.3" stroke="#3a3a3a" stroke-width="0.9"/>
<line x1="93.5" y1="327.3" x2="140.9" y2="327.3" stroke="#3a3a3a" stroke-width="0.9"/>
<text x="51" y="336.1" font-size="5.4" text-anchor="middle" font-weight="bold" fill="#111" stroke="#111" stroke-width="0.19">sh-Ctrl</text>
<text x="78.4" y="336.1" font-size="5.4" text-anchor="middle" font-weight="bold" fill="#111" stroke="#111" stroke-width="0.19">sh-PNO1</text>
<text x="102" y="336.1" font-size="5.4" text-anchor="middle" font-weight="bold" fill="#111" stroke="#111" stroke-width="0.19">sh-Ctrl</text>
<text x="130" y="336.1" font-size="5.4" text-anchor="middle" font-weight="bold" fill="#111" stroke="#111" stroke-width="0.19">sh-PNO1</text>
<g clip-path="url(#ch0)">
<rect x="36.3" y="338.5" width="105.5" height="18" fill="#dcdcdc"/>
<rect x="42.3" y="340.5" width="93.5" height="14" fill="#fff" opacity="0.6" filter="url(#b2)"/>
<rect x="39.1" y="344.4" width="23" height="7.2" rx="3.6" fill="#050505" opacity="0.9" filter="url(#b3)"/>
<rect x="40.6" y="345.2" width="20" height="5.6" rx="2.8" fill="#050505" opacity="1" filter="url(#b1)"/>
<ellipse cx="78" cy="348.2" rx="9.5" ry="2.4" fill="#050505" opacity="0.85" filter="url(#b3)"/>
<ellipse cx="78" cy="348.2" rx="8" ry="1.5" fill="#050505" opacity="0.6" filter="url(#b1)"/>
<rect x="91.5" y="344.1" width="22" height="6.6" rx="3.3" fill="#050505" opacity="0.9" filter="url(#b3)"/>
<rect x="93" y="344.9" width="19" height="5" rx="2.5" fill="#050505" opacity="1" filter="url(#b1)"/>
<ellipse cx="130" cy="348.6" rx="8" ry="1.8" fill="#050505" opacity="0.4" filter="url(#b3)"/>
<ellipse cx="50.6" cy="343.2" rx="11" ry="3" fill="#050505" opacity="0.3" filter="url(#b3)"/>
<ellipse cx="102.5" cy="342.8" rx="10" ry="3" fill="#050505" opacity="0.28" filter="url(#b3)"/>
<ellipse cx="78" cy="345" rx="9" ry="2.5" fill="#050505" opacity="0.15" filter="url(#b3)"/>
<circle cx="44.4" cy="341" r="1.2" fill="#111"/><circle cx="40.6" cy="343.6" r="1.2" fill="#151515"/><circle cx="42.5" cy="342.3" r="0.8" fill="#444"/><circle cx="41" cy="340.4" r="0.6" fill="#666"/>
</g>
<rect x="36.3" y="338.5" width="105.5" height="18" rx="0.6" fill="none" stroke="#151515" stroke-width="0.8"/>
<g clip-path="url(#ch1)">
<rect x="36.3" y="358.1" width="105.5" height="18.5" fill="#dcdcdc"/>
<rect x="42.3" y="360.1" width="93.5" height="14.5" fill="#fff" opacity="0.6" filter="url(#b2)"/>
<rect x="68.3" y="362.7" width="20.6" height="6" rx="3" fill="#050505" opacity="0.9" filter="url(#b3)"/>
<rect x="69.8" y="363.5" width="17.6" height="4.4" rx="2.2" fill="#050505" opacity="1" filter="url(#b1)"/>
<circle cx="42" cy="373.6" r="0.9" fill="#555"/>
<ellipse cx="51" cy="367" rx="8" ry="8" fill="#050505" opacity="0.1" filter="url(#b3)"/>
<ellipse cx="103" cy="367" rx="9" ry="10" fill="#050505" opacity="0.14" filter="url(#b3)"/>
<ellipse cx="130" cy="367" rx="7" ry="10" fill="#050505" opacity="0.1" filter="url(#b3)"/>
<ellipse cx="78" cy="372" rx="9" ry="4" fill="#050505" opacity="0.08" filter="url(#b3)"/>
</g>
<rect x="36.3" y="358.1" width="105.5" height="18.5" rx="0.6" fill="none" stroke="#151515" stroke-width="0.8"/>
<g clip-path="url(#ch2)">
<rect x="36.3" y="379.4" width="105.5" height="15.3" fill="#e6e6e6"/>
<rect x="42.3" y="381.4" width="93.5" height="11.3" fill="#fff" opacity="0.6" filter="url(#b2)"/>
<ellipse cx="50.6" cy="387.3" rx="9.5" ry="1.45" fill="#050505" opacity="1" filter="url(#b1)"/>
<ellipse cx="78" cy="387.3" rx="9.5" ry="1.45" fill="#050505" opacity="1" filter="url(#b1)"/>
<ellipse cx="102.5" cy="387.3" rx="9.5" ry="1.45" fill="#050505" opacity="1" filter="url(#b1)"/>
<ellipse cx="130" cy="387.3" rx="9.5" ry="1.45" fill="#050505" opacity="1" filter="url(#b1)"/>
<rect x="41" y="386.5" width="97" height="1.6" rx="0.8" fill="#050505" opacity="0.25" filter="url(#b3)"/>
</g>
<rect x="36.3" y="379.4" width="105.5" height="15.3" rx="0.6" fill="none" stroke="#151515" stroke-width="0.8"/>
<text x="33.5" y="353.2" font-size="5.4" text-anchor="end" font-weight="bold" fill="#111" stroke="#111" stroke-width="0.19">PNO1</text>
<text x="33.5" y="368.8" font-size="5.5" text-anchor="end" font-weight="bold" fill="#111" stroke="#111" stroke-width="0.19">p53</text>
<text x="33.7" y="390.5" font-size="5.4" text-anchor="end" font-weight="bold" fill="#111" stroke="#111" stroke-width="0.19">β-Actin</text>
<line x1="169.3" y1="389.8" x2="169.3" y2="331.7" stroke="#aaa" stroke-width="0.5"/>
<line x1="168.1" y1="389.5" x2="169.3" y2="389.5" stroke="#aaa" stroke-width="0.5"/>
<text x="167.6" y="391.59" font-size="5.8" text-anchor="end" font-weight="bold" fill="#111" stroke="#111" stroke-width="0.2">0.0</text>
<line x1="168.1" y1="379.92" x2="169.3" y2="379.92" stroke="#aaa" stroke-width="0.5"/>
<text x="167.6" y="382" font-size="5.8" text-anchor="end" font-weight="bold" fill="#111" stroke="#111" stroke-width="0.2">0.5</text>
<line x1="168.1" y1="370.33" x2="169.3" y2="370.33" stroke="#aaa" stroke-width="0.5"/>
<text x="167.6" y="372.42" font-size="5.8" text-anchor="end" font-weight="bold" fill="#111" stroke="#111" stroke-width="0.2">1.0</text>
<line x1="168.1" y1="360.75" x2="169.3" y2="360.75" stroke="#aaa" stroke-width="0.5"/>
<text x="167.6" y="362.84" font-size="5.8" text-anchor="end" font-weight="bold" fill="#111" stroke="#111" stroke-width="0.2">1.5</text>
<line x1="168.1" y1="351.17" x2="169.3" y2="351.17" stroke="#aaa" stroke-width="0.5"/>
<text x="167.6" y="353.25" font-size="5.8" text-anchor="end" font-weight="bold" fill="#111" stroke="#111" stroke-width="0.2">2.0</text>
<line x1="168.1" y1="341.58" x2="169.3" y2="341.58" stroke="#aaa" stroke-width="0.5"/>
<text x="167.6" y="343.67" font-size="5.8" text-anchor="end" font-weight="bold" fill="#111" stroke="#111" stroke-width="0.2">2.5</text>
<line x1="168.1" y1="332" x2="169.3" y2="332" stroke="#aaa" stroke-width="0.5"/>
<text x="167.6" y="334.09" font-size="5.8" text-anchor="end" font-weight="bold" fill="#111" stroke="#111" stroke-width="0.2">3.0</text>
<line x1="169.3" y1="389.5" x2="263" y2="389.5" stroke="#aaa" stroke-width="0.5"/>
<text x="154.3" y="358.5" font-size="5.45" text-anchor="middle" font-weight="bold" fill="#111" stroke="#111" stroke-width="0.19" transform="rotate(-90 154.3 358.5)">Relative protein expression</text>
<line x1="177.85" y1="370.33" x2="177.85" y2="364.2" stroke="#6fb6cc" stroke-width="0.45"/>
<line x1="176.05" y1="364.2" x2="179.65" y2="364.2" stroke="#6fb6cc" stroke-width="0.45"/>
<rect x="173.1" y="370.33" width="9.5" height="19.17" fill="#a9dff0" stroke="#6fb6cc" stroke-width="0.3"/>
<line x1="187.35" y1="378" x2="187.35" y2="376.08" stroke="#b3200f" stroke-width="0.45"/>
<line x1="185.55" y1="376.08" x2="189.15" y2="376.08" stroke="#b3200f" stroke-width="0.45"/>
<rect x="182.6" y="378" width="9.5" height="11.5" fill="#e8321e" stroke="#b3200f" stroke-width="0.3"/>
<text x="187.35" y="374.88" font-size="5.5" text-anchor="middle" font-weight="bold" fill="#444" stroke="#444" stroke-width="0.19">*</text>
<line x1="196.85" y1="370.33" x2="196.85" y2="367.46" stroke="#9460a8" stroke-width="0.45"/>
<line x1="195.05" y1="367.46" x2="198.65" y2="367.46" stroke="#9460a8" stroke-width="0.45"/>
<rect x="192.1" y="370.33" width="9.5" height="19.17" fill="#c084d2" stroke="#9460a8" stroke-width="0.3"/>
<line x1="206.35" y1="383.37" x2="206.35" y2="378" stroke="#1e2c78" stroke-width="0.45"/>
<line x1="204.55" y1="378" x2="208.15" y2="378" stroke="#1e2c78" stroke-width="0.45"/>
<rect x="201.6" y="383.37" width="9.5" height="6.13" fill="#3242a0" stroke="#1e2c78" stroke-width="0.3"/>
<text x="206.35" y="377" font-size="4" text-anchor="middle" font-weight="normal" fill="#444" stroke="#444" stroke-width="0.14">#</text>
<line x1="225.15" y1="370.33" x2="225.15" y2="367.46" stroke="#6fb6cc" stroke-width="0.45"/>
<line x1="223.35" y1="367.46" x2="226.95" y2="367.46" stroke="#6fb6cc" stroke-width="0.45"/>
<rect x="220.4" y="370.33" width="9.5" height="19.17" fill="#a9dff0" stroke="#6fb6cc" stroke-width="0.3"/>
<line x1="234.65" y1="346.38" x2="234.65" y2="340.62" stroke="#b3200f" stroke-width="0.45"/>
<line x1="232.85" y1="340.62" x2="236.45" y2="340.62" stroke="#b3200f" stroke-width="0.45"/>
<rect x="229.9" y="346.38" width="9.5" height="43.12" fill="#e8321e" stroke="#b3200f" stroke-width="0.3"/>
<text x="234.65" y="339.43" font-size="5.5" text-anchor="middle" font-weight="bold" fill="#444" stroke="#444" stroke-width="0.19">*</text>
<rect x="239.4" y="388.54" width="9.5" height="0.96" fill="#c084d2" stroke="#9460a8" stroke-width="0.3"/>
<rect x="248.9" y="388.54" width="9.5" height="0.96" fill="#3242a0" stroke="#1e2c78" stroke-width="0.3"/>
<text x="191.5" y="400" font-size="5.7" text-anchor="middle" font-weight="bold" fill="#111" stroke="#111" stroke-width="0.2">PNO1</text>
<text x="243.8" y="400" font-size="5.7" text-anchor="middle" font-weight="bold" fill="#111" stroke="#111" stroke-width="0.2">p53</text>
<rect x="173.7" y="332.7" width="7.6" height="3.2" fill="#a9dff0" stroke="#6fb6cc" stroke-width="0.25"/>
<text x="182.8" y="335.6" font-size="3.75" text-anchor="start" font-weight="bold" fill="#111" stroke="#111" stroke-width="0.13">HCT-116/p53<tspan font-size="2.3" dy="-1.3">+/+</tspan><tspan dy="1.3">+sh-Ctrl</tspan></text>
<rect x="173.7" y="337.5" width="7.6" height="3.2" fill="#e8321e" stroke="#b3200f" stroke-width="0.25"/>
<text x="182.8" y="340.4" font-size="3.75" text-anchor="start" font-weight="bold" fill="#111" stroke="#111" stroke-width="0.13">HCT-116/p53<tspan font-size="2.3" dy="-1.3">+/+</tspan><tspan dy="1.3">+sh-PNO1</tspan></text>
<rect x="173.7" y="342.3" width="7.6" height="3.2" fill="#c084d2" stroke="#9460a8" stroke-width="0.25"/>
<text x="182.8" y="345.2" font-size="3.75" text-anchor="start" font-weight="bold" fill="#111" stroke="#111" stroke-width="0.13">HCT-116/p53<tspan font-size="2.3" dy="-1.3">−/−</tspan><tspan dy="1.3">+sh-Ctrl</tspan></text>
<rect x="173.7" y="347.1" width="7.6" height="3.2" fill="#3242a0" stroke="#1e2c78" stroke-width="0.25"/>
<text x="182.8" y="350" font-size="3.75" text-anchor="start" font-weight="bold" fill="#111" stroke="#111" stroke-width="0.13">HCT-116/p53<tspan font-size="2.3" dy="-1.3">−/−</tspan><tspan dy="1.3">+sh-PNO1</tspan></text>
<text x="270.3" y="325.3" font-size="12.5" text-anchor="start" font-weight="bold" fill="#000" stroke="#000" stroke-width="0.44">I</text>
<line x1="299" y1="391.3" x2="299" y2="332" stroke="#777" stroke-width="0.5"/>
<line x1="297.8" y1="391" x2="299" y2="391" stroke="#777" stroke-width="0.5"/>
<text x="297.3" y="392.48" font-size="4.1" text-anchor="end" font-weight="bold" fill="#111" stroke="#111" stroke-width="0.14">0.0</text>
<line x1="297.8" y1="381.22" x2="299" y2="381.22" stroke="#777" stroke-width="0.5"/>
<text x="297.3" y="382.69" font-size="4.1" text-anchor="end" font-weight="bold" fill="#111" stroke="#111" stroke-width="0.14">0.5</text>
<line x1="297.8" y1="371.43" x2="299" y2="371.43" stroke="#777" stroke-width="0.5"/>
<text x="297.3" y="372.91" font-size="4.1" text-anchor="end" font-weight="bold" fill="#111" stroke="#111" stroke-width="0.14">1.0</text>
<line x1="297.8" y1="361.65" x2="299" y2="361.65" stroke="#777" stroke-width="0.5"/>
<text x="297.3" y="363.13" font-size="4.1" text-anchor="end" font-weight="bold" fill="#111" stroke="#111" stroke-width="0.14">1.5</text>
<line x1="297.8" y1="351.87" x2="299" y2="351.87" stroke="#777" stroke-width="0.5"/>
<text x="297.3" y="353.34" font-size="4.1" text-anchor="end" font-weight="bold" fill="#111" stroke="#111" stroke-width="0.14">2.0</text>
<line x1="297.8" y1="342.08" x2="299" y2="342.08" stroke="#777" stroke-width="0.5"/>
<text x="297.3" y="343.56" font-size="4.1" text-anchor="end" font-weight="bold" fill="#111" stroke="#111" stroke-width="0.14">2.5</text>
<line x1="297.8" y1="332.3" x2="299" y2="332.3" stroke="#777" stroke-width="0.5"/>
<text x="297.3" y="333.78" font-size="4.1" text-anchor="end" font-weight="bold" fill="#111" stroke="#111" stroke-width="0.14">3.0</text>
<line x1="299" y1="391" x2="395" y2="391" stroke="#777" stroke-width="0.5"/>
<line x1="308.8" y1="391" x2="308.8" y2="392.5" stroke="#777" stroke-width="0.5"/>
<text x="308.8" y="397.2" font-size="4.1" text-anchor="middle" font-weight="bold" fill="#111" stroke="#111" stroke-width="0.14">1</text>
<line x1="347.2" y1="391" x2="347.2" y2="392.5" stroke="#777" stroke-width="0.5"/>
<text x="347.2" y="397.2" font-size="4.1" text-anchor="middle" font-weight="bold" fill="#111" stroke="#111" stroke-width="0.14">2</text>
<line x1="386" y1="391" x2="386" y2="392.5" stroke="#777" stroke-width="0.5"/>
<text x="386" y="397.2" font-size="4.1" text-anchor="middle" font-weight="bold" fill="#111" stroke="#111" stroke-width="0.14">3</text>
<text x="347.2" y="403.1" font-size="6.5" text-anchor="middle" font-weight="bold" fill="#111" stroke="#111" stroke-width="0.23">Days</text>
<text x="277" y="362" font-size="6.4" text-anchor="middle" font-weight="bold" fill="#111" stroke="#111" stroke-width="0.3" transform="rotate(-90 277 362)" textLength="33.8" lengthAdjust="spacingAndGlyphs">Cell viability</text>
<text x="285" y="364" font-size="5.7" text-anchor="middle" font-weight="bold" fill="#111" stroke="#111" stroke-width="0.28" transform="rotate(-90 285 364)" textLength="31" lengthAdjust="spacingAndGlyphs">(fold change)</text>
<polyline points="308.8,371.43 347.2,364.98 386,341.11" fill="none" stroke="#d4d8e0" stroke-width="1.0"/>
<polyline points="308.8,371.43 347.2,364.98 386,343.45" fill="none" stroke="#d8dce4" stroke-width="1.0"/>
<polyline points="308.8,371.43 347.2,369.09 386,358.72" fill="none" stroke="#eadcde" stroke-width="1.0"/>
<rect x="308" y="370.63" width="1.6" height="1.6" fill="#a8b0c4"/>
<rect x="346.4" y="364.18" width="1.6" height="1.6" fill="#a8b0c4"/>
<line x1="386" y1="343.06" x2="386" y2="339.15" stroke="#a8b0c4" stroke-width="0.35"/>
<line x1="385.1" y1="339.15" x2="386.9" y2="339.15" stroke="#a8b0c4" stroke-width="0.35"/>
<rect x="385.2" y="340.31" width="1.6" height="1.6" fill="#a8b0c4"/>
<rect x="308" y="370.63" width="1.6" height="1.6" fill="#7f8db8"/>
<rect x="346.4" y="364.18" width="1.6" height="1.6" fill="#7f8db8"/>
<line x1="386" y1="345.02" x2="386" y2="341.89" stroke="#7f8db8" stroke-width="0.35"/>
<line x1="385.1" y1="341.89" x2="386.9" y2="341.89" stroke="#7f8db8" stroke-width="0.35"/>
<rect x="385.2" y="342.65" width="1.6" height="1.6" fill="#7f8db8"/>
<rect x="308" y="370.63" width="1.6" height="1.6" fill="#d8404a"/>
<rect x="346.4" y="368.29" width="1.6" height="1.6" fill="#d8404a"/>
<line x1="386" y1="359.69" x2="386" y2="357.74" stroke="#d8404a" stroke-width="0.35"/>
<line x1="385.1" y1="357.74" x2="386.9" y2="357.74" stroke="#d8404a" stroke-width="0.35"/>
<rect x="385.2" y="357.92" width="1.6" height="1.6" fill="#d8404a"/>
<rect x="308" y="370.63" width="1.6" height="1.6" fill="#2a3a7a"/>
<rect x="346.4" y="364.37" width="1.6" height="1.6" fill="#2a3a7a"/>
<line x1="386" y1="353.24" x2="386" y2="351.67" stroke="#2a3a7a" stroke-width="0.35"/>
<line x1="385.1" y1="351.67" x2="386.9" y2="351.67" stroke="#2a3a7a" stroke-width="0.35"/>
<rect x="385.2" y="351.65" width="1.6" height="1.6" fill="#2a3a7a"/>
<rect x="307.9" y="370.53" width="1.8" height="1.8" fill="#2a2a3a"/>
<line x1="306.2" y1="333.7" x2="310.2" y2="333.7" stroke="#d8d8dc" stroke-width="0.4"/>
<rect x="307.6" y="333.1" width="1.2" height="1.2" fill="#b8bcc8"/>
<text x="313.3" y="334.85" font-size="3.35" text-anchor="start" font-weight="bold" fill="#222" stroke="#222" stroke-width="0.12">HCT-116/p53<tspan font-size="2" dy="-1.1">+/+</tspan><tspan dy="1.1"> +sh-Ctrl</tspan></text>
<line x1="306.2" y1="338.63" x2="310.2" y2="338.63" stroke="#d8d8dc" stroke-width="0.4"/>
<rect x="307.6" y="338.03" width="1.2" height="1.2" fill="#d8404a"/>
<text x="313.3" y="339.78" font-size="3.35" text-anchor="start" font-weight="bold" fill="#222" stroke="#222" stroke-width="0.12">HCT-116/p53<tspan font-size="2" dy="-1.1">+/+</tspan><tspan dy="1.1"> +sh-PNO1</tspan></text>
<line x1="306.2" y1="343.56" x2="310.2" y2="343.56" stroke="#d8d8dc" stroke-width="0.4"/>
<rect x="307.6" y="342.96" width="1.2" height="1.2" fill="#e08890"/>
<text x="313.3" y="344.71" font-size="3.35" text-anchor="start" font-weight="bold" fill="#222" stroke="#222" stroke-width="0.12">HCT-116/p53<tspan font-size="2" dy="-1.1">−/−</tspan><tspan dy="1.1"> +sh-Ctrl</tspan></text>
<line x1="306.2" y1="348.49" x2="310.2" y2="348.49" stroke="#d8d8dc" stroke-width="0.4"/>
<rect x="307.6" y="347.89" width="1.2" height="1.2" fill="#2a3a7a"/>
<text x="313.3" y="349.64" font-size="3.35" text-anchor="start" font-weight="bold" fill="#222" stroke="#222" stroke-width="0.12">HCT-116/p53<tspan font-size="2" dy="-1.1">−/−</tspan><tspan dy="1.1"> +sh-PNO1</tspan></text>
<text x="404" y="325.3" font-size="12.5" text-anchor="start" font-weight="bold" fill="#000" stroke="#000" stroke-width="0.44">J</text>
<line x1="425.8" y1="390.2" x2="425.8" y2="331.2" stroke="#111" stroke-width="0.6"/>
<line x1="424.6" y1="389.9" x2="425.8" y2="389.9" stroke="#111" stroke-width="0.6"/>
<text x="424.1" y="391.41" font-size="4.2" text-anchor="end" font-weight="bold" fill="#111" stroke="#111" stroke-width="0.15">0.0</text>
<line x1="424.6" y1="375.3" x2="425.8" y2="375.3" stroke="#111" stroke-width="0.6"/>
<text x="424.1" y="376.81" font-size="4.2" text-anchor="end" font-weight="bold" fill="#111" stroke="#111" stroke-width="0.15">0.5</text>
<line x1="424.6" y1="360.7" x2="425.8" y2="360.7" stroke="#111" stroke-width="0.6"/>
<text x="424.1" y="362.21" font-size="4.2" text-anchor="end" font-weight="bold" fill="#111" stroke="#111" stroke-width="0.15">1.0</text>
<line x1="424.6" y1="346.1" x2="425.8" y2="346.1" stroke="#111" stroke-width="0.6"/>
<text x="424.1" y="347.61" font-size="4.2" text-anchor="end" font-weight="bold" fill="#111" stroke="#111" stroke-width="0.15">1.5</text>
<line x1="424.6" y1="331.5" x2="425.8" y2="331.5" stroke="#111" stroke-width="0.6"/>
<text x="424.1" y="333.01" font-size="4.2" text-anchor="end" font-weight="bold" fill="#111" stroke="#111" stroke-width="0.15">2.0</text>
<line x1="425.8" y1="389.9" x2="520" y2="389.9" stroke="#111" stroke-width="0.6"/>
<text x="412.6" y="361.6" font-size="6.1" text-anchor="middle" font-weight="bold" fill="#111" stroke="#111" stroke-width="0.21" transform="rotate(-90 412.6 361.6)">OD Value</text>
<text x="472.3" y="403.1" font-size="6.5" text-anchor="middle" font-weight="bold" fill="#111" stroke="#111" stroke-width="0.23">Days</text>
<rect x="427.7" y="381.72" width="3.85" height="8.18" fill="url(#jg0)"/>
<rect x="431.55" y="381.43" width="3.85" height="8.47" fill="url(#jg1)"/>
<rect x="435.4" y="384.06" width="3.85" height="5.84" fill="url(#jg2)"/>
<rect x="439.25" y="384.06" width="3.85" height="5.84" fill="url(#jg3)"/>
<line x1="435.4" y1="389.9" x2="435.4" y2="391.3" stroke="#111" stroke-width="0.5"/>
<text x="435.4" y="396.3" font-size="4.2" text-anchor="middle" font-weight="bold" fill="#111" stroke="#111" stroke-width="0.15">1</text>
<rect x="446.3" y="373.84" width="3.85" height="16.06" fill="url(#jg0)"/>
<rect x="450.15" y="373.26" width="3.85" height="16.64" fill="url(#jg1)"/>
<rect x="454" y="381.14" width="3.85" height="8.76" fill="url(#jg2)"/>
<rect x="457.85" y="381.14" width="3.85" height="8.76" fill="url(#jg3)"/>
<line x1="454" y1="389.9" x2="454" y2="391.3" stroke="#111" stroke-width="0.5"/>
<text x="454" y="396.3" font-size="4.2" text-anchor="middle" font-weight="bold" fill="#111" stroke="#111" stroke-width="0.15">2</text>
<rect x="465.1" y="363.62" width="3.85" height="26.28" fill="url(#jg0)"/>
<rect x="468.95" y="363.04" width="3.85" height="26.86" fill="url(#jg1)"/>
<rect x="472.8" y="377.34" width="3.85" height="12.56" fill="url(#jg2)"/>
<rect x="476.65" y="376.47" width="3.85" height="13.43" fill="url(#jg3)"/>
<line x1="472.8" y1="389.9" x2="472.8" y2="391.3" stroke="#111" stroke-width="0.5"/>
<text x="472.8" y="396.3" font-size="4.2" text-anchor="middle" font-weight="bold" fill="#111" stroke="#111" stroke-width="0.15">3</text>
<rect x="483.8" y="351.06" width="3.85" height="38.84" fill="url(#jg0)"/>
<rect x="487.65" y="346.1" width="3.85" height="43.8" fill="url(#jg1)"/>
<rect x="491.5" y="367.12" width="3.85" height="22.78" fill="url(#jg2)"/>
<rect x="495.35" y="365.66" width="3.85" height="24.24" fill="url(#jg3)"/>
<line x1="491.5" y1="389.9" x2="491.5" y2="391.3" stroke="#111" stroke-width="0.5"/>
<text x="491.5" y="396.3" font-size="4.2" text-anchor="middle" font-weight="bold" fill="#111" stroke="#111" stroke-width="0.15">4</text>
<rect x="502.4" y="352.82" width="3.85" height="37.08" fill="url(#jg0)"/>
<rect x="506.25" y="345.52" width="3.85" height="44.38" fill="url(#jg1)"/>
<rect x="510.1" y="366.83" width="3.85" height="23.07" fill="url(#jg2)"/>
<rect x="513.95" y="363.62" width="3.85" height="26.28" fill="url(#jg3)"/>
<line x1="510.1" y1="389.9" x2="510.1" y2="391.3" stroke="#111" stroke-width="0.5"/>
<text x="510.1" y="396.3" font-size="4.2" text-anchor="middle" font-weight="bold" fill="#111" stroke="#111" stroke-width="0.15">5</text>
<rect x="429.6" y="332.3" width="6.2" height="3.2" fill="#8fd4ea" stroke="#4f9cb8" stroke-width="0.25"/>
<text x="437.3" y="335.1" font-size="3.5" text-anchor="start" font-weight="bold" fill="#111" stroke="#111" stroke-width="0.12">sh-Ctrl+DMSO</text>
<rect x="429.6" y="336.92" width="6.2" height="3.2" fill="#e8321e" stroke="#a81c0c" stroke-width="0.25"/>
<text x="437.3" y="339.72" font-size="3.5" text-anchor="start" font-weight="bold" fill="#111" stroke="#111" stroke-width="0.12">sh-Ctrl+PFT-α</text>
<rect x="429.6" y="341.54" width="6.2" height="3.2" fill="#c084d2" stroke="#8c58a0" stroke-width="0.25"/>
<text x="437.3" y="344.34" font-size="3.5" text-anchor="start" font-weight="bold" fill="#111" stroke="#111" stroke-width="0.12">sh-PNO1+DMSO</text>
<rect x="429.6" y="346.16" width="6.2" height="3.2" fill="#3242a0" stroke="#1c2870" stroke-width="0.25"/>
<text x="437.3" y="348.96" font-size="3.5" text-anchor="start" font-weight="bold" fill="#111" stroke="#111" stroke-width="0.12">sh-PNO1+PFT-α</text>
<line x1="483.8" y1="341.2" x2="490" y2="341.2" stroke="#666" stroke-width="0.8"/>
<text x="486.9" y="341.2" font-size="6" text-anchor="middle" font-weight="bold" fill="#333" stroke="#333" stroke-width="0.21">*</text>
<line x1="492.4" y1="360.8" x2="499.4" y2="360.8" stroke="#666" stroke-width="0.8"/>
<text x="495.6" y="358.9" font-size="5.2" text-anchor="middle" font-weight="normal" fill="#666" stroke="#666" stroke-width="0.18" font-style="italic">#</text>
<line x1="501.8" y1="340.1" x2="508.2" y2="340.1" stroke="#666" stroke-width="0.8"/>
<text x="505.2" y="340.3" font-size="6" text-anchor="middle" font-weight="bold" fill="#333" stroke="#333" stroke-width="0.21">*</text>
<line x1="510.2" y1="358.5" x2="518.6" y2="358.5" stroke="#666" stroke-width="0.8"/>
<text x="514.4" y="356.9" font-size="5.2" text-anchor="middle" font-weight="normal" fill="#666" stroke="#666" stroke-width="0.18" font-style="italic">#</text>
</svg>
</body></html>
